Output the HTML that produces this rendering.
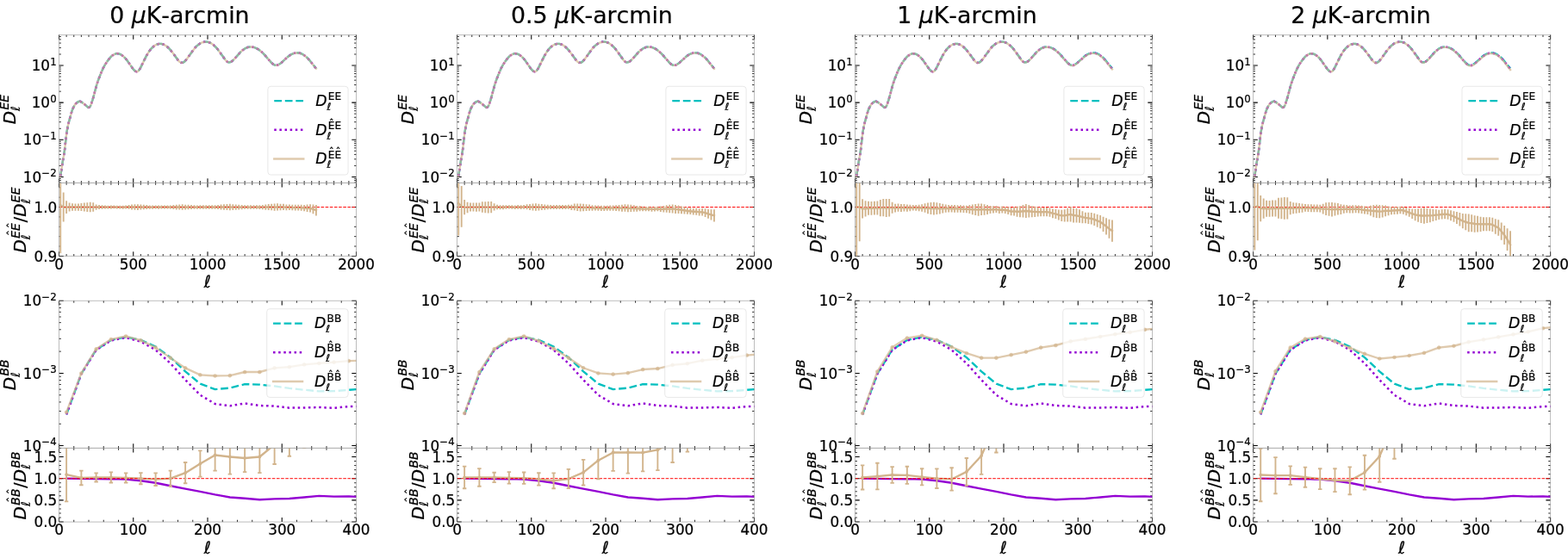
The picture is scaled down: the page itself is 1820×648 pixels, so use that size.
<!DOCTYPE html>
<html lang="en"><head><meta charset="utf-8"><title>Power spectra</title><style>html,body{margin:0;padding:0;background:#fff;overflow:hidden}svg{display:block}text{stroke:#000;stroke-width:.16px;stroke-linejoin:round;font-kerning:none;white-space:pre}</style></head><body><svg width="1820" height="648" viewBox="0 0 1310.4 466.56"><defs><style type="text/css">*{stroke-linejoin: round; stroke-linecap: butt}</style></defs><path d="M0 466.56L1310.4 466.56L1310.4 0L0 0z" style="fill: #ffffff" /><path d="M49.32 152.93L297.72 152.93L297.72 29.23L49.32 29.23z" style="fill: #ffffff" /><path d="M49.32 152.93L49.32 149.18M49.32 29.23L49.32 32.98M111.42 152.93L111.42 149.18M111.42 29.23L111.42 32.98M173.52 152.93L173.52 149.18M173.52 29.23L173.52 32.98M235.62 152.93L235.62 149.18M235.62 29.23L235.62 32.98M297.72 152.93L297.72 149.18M297.72 29.23L297.72 32.98" style="stroke: #000000; stroke-width: 0.75" /><path d="M55.53 152.93L55.53 151.23M55.53 29.23L55.53 30.93M61.74 152.93L61.74 151.23M61.74 29.23L61.74 30.93M67.95 152.93L67.95 151.23M67.95 29.23L67.95 30.93M74.16 152.93L74.16 151.23M74.16 29.23L74.16 30.93M80.37 152.93L80.37 151.23M80.37 29.23L80.37 30.93M86.58 152.93L86.58 151.23M86.58 29.23L86.58 30.93M92.79 152.93L92.79 151.23M92.79 29.23L92.79 30.93M99 152.93L99 151.23M99 29.23L99 30.93M105.21 152.93L105.21 151.23M105.21 29.23L105.21 30.93M117.63 152.93L117.63 151.23M117.63 29.23L117.63 30.93M123.84 152.93L123.84 151.23M123.84 29.23L123.84 30.93M130.05 152.93L130.05 151.23M130.05 29.23L130.05 30.93M136.26 152.93L136.26 151.23M136.26 29.23L136.26 30.93M142.47 152.93L142.47 151.23M142.47 29.23L142.47 30.93M148.68 152.93L148.68 151.23M148.68 29.23L148.68 30.93M154.89 152.93L154.89 151.23M154.89 29.23L154.89 30.93M161.1 152.93L161.1 151.23M161.1 29.23L161.1 30.93M167.31 152.93L167.31 151.23M167.31 29.23L167.31 30.93M179.73 152.93L179.73 151.23M179.73 29.23L179.73 30.93M185.94 152.93L185.94 151.23M185.94 29.23L185.94 30.93M192.15 152.93L192.15 151.23M192.15 29.23L192.15 30.93M198.36 152.93L198.36 151.23M198.36 29.23L198.36 30.93M204.57 152.93L204.57 151.23M204.57 29.23L204.57 30.93M210.78 152.93L210.78 151.23M210.78 29.23L210.78 30.93M216.99 152.93L216.99 151.23M216.99 29.23L216.99 30.93M223.2 152.93L223.2 151.23M223.2 29.23L223.2 30.93M229.41 152.93L229.41 151.23M229.41 29.23L229.41 30.93M241.83 152.93L241.83 151.23M241.83 29.23L241.83 30.93M248.04 152.93L248.04 151.23M248.04 29.23L248.04 30.93M254.25 152.93L254.25 151.23M254.25 29.23L254.25 30.93M260.46 152.93L260.46 151.23M260.46 29.23L260.46 30.93M266.67 152.93L266.67 151.23M266.67 29.23L266.67 30.93M272.88 152.93L272.88 151.23M272.88 29.23L272.88 30.93M279.09 152.93L279.09 151.23M279.09 29.23L279.09 30.93M285.3 152.93L285.3 151.23M285.3 29.23L285.3 30.93M291.51 152.93L291.51 151.23M291.51 29.23L291.51 30.93" style="stroke: #000000; stroke-width: 0.6" /><path d="M49.32 147.89L53.07 147.89M297.72 147.89L293.97 147.89" style="stroke: #000000; stroke-width: 0.75" /><g transform="translate(19.235 152.484)"><text><tspan x="0" y="-0.172" style="font-size: 12.1px; font-family:'DejaVu Sans',sans-serif">10</tspan><tspan x="15.543" y="-4.766" style="font-size: 8.47px; font-family:'DejaVu Sans',sans-serif">−2</tspan></text></g><path d="M49.32 116.83L53.07 116.83M297.72 116.83L293.97 116.83" style="stroke: #000000; stroke-width: 0.75" /><g transform="translate(19.235 121.429)"><text><tspan x="0" y="-0.281" style="font-size: 12.1px; font-family:'DejaVu Sans',sans-serif">10</tspan><tspan x="15.543" y="-4.875" style="font-size: 8.47px; font-family:'DejaVu Sans',sans-serif">−1</tspan></text></g><path d="M49.32 85.78L53.07 85.78M297.72 85.78L293.97 85.78" style="stroke: #000000; stroke-width: 0.75" /><g transform="translate(26.374 90.374)"><text><tspan x="0" y="-0.172" style="font-size: 12.1px; font-family:'DejaVu Sans',sans-serif">10</tspan><tspan x="15.543" y="-4.766" style="font-size: 8.47px; font-family:'DejaVu Sans',sans-serif">0</tspan></text></g><path d="M49.32 54.72L53.07 54.72M297.72 54.72L293.97 54.72" style="stroke: #000000; stroke-width: 0.75" /><g transform="translate(26.374 59.319)"><text><tspan x="0" y="-0.281" style="font-size: 12.1px; font-family:'DejaVu Sans',sans-serif">10</tspan><tspan x="15.543" y="-4.875" style="font-size: 8.47px; font-family:'DejaVu Sans',sans-serif">1</tspan></text></g><path d="M49.32 152.7L51.02 152.7M297.72 152.7L296.02 152.7M49.32 150.9L51.02 150.9M297.72 150.9L296.02 150.9M49.32 149.31L51.02 149.31M297.72 149.31L296.02 149.31M49.32 138.54L51.02 138.54M297.72 138.54L296.02 138.54M49.32 133.07L51.02 133.07M297.72 133.07L296.02 133.07M49.32 129.19L51.02 129.19M297.72 129.19L296.02 129.19M49.32 126.18L51.02 126.18M297.72 126.18L296.02 126.18M49.32 123.72L51.02 123.72M297.72 123.72L296.02 123.72M49.32 121.64L51.02 121.64M297.72 121.64L296.02 121.64M49.32 119.84L51.02 119.84M297.72 119.84L296.02 119.84M49.32 118.25L51.02 118.25M297.72 118.25L296.02 118.25M49.32 107.48L51.02 107.48M297.72 107.48L296.02 107.48M49.32 102.02L51.02 102.02M297.72 102.02L296.02 102.02M49.32 98.14L51.02 98.14M297.72 98.14L296.02 98.14M49.32 95.13L51.02 95.13M297.72 95.13L296.02 95.13M49.32 92.67L51.02 92.67M297.72 92.67L296.02 92.67M49.32 90.59L51.02 90.59M297.72 90.59L296.02 90.59M49.32 88.79L51.02 88.79M297.72 88.79L296.02 88.79M49.32 87.2L51.02 87.2M297.72 87.2L296.02 87.2M49.32 76.43L51.02 76.43M297.72 76.43L296.02 76.43M49.32 70.96L51.02 70.96M297.72 70.96L296.02 70.96M49.32 67.08L51.02 67.08M297.72 67.08L296.02 67.08M49.32 64.07L51.02 64.07M297.72 64.07L296.02 64.07M49.32 61.61L51.02 61.61M297.72 61.61L296.02 61.61M49.32 59.53L51.02 59.53M297.72 59.53L296.02 59.53M49.32 57.73L51.02 57.73M297.72 57.73L296.02 57.73M49.32 56.14L51.02 56.14M297.72 56.14L296.02 56.14M49.32 45.37L51.02 45.37M297.72 45.37L296.02 45.37M49.32 39.91L51.02 39.91M297.72 39.91L296.02 39.91M49.32 36.03L51.02 36.03M297.72 36.03L296.02 36.03M49.32 33.02L51.02 33.02M297.72 33.02L296.02 33.02M49.32 30.56L51.02 30.56M297.72 30.56L296.02 30.56" style="stroke: #000000; stroke-width: 0.6" /><g transform="translate(13.259 103.875) rotate(-90)"><text><tspan x="0" y="-0.498" style="font-style: oblique; font-size: 14.4px; font-family:'DejaVu Sans',sans-serif">D</tspan><tspan x="11.069" y="3.33" style="font-style: oblique; font-size: 10.08px; font-family:'DejaVu Sans',sans-serif">ℓ</tspan><tspan x="12.051" y="-5.858" style="font-style: oblique; font-size: 10.08px; font-family:'DejaVu Sans',sans-serif">EE</tspan></text></g><path d="M50.56 147.27L52.3 135.62L53.42 129.33L54.04 125.16L55.65 111.35L56.52 106.28L57.39 102.56L60 93.1L60.75 91.07L61.99 88.56L62.98 87.05L63.73 86.29L65.22 85.18L66.09 84.81L66.71 84.76L67.33 84.93L68.2 85.42L70.31 86.95L73.79 89.93L74.16 89.9L74.66 89.62L75.28 89.05L75.65 88.4L76.4 86.46L77.51 83.09L79.13 77.18L80.74 71.09L82.23 66.68L84.34 61.23L86.08 57.26L87.45 54.7L89.06 52.09L90.68 49.89L92.67 47.51L93.78 46.51L95.27 45.59L96.64 44.97L97.63 44.72L98.5 44.78L99.75 45.07L100.99 45.62L102.23 46.41L103.6 47.56L105.09 49.13L106.7 51.19L108.94 54.44L111.17 57.63L112.29 58.88L113.16 59.55L113.9 59.86L114.53 59.92L115.02 59.77L115.64 59.31L116.39 58.4L117.26 56.98L118.62 54.26L122.23 46.9L123.84 44.14L125.33 41.99L126.82 40.22L128.19 38.92L129.55 37.92L130.92 37.21L132.16 36.8L133.4 36.62L134.65 36.66L135.89 36.92L137.13 37.39L138.5 38.15L139.86 39.17L141.35 40.57L142.97 42.41L144.83 44.88L149.18 50.81L150.17 51.74L151.04 52.27L151.78 52.48L152.53 52.44L153.28 52.15L154.14 51.54L155.14 50.54L156.5 48.79L162.84 40.11L164.45 38.46L166.07 37.12L167.56 36.17L169.05 35.49L170.41 35.11L171.78 34.96L173.15 35.04L174.51 35.35L175.88 35.91L177.25 36.7L178.74 37.85L180.23 39.28L181.84 41.13L183.7 43.63L188.8 50.7L189.79 51.57L190.66 52.03L191.4 52.15L192.27 52.03L193.14 51.66L194.14 50.99L195.38 49.85L197.24 47.78L200.84 43.73L202.58 42.12L204.2 40.92L205.69 40.08L207.05 39.56L208.42 39.27L209.79 39.21L211.28 39.38L212.77 39.76L214.26 40.37L215.87 41.27L217.49 42.43L219.23 43.95L221.21 46L223.95 49.18L226.68 52.27L228.04 53.49L229.16 54.19L230.03 54.5L230.9 54.59L231.89 54.43L232.89 54.04L234.01 53.36L235.5 52.16L238.23 49.59L240.71 47.38L242.45 46.1L244.07 45.18L245.56 44.58L246.92 44.26L248.29 44.15L249.65 44.26L251.02 44.59L252.39 45.14L253.88 45.99L255.37 47.09L256.98 48.57L258.85 50.61L261.21 53.56L264.19 57.26L264.19 57.26" clip-path="url(#p1ac5917ccf)" style="fill: none; stroke-dasharray: 6.29,2.72; stroke-dashoffset: 0; stroke: #00bfbf; stroke-width: 1.7" /><path d="M50.56 147.24L52.3 135.61L53.42 129.33L54.04 125.16L55.65 111.36L56.52 106.28L57.39 102.56L60 93.1L60.75 91.07L61.99 88.56L62.98 87.05L63.73 86.3L65.22 85.18L66.09 84.81L66.71 84.76L67.33 84.93L68.2 85.42L70.31 86.95L73.79 89.93L74.16 89.9L74.66 89.62L75.28 89.05L75.65 88.4L76.4 86.46L77.51 83.09L79.13 77.18L80.74 71.09L82.23 66.68L84.34 61.23L86.08 57.26L87.45 54.7L89.06 52.09L90.68 49.9L92.67 47.51L93.78 46.51L95.27 45.59L96.64 44.97L97.63 44.72L98.5 44.78L99.75 45.07L100.99 45.62L102.23 46.41L103.6 47.56L105.09 49.13L106.7 51.19L108.94 54.44L111.17 57.63L112.29 58.88L113.16 59.55L113.9 59.86L114.53 59.92L115.02 59.77L115.64 59.31L116.39 58.4L117.26 56.98L118.62 54.26L122.23 46.9L123.84 44.14L125.33 41.99L126.82 40.22L128.19 38.92L129.55 37.92L130.92 37.21L132.16 36.8L133.4 36.62L134.65 36.66L135.89 36.92L137.13 37.39L138.5 38.15L139.86 39.17L141.35 40.57L142.97 42.41L144.83 44.88L149.18 50.81L150.17 51.74L151.04 52.27L151.78 52.48L152.53 52.44L153.28 52.15L154.14 51.54L155.14 50.54L156.5 48.79L162.84 40.11L164.45 38.46L166.07 37.12L167.56 36.17L169.05 35.49L170.41 35.11L171.78 34.96L173.15 35.04L174.51 35.35L175.88 35.9L177.25 36.7L178.74 37.85L180.23 39.28L181.84 41.13L183.7 43.63L188.8 50.7L189.79 51.57L190.66 52.02L191.4 52.15L192.27 52.03L193.14 51.66L194.14 50.99L195.38 49.85L197.24 47.78L200.84 43.73L202.58 42.12L204.2 40.91L205.69 40.08L207.05 39.56L208.42 39.27L209.79 39.21L211.28 39.38L212.77 39.76L214.26 40.37L215.87 41.27L217.49 42.43L219.23 43.95L221.21 46L223.95 49.18L226.68 52.27L228.04 53.49L229.16 54.19L230.03 54.5L230.9 54.59L231.89 54.43L232.89 54.04L234.01 53.36L235.5 52.16L238.35 49.47L240.84 47.28L242.58 46.02L244.19 45.13L245.68 44.55L247.05 44.25L248.41 44.16L249.78 44.29L251.15 44.64L252.51 45.21L254 46.08L255.49 47.21L257.11 48.71L258.97 50.77L261.33 53.75L264.19 57.3L264.19 57.3" clip-path="url(#p1ac5917ccf)" style="fill: none; stroke-dasharray: 1.8,2.61; stroke-dashoffset: 0; stroke: #9400d3; stroke-width: 1.8" /><path d="M50.56 147.21L52.3 135.6L53.42 129.33L54.04 125.16L55.65 111.36L56.52 106.28L57.39 102.56L60 93.1L60.75 91.07L61.99 88.56L62.98 87.05L63.73 86.3L65.22 85.18L66.09 84.81L66.71 84.76L67.33 84.93L68.2 85.42L70.31 86.95L73.79 89.93L74.16 89.9L74.66 89.62L75.28 89.05L75.65 88.4L76.4 86.46L77.51 83.09L79.13 77.18L80.74 71.09L82.23 66.68L84.34 61.23L86.08 57.26L87.45 54.7L89.06 52.09L90.68 49.9L92.67 47.51L93.78 46.5L95.27 45.59L96.64 44.97L97.63 44.72L98.5 44.78L99.75 45.08L100.99 45.62L102.23 46.41L103.6 47.56L105.09 49.13L106.7 51.19L108.94 54.44L111.17 57.63L112.29 58.87L113.16 59.55L113.9 59.86L114.53 59.92L115.02 59.77L115.64 59.31L116.39 58.4L117.26 56.98L118.62 54.26L122.23 46.9L123.84 44.14L125.33 41.99L126.82 40.22L128.19 38.92L129.55 37.92L130.92 37.21L132.16 36.8L133.4 36.62L134.65 36.66L135.89 36.92L137.13 37.39L138.5 38.15L139.86 39.17L141.35 40.57L142.97 42.41L144.83 44.88L149.18 50.81L150.17 51.74L151.04 52.27L151.78 52.48L152.53 52.44L153.28 52.15L154.14 51.54L155.14 50.54L156.5 48.79L162.84 40.11L164.45 38.46L166.07 37.12L167.56 36.17L169.05 35.49L170.41 35.11L171.78 34.96L173.15 35.04L174.51 35.35L175.88 35.9L177.25 36.7L178.74 37.85L180.23 39.28L181.84 41.13L183.7 43.63L188.8 50.7L189.79 51.57L190.66 52.02L191.4 52.15L192.27 52.03L193.14 51.66L194.14 50.99L195.38 49.85L197.24 47.78L200.84 43.73L202.58 42.12L204.2 40.91L205.69 40.08L207.05 39.56L208.42 39.27L209.79 39.21L211.28 39.38L212.77 39.76L214.26 40.37L215.87 41.27L217.49 42.43L219.23 43.95L221.21 46L223.95 49.18L226.68 52.27L228.04 53.49L229.16 54.19L230.03 54.5L230.9 54.59L231.89 54.43L232.89 54.04L234.01 53.36L235.5 52.16L238.35 49.47L240.84 47.28L242.58 46.03L244.19 45.13L245.68 44.56L247.05 44.25L248.41 44.16L249.78 44.29L251.15 44.65L252.51 45.22L254 46.09L255.62 47.33L257.23 48.85L259.09 50.94L261.45 53.94L264.19 57.35L264.19 57.35" clip-path="url(#p1ac5917ccf)" style="fill: none; stroke: #d2b48c; stroke-opacity: 0.7; stroke-width: 1.7; stroke-linecap: square" /><path d="M49.32 152.93L49.32 29.23M297.72 152.93L297.72 29.23M49.32 152.93L297.72 152.93M49.32 29.23L297.72 29.23" style="fill: none; stroke: #888888; stroke-width: 0.4; stroke-linejoin: miter; stroke-linecap: square" /><path d="M226.34 146.18L288.47 146.18Q290.97 146.18 290.97 143.68L290.97 74.68Q290.97 72.18 288.47 72.18L226.34 72.18Q223.84 72.18 223.84 74.68L223.84 143.68Q223.84 146.18 226.34 146.18z" style="fill: #ffffff; opacity: 0.8; stroke: #cccccc; stroke-width: 0.4; stroke-linejoin: miter" /><path d="M229.16 84.37L241.41 84.37L253.66 84.37" style="fill: none; stroke-dasharray: 6.29,2.72; stroke-dashoffset: 0; stroke: #00bfbf; stroke-width: 1.7" /><g transform="translate(263.657 88.740)"><text><tspan x="0" y="-0.384" style="font-style: oblique; font-size: 12.5px; font-family:'DejaVu Sans',sans-serif">D</tspan><tspan x="9.625" y="3.17" style="font-style: oblique; font-size: 8.75px; font-family:'DejaVu Sans',sans-serif">ℓ</tspan><tspan x="10.538" y="-5.361" style="font-size: 8.75px; font-family:'DejaVu Sans',sans-serif">EE</tspan></text></g><path d="M229.16 108.62L241.41 108.62L253.66 108.62" style="fill: none; stroke-dasharray: 1.8,2.61; stroke-dashoffset: 0; stroke: #9400d3; stroke-width: 1.8" /><g transform="translate(263.657 112.990)"><text><tspan x="0" y="-0.114" style="font-style: oblique; font-size: 12.5px; font-family:'DejaVu Sans',sans-serif">D</tspan><tspan x="9.625" y="3.441" style="font-style: oblique; font-size: 8.75px; font-family:'DejaVu Sans',sans-serif">ℓ</tspan><tspan x="10.538" y="-5.091" style="font-size: 8.75px; font-family:'DejaVu Sans',sans-serif">E</tspan><tspan x="15.527" y="-6.627" style="font-size: 8.75px; font-family:'DejaVu Sans',sans-serif">̂</tspan><tspan x="16.067" y="-5.091" style="font-size: 8.75px; font-family:'DejaVu Sans',sans-serif">E</tspan></text></g><path d="M229.16 132.87L241.41 132.87L253.66 132.87" style="fill: none; stroke: #d2b48c; stroke-opacity: 0.7; stroke-width: 1.7; stroke-linecap: square" /><g transform="translate(263.657 137.240)"><text><tspan x="0" y="-0.114" style="font-style: oblique; font-size: 12.5px; font-family:'DejaVu Sans',sans-serif">D</tspan><tspan x="9.625" y="3.441" style="font-style: oblique; font-size: 8.75px; font-family:'DejaVu Sans',sans-serif">ℓ</tspan><tspan x="10.538" y="-5.091" style="font-size: 8.75px; font-family:'DejaVu Sans',sans-serif">E</tspan><tspan x="15.527" y="-6.627" style="font-size: 8.75px; font-family:'DejaVu Sans',sans-serif">̂</tspan><tspan x="16.067" y="-5.091" style="font-size: 8.75px; font-family:'DejaVu Sans',sans-serif">E</tspan><tspan x="21.056" y="-6.627" style="font-size: 8.75px; font-family:'DejaVu Sans',sans-serif">̂</tspan></text></g><path d="M49.32 214.13L297.72 214.13L297.72 152.93L49.32 152.93z" style="fill: #ffffff" /><path d="M49.32 214.13L49.32 210.38M49.32 152.93L49.32 156.68" style="stroke: #000000; stroke-width: 0.75" /><text style="font-size: 12.1px; font-family:'DejaVu Sans',sans-serif; text-anchor: middle" x="49.32" y="225.072" transform="rotate(-0 49.32 225.072)">0</text><path d="M111.42 214.13L111.42 210.38M111.42 152.93L111.42 156.68" style="stroke: #000000; stroke-width: 0.75" /><text style="font-size: 12.1px; font-family:'DejaVu Sans',sans-serif; text-anchor: middle" x="111.42" y="225.072" transform="rotate(-0 111.42 225.072)">500</text><path d="M173.52 214.13L173.52 210.38M173.52 152.93L173.52 156.68" style="stroke: #000000; stroke-width: 0.75" /><text style="font-size: 12.1px; font-family:'DejaVu Sans',sans-serif; text-anchor: middle" x="173.52" y="225.072" transform="rotate(-0 173.52 225.072)">1000</text><path d="M235.62 214.13L235.62 210.38M235.62 152.93L235.62 156.68" style="stroke: #000000; stroke-width: 0.75" /><text style="font-size: 12.1px; font-family:'DejaVu Sans',sans-serif; text-anchor: middle" x="235.62" y="225.072" transform="rotate(-0 235.62 225.072)">1500</text><path d="M297.72 214.13L297.72 210.38M297.72 152.93L297.72 156.68" style="stroke: #000000; stroke-width: 0.75" /><text style="font-size: 12.1px; font-family:'DejaVu Sans',sans-serif; text-anchor: middle" x="297.72" y="225.072" transform="rotate(-0 297.72 225.072)">2000</text><path d="M55.53 214.13L55.53 212.43M55.53 152.93L55.53 154.63M61.74 214.13L61.74 212.43M61.74 152.93L61.74 154.63M67.95 214.13L67.95 212.43M67.95 152.93L67.95 154.63M74.16 214.13L74.16 212.43M74.16 152.93L74.16 154.63M80.37 214.13L80.37 212.43M80.37 152.93L80.37 154.63M86.58 214.13L86.58 212.43M86.58 152.93L86.58 154.63M92.79 214.13L92.79 212.43M92.79 152.93L92.79 154.63M99 214.13L99 212.43M99 152.93L99 154.63M105.21 214.13L105.21 212.43M105.21 152.93L105.21 154.63M117.63 214.13L117.63 212.43M117.63 152.93L117.63 154.63M123.84 214.13L123.84 212.43M123.84 152.93L123.84 154.63M130.05 214.13L130.05 212.43M130.05 152.93L130.05 154.63M136.26 214.13L136.26 212.43M136.26 152.93L136.26 154.63M142.47 214.13L142.47 212.43M142.47 152.93L142.47 154.63M148.68 214.13L148.68 212.43M148.68 152.93L148.68 154.63M154.89 214.13L154.89 212.43M154.89 152.93L154.89 154.63M161.1 214.13L161.1 212.43M161.1 152.93L161.1 154.63M167.31 214.13L167.31 212.43M167.31 152.93L167.31 154.63M179.73 214.13L179.73 212.43M179.73 152.93L179.73 154.63M185.94 214.13L185.94 212.43M185.94 152.93L185.94 154.63M192.15 214.13L192.15 212.43M192.15 152.93L192.15 154.63M198.36 214.13L198.36 212.43M198.36 152.93L198.36 154.63M204.57 214.13L204.57 212.43M204.57 152.93L204.57 154.63M210.78 214.13L210.78 212.43M210.78 152.93L210.78 154.63M216.99 214.13L216.99 212.43M216.99 152.93L216.99 154.63M223.2 214.13L223.2 212.43M223.2 152.93L223.2 154.63M229.41 214.13L229.41 212.43M229.41 152.93L229.41 154.63M241.83 214.13L241.83 212.43M241.83 152.93L241.83 154.63M248.04 214.13L248.04 212.43M248.04 152.93L248.04 154.63M254.25 214.13L254.25 212.43M254.25 152.93L254.25 154.63M260.46 214.13L260.46 212.43M260.46 152.93L260.46 154.63M266.67 214.13L266.67 212.43M266.67 152.93L266.67 154.63M272.88 214.13L272.88 212.43M272.88 152.93L272.88 154.63M279.09 214.13L279.09 212.43M279.09 152.93L279.09 154.63M285.3 214.13L285.3 212.43M285.3 152.93L285.3 154.63M291.51 214.13L291.51 212.43M291.51 152.93L291.51 154.63" style="stroke: #000000; stroke-width: 0.6" /><g transform="translate(170.496 240.980)"><text><tspan x="0" y="-0.609" style="font-style: oblique; font-size: 14.4px; font-family:'DejaVu Sans',sans-serif">ℓ</tspan></text></g><path d="M49.32 214.13L53.07 214.13M297.72 214.13L293.97 214.13" style="stroke: #000000; stroke-width: 0.75" /><text style="font-size: 12.1px; font-family:'DejaVu Sans',sans-serif; text-anchor: end" x="47.67" y="218.725" transform="rotate(-0 47.67 218.725)">0.9</text><path d="M49.32 173.19L53.07 173.19M297.72 173.19L293.97 173.19" style="stroke: #000000; stroke-width: 0.75" /><text style="font-size: 12.1px; font-family:'DejaVu Sans',sans-serif; text-anchor: end" x="47.67" y="177.788" transform="rotate(-0 47.67 177.788)">1.0</text><path d="M49.32 205.94L51.02 205.94M297.72 205.94L296.02 205.94M49.32 197.75L51.02 197.75M297.72 197.75L296.02 197.75M49.32 189.57L51.02 189.57M297.72 189.57L296.02 189.57M49.32 181.38L51.02 181.38M297.72 181.38L296.02 181.38M49.32 165L51.02 165M297.72 165L296.02 165M49.32 156.82L51.02 156.82M297.72 156.82L296.02 156.82" style="stroke: #000000; stroke-width: 0.6" /><g transform="translate(22.451 211.339) rotate(-90)"><text><tspan x="0" y="-0.887" style="font-style: oblique; font-size: 14.4px; font-family:'DejaVu Sans',sans-serif">D</tspan><tspan x="11.069" y="2.941" style="font-style: oblique; font-size: 10.08px; font-family:'DejaVu Sans',sans-serif">ℓ</tspan><tspan x="12.051" y="-6.246" style="font-style: oblique; font-size: 10.08px; font-family:'DejaVu Sans',sans-serif">EE</tspan><tspan x="19.05" y="-8.605" style="font-size: 10.08px; font-family:'DejaVu Sans',sans-serif">̂</tspan><tspan x="25.149" y="-0.887" style="font-size: 14.4px; font-family:'DejaVu Sans',sans-serif">/</tspan><tspan x="25.408" y="-8.605" style="font-size: 10.08px; font-family:'DejaVu Sans',sans-serif">̂</tspan><tspan x="29.993" y="-0.887" style="font-style: oblique; font-size: 14.4px; font-family:'DejaVu Sans',sans-serif">D</tspan><tspan x="41.062" y="2.941" style="font-style: oblique; font-size: 10.08px; font-family:'DejaVu Sans',sans-serif">ℓ</tspan><tspan x="42.043" y="-6.246" style="font-style: oblique; font-size: 10.08px; font-family:'DejaVu Sans',sans-serif">EE</tspan></text></g><path d="M50.56 171.55L53.05 173.19L55.53 173.27L58.01 173.19L60.5 173.16L62.98 173.23L65.47 173.18L67.95 173.19L70.43 173.19L72.92 173.2L75.4 173.17L77.89 173.13L80.37 173.24L82.85 173.14L85.34 173.18L87.82 173.17L90.31 173.25L92.79 173.18L95.27 173.12L97.76 173.24L100.24 173.29L102.73 173.28L105.21 173.18L107.69 173.07L110.18 173.14L112.66 173.11L115.15 173.19L117.63 173.12L120.11 173.2L122.6 173.16L125.08 173.2L127.57 173.22L130.05 173.19L132.53 173.21L135.02 173.13L137.5 173.18L139.99 173.17L142.47 173.21L144.95 173.13L147.44 173.23L149.92 173.16L152.41 173.21L154.89 173.24L157.37 173.22L159.86 173.23L162.34 173.2L164.83 173.21L167.31 173.18L169.79 173.16L172.28 173.2L174.76 173.19L177.25 173.18L179.73 173.22L182.21 173.16L184.7 173.15L187.18 173.18L189.67 173.07L192.15 173.15L194.63 173.2L197.12 173.21L199.6 173.2L202.09 173.22L204.57 173.14L207.05 173.23L209.54 173.2L212.02 173.22L214.51 173.14L216.99 173.26L219.47 173.21L221.96 173.2L224.44 173.18L226.93 173.17L229.41 173.2L231.89 173.14L234.38 173.18L236.86 173.11L239.35 173.39L241.83 173.37L244.31 173.53L246.8 173.6L249.28 173.56L251.77 173.7L254.25 174L256.73 174.04L259.22 174.16L261.7 174.87L264.19 175.85" clip-path="url(#p35e9d8f86e)" style="fill: none; stroke: #d2b48c; stroke-width: 1.7; stroke-linecap: square" /><path d="M49.32 173.19L297.72 173.19" clip-path="url(#p35e9d8f86e)" style="fill: none; stroke-dasharray: 2.59,1.12; stroke-dashoffset: 0; stroke: #ff0000; stroke-width: 0.7" /><path d="M50.56 211.67L50.56 131.44M53.05 185.47L53.05 160.91M55.53 178.55L55.53 167.99M58.01 176.79L58.01 169.59M60.5 176.23L60.5 170.09M62.98 176.26L62.98 170.2M65.47 176.17L65.47 170.19M67.95 176.48L67.95 169.89M70.43 176.79L70.43 169.59M72.92 177.05L72.92 169.35M75.4 177.26L75.4 169.08M77.89 176.9L77.89 169.37M80.37 175.45L80.37 171.03M82.85 174.98L82.85 171.3M85.34 174.78L85.34 171.58M87.82 174.63L87.82 171.71M90.31 174.67L90.31 171.82M92.79 174.58L92.79 171.79M95.27 174.48L95.27 171.76M97.76 174.57L97.76 171.92M100.24 174.63L100.24 171.95M102.73 174.69L102.73 171.87M105.21 174.65L105.21 171.7M107.69 174.86L107.69 171.29M110.18 175.23L110.18 171.04M112.66 175.43L112.66 170.79M115.15 175.64L115.15 170.73M117.63 175.33L117.63 170.91M120.11 175.17L120.11 171.24M122.6 174.93L122.6 171.39M125.08 174.78L125.08 171.63M127.57 174.69L127.57 171.74M130.05 174.66L130.05 171.71M132.53 174.69L132.53 171.74M135.02 174.6L135.02 171.65M137.5 174.66L137.5 171.71M139.99 174.65L139.99 171.7M142.47 174.68L142.47 171.73M144.95 174.87L144.95 171.39M147.44 175.23L147.44 171.23M149.92 175.36L149.92 170.96M152.41 175.54L152.41 170.88M154.89 175.39L154.89 171.09M157.37 175.18L157.37 171.25M159.86 175.03L159.86 171.43M162.34 174.84L162.34 171.56M164.83 174.77L164.83 171.65M167.31 174.75L167.31 171.6M169.79 174.75L169.79 171.58M172.28 174.8L172.28 171.6M174.76 174.81L174.76 171.58M177.25 174.8L177.25 171.55M179.73 174.86L179.73 171.58M182.21 175.04L182.21 171.27M184.7 175.28L184.7 171.02M187.18 175.56L187.18 170.81M189.67 175.59L189.67 170.56M192.15 175.81L192.15 170.49M194.63 175.65L194.63 170.74M197.12 175.46L197.12 170.96M199.6 175.25L199.6 171.16M202.09 175.06L202.09 171.37M204.57 174.77L204.57 171.5M207.05 174.86L207.05 171.59M209.54 174.83L209.54 171.56M212.02 174.86L212.02 171.58M214.51 174.78L214.51 171.5M216.99 174.9L216.99 171.62M219.47 175.14L219.47 171.28M221.96 175.42L221.96 170.98M224.44 175.69L224.44 170.66M226.93 175.93L226.93 170.41M229.41 176.17L229.41 170.23M231.89 176.11L231.89 170.18M234.38 175.94L234.38 170.41M236.86 175.7L236.86 170.52M239.35 175.84L239.35 170.93M241.83 175.69L241.83 171.05M244.31 175.83L244.31 171.23M246.8 175.99L246.8 171.21M249.28 176.04L249.28 171.09M251.77 176.27L251.77 171.13M254.25 176.66L254.25 171.34M256.73 177.03L256.73 171.05M259.22 177.47L259.22 170.84M261.7 178.69L261.7 171.04M264.19 180.36L264.19 171.35" clip-path="url(#p35e9d8f86e)" style="fill: none; stroke: #d2b48c; stroke-width: 1.35" /><path d="M49.32 214.13L49.32 152.93M297.72 214.13L297.72 152.93M49.32 214.13L297.72 214.13M49.32 152.93L297.72 152.93" style="fill: none; stroke: #888888; stroke-width: 0.4; stroke-linejoin: miter; stroke-linecap: square" /><path d="M49.32 374.69L297.72 374.69L297.72 251.5L49.32 251.5z" style="fill: #ffffff" /><path d="M49.32 374.69L49.32 370.94M49.32 251.5L49.32 255.25M111.42 374.69L111.42 370.94M111.42 251.5L111.42 255.25M173.52 374.69L173.52 370.94M173.52 251.5L173.52 255.25M235.62 374.69L235.62 370.94M235.62 251.5L235.62 255.25M297.72 374.69L297.72 370.94M297.72 251.5L297.72 255.25" style="stroke: #000000; stroke-width: 0.75" /><path d="M61.74 374.69L61.74 372.99M61.74 251.5L61.74 253.2M74.16 374.69L74.16 372.99M74.16 251.5L74.16 253.2M86.58 374.69L86.58 372.99M86.58 251.5L86.58 253.2M99 374.69L99 372.99M99 251.5L99 253.2M123.84 374.69L123.84 372.99M123.84 251.5L123.84 253.2M136.26 374.69L136.26 372.99M136.26 251.5L136.26 253.2M148.68 374.69L148.68 372.99M148.68 251.5L148.68 253.2M161.1 374.69L161.1 372.99M161.1 251.5L161.1 253.2M185.94 374.69L185.94 372.99M185.94 251.5L185.94 253.2M198.36 374.69L198.36 372.99M198.36 251.5L198.36 253.2M210.78 374.69L210.78 372.99M210.78 251.5L210.78 253.2M223.2 374.69L223.2 372.99M223.2 251.5L223.2 253.2M248.04 374.69L248.04 372.99M248.04 251.5L248.04 253.2M260.46 374.69L260.46 372.99M260.46 251.5L260.46 253.2M272.88 374.69L272.88 372.99M272.88 251.5L272.88 253.2M285.3 374.69L285.3 372.99M285.3 251.5L285.3 253.2" style="stroke: #000000; stroke-width: 0.6" /><path d="M49.32 372.67L53.07 372.67M297.72 372.67L293.97 372.67" style="stroke: #000000; stroke-width: 0.75" /><g transform="translate(19.235 377.267)"><text><tspan x="0" y="-0.281" style="font-size: 12.1px; font-family:'DejaVu Sans',sans-serif">10</tspan><tspan x="15.543" y="-4.875" style="font-size: 8.47px; font-family:'DejaVu Sans',sans-serif">−4</tspan></text></g><path d="M49.32 312.08L53.07 312.08M297.72 312.08L293.97 312.08" style="stroke: #000000; stroke-width: 0.75" /><g transform="translate(19.235 316.680)"><text><tspan x="0" y="-0.172" style="font-size: 12.1px; font-family:'DejaVu Sans',sans-serif">10</tspan><tspan x="15.543" y="-4.766" style="font-size: 8.47px; font-family:'DejaVu Sans',sans-serif">−3</tspan></text></g><path d="M49.32 251.5L53.07 251.5M297.72 251.5L293.97 251.5" style="stroke: #000000; stroke-width: 0.75" /><g transform="translate(19.235 256.093)"><text><tspan x="0" y="-0.172" style="font-size: 12.1px; font-family:'DejaVu Sans',sans-serif">10</tspan><tspan x="15.543" y="-4.766" style="font-size: 8.47px; font-family:'DejaVu Sans',sans-serif">−2</tspan></text></g><path d="M49.32 354.43L51.02 354.43M297.72 354.43L296.02 354.43M49.32 343.76L51.02 343.76M297.72 343.76L296.02 343.76M49.32 336.19L51.02 336.19M297.72 336.19L296.02 336.19M49.32 330.32L51.02 330.32M297.72 330.32L296.02 330.32M49.32 325.52L51.02 325.52M297.72 325.52L296.02 325.52M49.32 321.47L51.02 321.47M297.72 321.47L296.02 321.47M49.32 317.95L51.02 317.95M297.72 317.95L296.02 317.95M49.32 314.86L51.02 314.86M297.72 314.86L296.02 314.86M49.32 293.84L51.02 293.84M297.72 293.84L296.02 293.84M49.32 283.18L51.02 283.18M297.72 283.18L296.02 283.18M49.32 275.61L51.02 275.61M297.72 275.61L296.02 275.61M49.32 269.73L51.02 269.73M297.72 269.73L296.02 269.73M49.32 264.94L51.02 264.94M297.72 264.94L296.02 264.94M49.32 260.88L51.02 260.88M297.72 260.88L296.02 260.88M49.32 257.37L51.02 257.37M297.72 257.37L296.02 257.37M49.32 254.27L51.02 254.27M297.72 254.27L296.02 254.27" style="stroke: #000000; stroke-width: 0.6" /><g transform="translate(13.259 326.391) rotate(-90)"><text><tspan x="0" y="-0.498" style="font-style: oblique; font-size: 14.4px; font-family:'DejaVu Sans',sans-serif">D</tspan><tspan x="11.069" y="3.33" style="font-style: oblique; font-size: 10.08px; font-family:'DejaVu Sans',sans-serif">ℓ</tspan><tspan x="12.051" y="-5.858" style="font-style: oblique; font-size: 10.08px; font-family:'DejaVu Sans',sans-serif">BB</tspan></text></g><path d="M55.53 346.54L67.95 312.48L80.37 292.44L92.79 284.34L105.21 281.73L117.63 284.25L130.05 289.83L142.47 298.91L154.89 310.55L167.31 320.91L179.73 325.52L192.15 324.45L204.57 321.21L216.99 321.58L229.41 322.86L241.83 324.66L254.25 325.97L266.67 327.13L279.09 326.96L291.51 326.03L303.93 325.04L316.35 324.24" clip-path="url(#p9d2b2149be)" style="fill: none; stroke-dasharray: 6.29,2.72; stroke-dashoffset: 0; stroke: #00bfbf; stroke-width: 1.7" /><path d="M55.53 346.54L67.95 312.61L80.37 292.7L92.79 284.61L105.21 282.26L117.63 285.6L130.05 292.6L142.47 303.81L154.89 317.6L167.31 330.3L179.73 337.68L192.15 339.33L204.57 337.27L216.99 339.14L229.41 339.51L241.83 341.02L254.25 340.85L266.67 340.57L279.09 341.11L291.51 339.91L303.93 339.83L316.35 339.03" clip-path="url(#p9d2b2149be)" style="fill: none; stroke-dasharray: 1.8,2.61; stroke-dashoffset: 0; stroke: #9400d3; stroke-width: 1.8" /><path d="M55.53 344.66L67.95 312.08L80.37 291.82L92.79 283.71L105.21 281.15L117.63 284.53L130.05 290.63L142.47 299.23L154.89 307.73L167.31 313.43L179.73 314.28L192.15 313.99L204.57 311.05L216.99 311.05L229.41 307.73L241.83 306.85L254.25 304.78L266.67 303.8L279.09 302.86L291.51 301.77L303.93 301.41L316.35 300.55" clip-path="url(#p9d2b2149be)" style="fill: none; stroke: #d2b48c; stroke-opacity: 0.7; stroke-width: 1.7; stroke-linecap: square" /><g clip-path="url(#p9d2b2149be)"><path d="M55.53 346.31C55.97 346.31 56.39 346.13 56.7 345.82C57.01 345.51 57.18 345.09 57.18 344.66C57.18 344.22 57.01 343.8 56.7 343.49C56.39 343.18 55.97 343.01 55.53 343.01C55.09 343.01 54.67 343.18 54.36 343.49C54.05 343.8 53.88 344.22 53.88 344.66C53.88 345.09 54.05 345.51 54.36 345.82C54.67 346.13 55.09 346.31 55.53 346.31z" style="fill: #d2b48c; fill-opacity: 0.7" /><path d="M67.95 313.73C68.39 313.73 68.81 313.56 69.12 313.25C69.43 312.94 69.6 312.52 69.6 312.08C69.6 311.65 69.43 311.23 69.12 310.92C68.81 310.61 68.39 310.43 67.95 310.43C67.51 310.43 67.09 310.61 66.78 310.92C66.47 311.23 66.3 311.65 66.3 312.08C66.3 312.52 66.47 312.94 66.78 313.25C67.09 313.56 67.51 313.73 67.95 313.73z" style="fill: #d2b48c; fill-opacity: 0.7" /><path d="M80.37 293.47C80.81 293.47 81.23 293.3 81.54 292.99C81.85 292.68 82.02 292.26 82.02 291.82C82.02 291.38 81.85 290.96 81.54 290.65C81.23 290.34 80.81 290.17 80.37 290.17C79.93 290.17 79.51 290.34 79.2 290.65C78.89 290.96 78.72 291.38 78.72 291.82C78.72 292.26 78.89 292.68 79.2 292.99C79.51 293.3 79.93 293.47 80.37 293.47z" style="fill: #d2b48c; fill-opacity: 0.7" /><path d="M92.79 285.36C93.23 285.36 93.65 285.18 93.96 284.87C94.27 284.56 94.44 284.14 94.44 283.71C94.44 283.27 94.27 282.85 93.96 282.54C93.65 282.23 93.23 282.06 92.79 282.06C92.35 282.06 91.93 282.23 91.62 282.54C91.31 282.85 91.14 283.27 91.14 283.71C91.14 284.14 91.31 284.56 91.62 284.87C91.93 285.18 92.35 285.36 92.79 285.36z" style="fill: #d2b48c; fill-opacity: 0.7" /><path d="M105.21 282.8C105.65 282.8 106.07 282.63 106.38 282.32C106.69 282.01 106.86 281.59 106.86 281.15C106.86 280.71 106.69 280.29 106.38 279.98C106.07 279.67 105.65 279.5 105.21 279.5C104.77 279.5 104.35 279.67 104.04 279.98C103.73 280.29 103.56 280.71 103.56 281.15C103.56 281.59 103.73 282.01 104.04 282.32C104.35 282.63 104.77 282.8 105.21 282.8z" style="fill: #d2b48c; fill-opacity: 0.7" /><path d="M117.63 286.18C118.07 286.18 118.49 286 118.8 285.69C119.11 285.38 119.28 284.96 119.28 284.53C119.28 284.09 119.11 283.67 118.8 283.36C118.49 283.05 118.07 282.88 117.63 282.88C117.19 282.88 116.77 283.05 116.46 283.36C116.15 283.67 115.98 284.09 115.98 284.53C115.98 284.96 116.15 285.38 116.46 285.69C116.77 286 117.19 286.18 117.63 286.18z" style="fill: #d2b48c; fill-opacity: 0.7" /><path d="M130.05 292.28C130.49 292.28 130.91 292.1 131.22 291.8C131.53 291.49 131.7 291.07 131.7 290.63C131.7 290.19 131.53 289.77 131.22 289.46C130.91 289.15 130.49 288.98 130.05 288.98C129.61 288.98 129.19 289.15 128.88 289.46C128.57 289.77 128.4 290.19 128.4 290.63C128.4 291.07 128.57 291.49 128.88 291.8C129.19 292.1 129.61 292.28 130.05 292.28z" style="fill: #d2b48c; fill-opacity: 0.7" /><path d="M142.47 300.88C142.91 300.88 143.33 300.7 143.64 300.39C143.95 300.08 144.12 299.66 144.12 299.23C144.12 298.79 143.95 298.37 143.64 298.06C143.33 297.75 142.91 297.58 142.47 297.58C142.03 297.58 141.61 297.75 141.3 298.06C140.99 298.37 140.82 298.79 140.82 299.23C140.82 299.66 140.99 300.08 141.3 300.39C141.61 300.7 142.03 300.88 142.47 300.88z" style="fill: #d2b48c; fill-opacity: 0.7" /><path d="M154.89 309.38C155.33 309.38 155.75 309.2 156.06 308.89C156.37 308.59 156.54 308.17 156.54 307.73C156.54 307.29 156.37 306.87 156.06 306.56C155.75 306.25 155.33 306.08 154.89 306.08C154.45 306.08 154.03 306.25 153.72 306.56C153.41 306.87 153.24 307.29 153.24 307.73C153.24 308.17 153.41 308.59 153.72 308.89C154.03 309.2 154.45 309.38 154.89 309.38z" style="fill: #d2b48c; fill-opacity: 0.7" /><path d="M167.31 315.08C167.75 315.08 168.17 314.91 168.48 314.6C168.79 314.29 168.96 313.87 168.96 313.43C168.96 313 168.79 312.58 168.48 312.27C168.17 311.96 167.75 311.78 167.31 311.78C166.87 311.78 166.45 311.96 166.14 312.27C165.83 312.58 165.66 313 165.66 313.43C165.66 313.87 165.83 314.29 166.14 314.6C166.45 314.91 166.87 315.08 167.31 315.08z" style="fill: #d2b48c; fill-opacity: 0.7" /><path d="M179.73 315.93C180.17 315.93 180.59 315.75 180.9 315.44C181.21 315.13 181.38 314.71 181.38 314.28C181.38 313.84 181.21 313.42 180.9 313.11C180.59 312.8 180.17 312.63 179.73 312.63C179.29 312.63 178.87 312.8 178.56 313.11C178.25 313.42 178.08 313.84 178.08 314.28C178.08 314.71 178.25 315.13 178.56 315.44C178.87 315.75 179.29 315.93 179.73 315.93z" style="fill: #d2b48c; fill-opacity: 0.7" /><path d="M192.15 315.64C192.59 315.64 193.01 315.47 193.32 315.16C193.63 314.85 193.8 314.43 193.8 313.99C193.8 313.56 193.63 313.14 193.32 312.83C193.01 312.52 192.59 312.34 192.15 312.34C191.71 312.34 191.29 312.52 190.98 312.83C190.67 313.14 190.5 313.56 190.5 313.99C190.5 314.43 190.67 314.85 190.98 315.16C191.29 315.47 191.71 315.64 192.15 315.64z" style="fill: #d2b48c; fill-opacity: 0.7" /><path d="M204.57 312.7C205.01 312.7 205.43 312.53 205.74 312.22C206.05 311.91 206.22 311.49 206.22 311.05C206.22 310.61 206.05 310.19 205.74 309.88C205.43 309.58 205.01 309.4 204.57 309.4C204.13 309.4 203.71 309.58 203.4 309.88C203.09 310.19 202.92 310.61 202.92 311.05C202.92 311.49 203.09 311.91 203.4 312.22C203.71 312.53 204.13 312.7 204.57 312.7z" style="fill: #d2b48c; fill-opacity: 0.7" /><path d="M216.99 312.7C217.43 312.7 217.85 312.53 218.16 312.22C218.47 311.91 218.64 311.49 218.64 311.05C218.64 310.61 218.47 310.19 218.16 309.88C217.85 309.58 217.43 309.4 216.99 309.4C216.55 309.4 216.13 309.58 215.82 309.88C215.51 310.19 215.34 310.61 215.34 311.05C215.34 311.49 215.51 311.91 215.82 312.22C216.13 312.53 216.55 312.7 216.99 312.7z" style="fill: #d2b48c; fill-opacity: 0.7" /><path d="M229.41 309.38C229.85 309.38 230.27 309.2 230.58 308.89C230.89 308.59 231.06 308.17 231.06 307.73C231.06 307.29 230.89 306.87 230.58 306.56C230.27 306.25 229.85 306.08 229.41 306.08C228.97 306.08 228.55 306.25 228.24 306.56C227.93 306.87 227.76 307.29 227.76 307.73C227.76 308.17 227.93 308.59 228.24 308.89C228.55 309.2 228.97 309.38 229.41 309.38z" style="fill: #d2b48c; fill-opacity: 0.7" /><path d="M241.83 308.5C242.27 308.5 242.69 308.33 243 308.02C243.31 307.71 243.48 307.29 243.48 306.85C243.48 306.41 243.31 305.99 243 305.68C242.69 305.37 242.27 305.2 241.83 305.2C241.39 305.2 240.97 305.37 240.66 305.68C240.35 305.99 240.18 306.41 240.18 306.85C240.18 307.29 240.35 307.71 240.66 308.02C240.97 308.33 241.39 308.5 241.83 308.5z" style="fill: #d2b48c; fill-opacity: 0.7" /><path d="M254.25 306.43C254.69 306.43 255.11 306.25 255.42 305.94C255.73 305.64 255.9 305.22 255.9 304.78C255.9 304.34 255.73 303.92 255.42 303.61C255.11 303.3 254.69 303.13 254.25 303.13C253.81 303.13 253.39 303.3 253.08 303.61C252.77 303.92 252.6 304.34 252.6 304.78C252.6 305.22 252.77 305.64 253.08 305.94C253.39 306.25 253.81 306.43 254.25 306.43z" style="fill: #d2b48c; fill-opacity: 0.7" /><path d="M266.67 305.45C267.11 305.45 267.53 305.28 267.84 304.97C268.15 304.66 268.32 304.24 268.32 303.8C268.32 303.36 268.15 302.94 267.84 302.63C267.53 302.32 267.11 302.15 266.67 302.15C266.23 302.15 265.81 302.32 265.5 302.63C265.19 302.94 265.02 303.36 265.02 303.8C265.02 304.24 265.19 304.66 265.5 304.97C265.81 305.28 266.23 305.45 266.67 305.45z" style="fill: #d2b48c; fill-opacity: 0.7" /><path d="M279.09 304.51C279.53 304.51 279.95 304.33 280.26 304.02C280.57 303.71 280.74 303.29 280.74 302.86C280.74 302.42 280.57 302 280.26 301.69C279.95 301.38 279.53 301.21 279.09 301.21C278.65 301.21 278.23 301.38 277.92 301.69C277.61 302 277.44 302.42 277.44 302.86C277.44 303.29 277.61 303.71 277.92 304.02C278.23 304.33 278.65 304.51 279.09 304.51z" style="fill: #d2b48c; fill-opacity: 0.7" /><path d="M291.51 303.42C291.95 303.42 292.37 303.24 292.68 302.93C292.99 302.62 293.16 302.21 293.16 301.77C293.16 301.33 292.99 300.91 292.68 300.6C292.37 300.29 291.95 300.12 291.51 300.12C291.07 300.12 290.65 300.29 290.34 300.6C290.03 300.91 289.86 301.33 289.86 301.77C289.86 302.21 290.03 302.62 290.34 302.93C290.65 303.24 291.07 303.42 291.51 303.42z" style="fill: #d2b48c; fill-opacity: 0.7" /><path d="M303.93 303.06C304.37 303.06 304.79 302.89 305.1 302.58C305.41 302.27 305.58 301.85 305.58 301.41C305.58 300.98 305.41 300.56 305.1 300.25C304.79 299.94 304.37 299.76 303.93 299.76C303.49 299.76 303.07 299.94 302.76 300.25C302.45 300.56 302.28 300.98 302.28 301.41C302.28 301.85 302.45 302.27 302.76 302.58C303.07 302.89 303.49 303.06 303.93 303.06z" style="fill: #d2b48c; fill-opacity: 0.7" /><path d="M316.35 302.2C316.79 302.2 317.21 302.03 317.52 301.72C317.83 301.41 318 300.99 318 300.55C318 300.11 317.83 299.69 317.52 299.38C317.21 299.08 316.79 298.9 316.35 298.9C315.91 298.9 315.49 299.08 315.18 299.38C314.87 299.69 314.7 300.11 314.7 300.55C314.7 300.99 314.87 301.41 315.18 301.72C315.49 302.03 315.91 302.2 316.35 302.2z" style="fill: #d2b48c; fill-opacity: 0.7" /></g><path d="M49.32 374.69L49.32 251.5M297.72 374.69L297.72 251.5M49.32 374.69L297.72 374.69M49.32 251.5L297.72 251.5" style="fill: none; stroke: #888888; stroke-width: 0.4; stroke-linejoin: miter; stroke-linecap: square" /><path d="M225.47 332.25L288.47 332.25Q290.97 332.25 290.97 329.75L290.97 260.75Q290.97 258.25 288.47 258.25L225.47 258.25Q222.97 258.25 222.97 260.75L222.97 329.75Q222.97 332.25 225.47 332.25z" style="fill: #ffffff; opacity: 0.8; stroke: #cccccc; stroke-width: 0.4; stroke-linejoin: miter" /><path d="M228.28 270.43L240.53 270.43L252.78 270.43" style="fill: none; stroke-dasharray: 6.29,2.72; stroke-dashoffset: 0; stroke: #00bfbf; stroke-width: 1.7" /><g transform="translate(262.782 274.808)"><text><tspan x="0" y="-0.384" style="font-style: oblique; font-size: 12.5px; font-family:'DejaVu Sans',sans-serif">D</tspan><tspan x="9.625" y="3.17" style="font-style: oblique; font-size: 8.75px; font-family:'DejaVu Sans',sans-serif">ℓ</tspan><tspan x="10.538" y="-5.361" style="font-size: 8.75px; font-family:'DejaVu Sans',sans-serif">BB</tspan></text></g><path d="M228.28 294.68L240.53 294.68L252.78 294.68" style="fill: none; stroke-dasharray: 1.8,2.61; stroke-dashoffset: 0; stroke: #9400d3; stroke-width: 1.8" /><g transform="translate(262.782 299.058)"><text><tspan x="0" y="-0.114" style="font-style: oblique; font-size: 12.5px; font-family:'DejaVu Sans',sans-serif">D</tspan><tspan x="9.625" y="3.441" style="font-style: oblique; font-size: 8.75px; font-family:'DejaVu Sans',sans-serif">ℓ</tspan><tspan x="10.538" y="-5.091" style="font-size: 8.75px; font-family:'DejaVu Sans',sans-serif">B</tspan><tspan x="15.646" y="-6.627" style="font-size: 8.75px; font-family:'DejaVu Sans',sans-serif">̂</tspan><tspan x="16.541" y="-5.091" style="font-size: 8.75px; font-family:'DejaVu Sans',sans-serif">B</tspan></text></g><path d="M228.28 318.93L240.53 318.93L252.78 318.93" style="fill: none; stroke: #d2b48c; stroke-opacity: 0.7; stroke-width: 1.7; stroke-linecap: square" /><g transform="translate(262.782 323.308)"><text><tspan x="0" y="-0.114" style="font-style: oblique; font-size: 12.5px; font-family:'DejaVu Sans',sans-serif">D</tspan><tspan x="9.625" y="3.441" style="font-style: oblique; font-size: 8.75px; font-family:'DejaVu Sans',sans-serif">ℓ</tspan><tspan x="10.538" y="-5.091" style="font-size: 8.75px; font-family:'DejaVu Sans',sans-serif">B</tspan><tspan x="15.646" y="-6.627" style="font-size: 8.75px; font-family:'DejaVu Sans',sans-serif">̂</tspan><tspan x="16.541" y="-5.091" style="font-size: 8.75px; font-family:'DejaVu Sans',sans-serif">B</tspan><tspan x="21.649" y="-6.627" style="font-size: 8.75px; font-family:'DejaVu Sans',sans-serif">̂</tspan></text></g><path d="M49.32 436.39L297.72 436.39L297.72 374.69L49.32 374.69z" style="fill: #ffffff" /><path d="M49.32 436.39L49.32 432.64M49.32 374.69L49.32 378.44" style="stroke: #000000; stroke-width: 0.75" /><text style="font-size: 12.1px; font-family:'DejaVu Sans',sans-serif; text-anchor: middle" x="49.32" y="447.336" transform="rotate(-0 49.32 447.336)">0</text><path d="M111.42 436.39L111.42 432.64M111.42 374.69L111.42 378.44" style="stroke: #000000; stroke-width: 0.75" /><text style="font-size: 12.1px; font-family:'DejaVu Sans',sans-serif; text-anchor: middle" x="111.42" y="447.336" transform="rotate(-0 111.42 447.336)">100</text><path d="M173.52 436.39L173.52 432.64M173.52 374.69L173.52 378.44" style="stroke: #000000; stroke-width: 0.75" /><text style="font-size: 12.1px; font-family:'DejaVu Sans',sans-serif; text-anchor: middle" x="173.52" y="447.336" transform="rotate(-0 173.52 447.336)">200</text><path d="M235.62 436.39L235.62 432.64M235.62 374.69L235.62 378.44" style="stroke: #000000; stroke-width: 0.75" /><text style="font-size: 12.1px; font-family:'DejaVu Sans',sans-serif; text-anchor: middle" x="235.62" y="447.336" transform="rotate(-0 235.62 447.336)">300</text><path d="M297.72 436.39L297.72 432.64M297.72 374.69L297.72 378.44" style="stroke: #000000; stroke-width: 0.75" /><text style="font-size: 12.1px; font-family:'DejaVu Sans',sans-serif; text-anchor: middle" x="297.72" y="447.336" transform="rotate(-0 297.72 447.336)">400</text><path d="M61.74 436.39L61.74 434.69M61.74 374.69L61.74 376.39M74.16 436.39L74.16 434.69M74.16 374.69L74.16 376.39M86.58 436.39L86.58 434.69M86.58 374.69L86.58 376.39M99 436.39L99 434.69M99 374.69L99 376.39M123.84 436.39L123.84 434.69M123.84 374.69L123.84 376.39M136.26 436.39L136.26 434.69M136.26 374.69L136.26 376.39M148.68 436.39L148.68 434.69M148.68 374.69L148.68 376.39M161.1 436.39L161.1 434.69M161.1 374.69L161.1 376.39M185.94 436.39L185.94 434.69M185.94 374.69L185.94 376.39M198.36 436.39L198.36 434.69M198.36 374.69L198.36 376.39M210.78 436.39L210.78 434.69M210.78 374.69L210.78 376.39M223.2 436.39L223.2 434.69M223.2 374.69L223.2 376.39M248.04 436.39L248.04 434.69M248.04 374.69L248.04 376.39M260.46 436.39L260.46 434.69M260.46 374.69L260.46 376.39M272.88 436.39L272.88 434.69M272.88 374.69L272.88 376.39M285.3 436.39L285.3 434.69M285.3 374.69L285.3 376.39" style="stroke: #000000; stroke-width: 0.6" /><g transform="translate(170.496 463.244)"><text><tspan x="0" y="-0.609" style="font-style: oblique; font-size: 14.4px; font-family:'DejaVu Sans',sans-serif">ℓ</tspan></text></g><path d="M49.32 436.39L53.07 436.39M297.72 436.39L293.97 436.39" style="stroke: #000000; stroke-width: 0.75" /><text style="font-size: 12.1px; font-family:'DejaVu Sans',sans-serif; text-anchor: end" x="47.67" y="440.989" transform="rotate(-0 47.67 440.989)">0.0</text><path d="M49.32 418.24L53.07 418.24M297.72 418.24L293.97 418.24" style="stroke: #000000; stroke-width: 0.75" /><text style="font-size: 12.1px; font-family:'DejaVu Sans',sans-serif; text-anchor: end" x="47.67" y="422.840" transform="rotate(-0 47.67 422.840)">0.5</text><path d="M49.32 400.1L53.07 400.1M297.72 400.1L293.97 400.1" style="stroke: #000000; stroke-width: 0.75" /><text style="font-size: 12.1px; font-family:'DejaVu Sans',sans-serif; text-anchor: end" x="47.67" y="404.692" transform="rotate(-0 47.67 404.692)">1.0</text><path d="M49.32 381.95L53.07 381.95M297.72 381.95L293.97 381.95" style="stroke: #000000; stroke-width: 0.75" /><text style="font-size: 12.1px; font-family:'DejaVu Sans',sans-serif; text-anchor: end" x="47.67" y="386.544" transform="rotate(-0 47.67 386.544)">1.5</text><path d="M49.32 432.76L51.02 432.76M297.72 432.76L296.02 432.76M49.32 429.13L51.02 429.13M297.72 429.13L296.02 429.13M49.32 425.5L51.02 425.5M297.72 425.5L296.02 425.5M49.32 421.87L51.02 421.87M297.72 421.87L296.02 421.87M49.32 414.61L51.02 414.61M297.72 414.61L296.02 414.61M49.32 410.98L51.02 410.98M297.72 410.98L296.02 410.98M49.32 407.35L51.02 407.35M297.72 407.35L296.02 407.35M49.32 403.73L51.02 403.73M297.72 403.73L296.02 403.73M49.32 396.47L51.02 396.47M297.72 396.47L296.02 396.47M49.32 392.84L51.02 392.84M297.72 392.84L296.02 392.84M49.32 389.21L51.02 389.21M297.72 389.21L296.02 389.21M49.32 385.58L51.02 385.58M297.72 385.58L296.02 385.58M49.32 378.32L51.02 378.32M297.72 378.32L296.02 378.32M49.32 374.69L51.02 374.69M297.72 374.69L296.02 374.69" style="stroke: #000000; stroke-width: 0.6" /><g transform="translate(22.451 434.432) rotate(-90)"><text><tspan x="0" y="-0.887" style="font-style: oblique; font-size: 14.4px; font-family:'DejaVu Sans',sans-serif">D</tspan><tspan x="11.069" y="2.941" style="font-style: oblique; font-size: 10.08px; font-family:'DejaVu Sans',sans-serif">ℓ</tspan><tspan x="12.051" y="-6.246" style="font-style: oblique; font-size: 10.08px; font-family:'DejaVu Sans',sans-serif">BB</tspan><tspan x="19.186" y="-8.605" style="font-size: 10.08px; font-family:'DejaVu Sans',sans-serif">̂</tspan><tspan x="26.089" y="-8.605" style="font-size: 10.08px; font-family:'DejaVu Sans',sans-serif">̂</tspan><tspan x="26.24" y="-0.887" style="font-size: 14.4px; font-family:'DejaVu Sans',sans-serif">/</tspan><tspan x="31.083" y="-0.887" style="font-style: oblique; font-size: 14.4px; font-family:'DejaVu Sans',sans-serif">D</tspan><tspan x="42.152" y="2.941" style="font-style: oblique; font-size: 10.08px; font-family:'DejaVu Sans',sans-serif">ℓ</tspan><tspan x="43.134" y="-6.246" style="font-style: oblique; font-size: 10.08px; font-family:'DejaVu Sans',sans-serif">BB</tspan></text></g><path d="M55.53 400.1L67.95 400.28L80.37 400.46L92.79 400.46L105.21 400.82L117.63 401.91L130.05 403.73L142.47 406.27L154.89 408.63L167.31 410.98L179.73 413.53L192.15 415.78L204.57 416.68L216.99 417.77L229.41 417.12L241.83 416.9L254.25 415.78L266.67 414.61L279.09 415.19L291.51 414.98L303.93 415.7L316.35 415.7" clip-path="url(#p37dc53b4db)" style="fill: none; stroke: #9400d3; stroke-width: 1.7; stroke-linecap: square" /><path d="M55.53 396.83L67.95 399.55L80.37 399.19L92.79 399.19L105.21 399.55L117.63 400.1L130.05 400.82L142.47 400.1L154.89 395.38L167.31 387.75L179.73 380.5L192.15 381.95L204.57 383.04L216.99 381.95L229.41 371.78L241.83 364.89L254.25 355.09L266.67 348.55" clip-path="url(#p37dc53b4db)" style="fill: none; stroke: #d2b48c; stroke-width: 1.7; stroke-linecap: square" /><path d="M49.32 400.1L297.72 400.1" clip-path="url(#p37dc53b4db)" style="fill: none; stroke-dasharray: 2.59,1.12; stroke-dashoffset: 0; stroke: #ff0000; stroke-width: 0.7" /><path d="M55.53 419.33L55.53 374.33M67.95 405.58L67.95 393.53M80.37 402.82L80.37 395.56M92.79 403.54L92.79 394.83M105.21 403.54L105.21 395.56M117.63 404.81L117.63 395.38M130.05 406.12L130.05 395.52M142.47 406.63L142.47 393.56M154.89 404.09L154.89 386.67M167.31 398.64L167.31 376.87M179.73 393.56L179.73 367.43M192.15 396.47L192.15 367.43M204.57 394.65L204.57 371.42M216.99 395.38L216.99 368.52M229.41 388.12L229.41 355.45M241.83 381.4L241.83 348.37M254.25 374.51L254.25 335.67M266.67 370.33L266.67 326.78" clip-path="url(#p37dc53b4db)" style="fill: none; stroke: #d2b48c; stroke-width: 1.35" /><g clip-path="url(#p37dc53b4db)"><path d="M57.13 419.33L53.93 419.33" style="fill: #1f77b4; stroke: #d2b48c; stroke-width: 1.35" /><path d="M69.55 405.58L66.35 405.58" style="fill: #1f77b4; stroke: #d2b48c; stroke-width: 1.35" /><path d="M81.97 402.82L78.77 402.82" style="fill: #1f77b4; stroke: #d2b48c; stroke-width: 1.35" /><path d="M94.39 403.54L91.19 403.54" style="fill: #1f77b4; stroke: #d2b48c; stroke-width: 1.35" /><path d="M106.81 403.54L103.61 403.54" style="fill: #1f77b4; stroke: #d2b48c; stroke-width: 1.35" /><path d="M119.23 404.81L116.03 404.81" style="fill: #1f77b4; stroke: #d2b48c; stroke-width: 1.35" /><path d="M131.65 406.12L128.45 406.12" style="fill: #1f77b4; stroke: #d2b48c; stroke-width: 1.35" /><path d="M144.07 406.63L140.87 406.63" style="fill: #1f77b4; stroke: #d2b48c; stroke-width: 1.35" /><path d="M156.49 404.09L153.29 404.09" style="fill: #1f77b4; stroke: #d2b48c; stroke-width: 1.35" /><path d="M168.91 398.64L165.71 398.64" style="fill: #1f77b4; stroke: #d2b48c; stroke-width: 1.35" /><path d="M181.33 393.56L178.13 393.56" style="fill: #1f77b4; stroke: #d2b48c; stroke-width: 1.35" /><path d="M193.75 396.47L190.55 396.47" style="fill: #1f77b4; stroke: #d2b48c; stroke-width: 1.35" /><path d="M206.17 394.65L202.97 394.65" style="fill: #1f77b4; stroke: #d2b48c; stroke-width: 1.35" /><path d="M218.59 395.38L215.39 395.38" style="fill: #1f77b4; stroke: #d2b48c; stroke-width: 1.35" /><path d="M231.01 388.12L227.81 388.12" style="fill: #1f77b4; stroke: #d2b48c; stroke-width: 1.35" /><path d="M243.43 381.4L240.23 381.4" style="fill: #1f77b4; stroke: #d2b48c; stroke-width: 1.35" /><path d="M255.85 374.51L252.65 374.51" style="fill: #1f77b4; stroke: #d2b48c; stroke-width: 1.35" /><path d="M268.27 370.33L265.07 370.33" style="fill: #1f77b4; stroke: #d2b48c; stroke-width: 1.35" /></g><g clip-path="url(#p37dc53b4db)"><path d="M57.13 374.33L53.93 374.33" style="fill: #1f77b4; stroke: #d2b48c; stroke-width: 1.35" /><path d="M69.55 393.53L66.35 393.53" style="fill: #1f77b4; stroke: #d2b48c; stroke-width: 1.35" /><path d="M81.97 395.56L78.77 395.56" style="fill: #1f77b4; stroke: #d2b48c; stroke-width: 1.35" /><path d="M94.39 394.83L91.19 394.83" style="fill: #1f77b4; stroke: #d2b48c; stroke-width: 1.35" /><path d="M106.81 395.56L103.61 395.56" style="fill: #1f77b4; stroke: #d2b48c; stroke-width: 1.35" /><path d="M119.23 395.38L116.03 395.38" style="fill: #1f77b4; stroke: #d2b48c; stroke-width: 1.35" /><path d="M131.65 395.52L128.45 395.52" style="fill: #1f77b4; stroke: #d2b48c; stroke-width: 1.35" /><path d="M144.07 393.56L140.87 393.56" style="fill: #1f77b4; stroke: #d2b48c; stroke-width: 1.35" /><path d="M156.49 386.67L153.29 386.67" style="fill: #1f77b4; stroke: #d2b48c; stroke-width: 1.35" /><path d="M168.91 376.87L165.71 376.87" style="fill: #1f77b4; stroke: #d2b48c; stroke-width: 1.35" /><path d="M181.33 367.43L178.13 367.43" style="fill: #1f77b4; stroke: #d2b48c; stroke-width: 1.35" /><path d="M193.75 367.43L190.55 367.43" style="fill: #1f77b4; stroke: #d2b48c; stroke-width: 1.35" /><path d="M206.17 371.42L202.97 371.42" style="fill: #1f77b4; stroke: #d2b48c; stroke-width: 1.35" /><path d="M218.59 368.52L215.39 368.52" style="fill: #1f77b4; stroke: #d2b48c; stroke-width: 1.35" /><path d="M231.01 355.45L227.81 355.45" style="fill: #1f77b4; stroke: #d2b48c; stroke-width: 1.35" /><path d="M243.43 348.37L240.23 348.37" style="fill: #1f77b4; stroke: #d2b48c; stroke-width: 1.35" /><path d="M255.85 335.67L252.65 335.67" style="fill: #1f77b4; stroke: #d2b48c; stroke-width: 1.35" /><path d="M268.27 326.78L265.07 326.78" style="fill: #1f77b4; stroke: #d2b48c; stroke-width: 1.35" /></g><g clip-path="url(#p37dc53b4db)"><path d="M55.53 398.18C55.89 398.18 56.23 398.04 56.48 397.78C56.74 397.53 56.88 397.19 56.88 396.83C56.88 396.47 56.74 396.13 56.48 395.87C56.23 395.62 55.89 395.48 55.53 395.48C55.17 395.48 54.83 395.62 54.58 395.87C54.32 396.13 54.18 396.47 54.18 396.83C54.18 397.19 54.32 397.53 54.58 397.78C54.83 398.04 55.17 398.18 55.53 398.18z" style="fill: #d2b48c" /><path d="M67.95 400.9C68.31 400.9 68.65 400.76 68.9 400.51C69.16 400.25 69.3 399.91 69.3 399.55C69.3 399.19 69.16 398.85 68.9 398.6C68.65 398.34 68.31 398.2 67.95 398.2C67.59 398.2 67.25 398.34 67 398.6C66.74 398.85 66.6 399.19 66.6 399.55C66.6 399.91 66.74 400.25 67 400.51C67.25 400.76 67.59 400.9 67.95 400.9z" style="fill: #d2b48c" /><path d="M80.37 400.54C80.73 400.54 81.07 400.4 81.32 400.14C81.58 399.89 81.72 399.55 81.72 399.19C81.72 398.83 81.58 398.49 81.32 398.23C81.07 397.98 80.73 397.84 80.37 397.84C80.01 397.84 79.67 397.98 79.42 398.23C79.16 398.49 79.02 398.83 79.02 399.19C79.02 399.55 79.16 399.89 79.42 400.14C79.67 400.4 80.01 400.54 80.37 400.54z" style="fill: #d2b48c" /><path d="M92.79 400.54C93.15 400.54 93.49 400.4 93.74 400.14C94 399.89 94.14 399.55 94.14 399.19C94.14 398.83 94 398.49 93.74 398.23C93.49 397.98 93.15 397.84 92.79 397.84C92.43 397.84 92.09 397.98 91.84 398.23C91.58 398.49 91.44 398.83 91.44 399.19C91.44 399.55 91.58 399.89 91.84 400.14C92.09 400.4 92.43 400.54 92.79 400.54z" style="fill: #d2b48c" /><path d="M105.21 400.9C105.57 400.9 105.91 400.76 106.16 400.51C106.42 400.25 106.56 399.91 106.56 399.55C106.56 399.19 106.42 398.85 106.16 398.6C105.91 398.34 105.57 398.2 105.21 398.2C104.85 398.2 104.51 398.34 104.26 398.6C104 398.85 103.86 399.19 103.86 399.55C103.86 399.91 104 400.25 104.26 400.51C104.51 400.76 104.85 400.9 105.21 400.9z" style="fill: #d2b48c" /><path d="M117.63 401.45C117.99 401.45 118.33 401.3 118.58 401.05C118.84 400.8 118.98 400.45 118.98 400.1C118.98 399.74 118.84 399.39 118.58 399.14C118.33 398.89 117.99 398.75 117.63 398.75C117.27 398.75 116.93 398.89 116.68 399.14C116.42 399.39 116.28 399.74 116.28 400.1C116.28 400.45 116.42 400.8 116.68 401.05C116.93 401.3 117.27 401.45 117.63 401.45z" style="fill: #d2b48c" /><path d="M130.05 402.17C130.41 402.17 130.75 402.03 131 401.78C131.26 401.52 131.4 401.18 131.4 400.82C131.4 400.46 131.26 400.12 131 399.87C130.75 399.61 130.41 399.47 130.05 399.47C129.69 399.47 129.35 399.61 129.1 399.87C128.84 400.12 128.7 400.46 128.7 400.82C128.7 401.18 128.84 401.52 129.1 401.78C129.35 402.03 129.69 402.17 130.05 402.17z" style="fill: #d2b48c" /><path d="M142.47 401.45C142.83 401.45 143.17 401.3 143.42 401.05C143.68 400.8 143.82 400.45 143.82 400.1C143.82 399.74 143.68 399.39 143.42 399.14C143.17 398.89 142.83 398.75 142.47 398.75C142.11 398.75 141.77 398.89 141.52 399.14C141.26 399.39 141.12 399.74 141.12 400.1C141.12 400.45 141.26 400.8 141.52 401.05C141.77 401.3 142.11 401.45 142.47 401.45z" style="fill: #d2b48c" /><path d="M154.89 396.73C155.25 396.73 155.59 396.58 155.84 396.33C156.1 396.08 156.24 395.74 156.24 395.38C156.24 395.02 156.1 394.68 155.84 394.42C155.59 394.17 155.25 394.03 154.89 394.03C154.53 394.03 154.19 394.17 153.94 394.42C153.68 394.68 153.54 395.02 153.54 395.38C153.54 395.74 153.68 396.08 153.94 396.33C154.19 396.58 154.53 396.73 154.89 396.73z" style="fill: #d2b48c" /><path d="M167.31 389.1C167.67 389.1 168.01 388.96 168.26 388.71C168.52 388.46 168.66 388.11 168.66 387.75C168.66 387.4 168.52 387.05 168.26 386.8C168.01 386.55 167.67 386.4 167.31 386.4C166.95 386.4 166.61 386.55 166.36 386.8C166.1 387.05 165.96 387.4 165.96 387.75C165.96 388.11 166.1 388.46 166.36 388.71C166.61 388.96 166.95 389.1 167.31 389.1z" style="fill: #d2b48c" /><path d="M179.73 381.85C180.09 381.85 180.43 381.7 180.68 381.45C180.94 381.2 181.08 380.85 181.08 380.5C181.08 380.14 180.94 379.79 180.68 379.54C180.43 379.29 180.09 379.15 179.73 379.15C179.37 379.15 179.03 379.29 178.78 379.54C178.52 379.79 178.38 380.14 178.38 380.5C178.38 380.85 178.52 381.2 178.78 381.45C179.03 381.7 179.37 381.85 179.73 381.85z" style="fill: #d2b48c" /><path d="M192.15 383.3C192.51 383.3 192.85 383.16 193.1 382.9C193.36 382.65 193.5 382.31 193.5 381.95C193.5 381.59 193.36 381.25 193.1 380.99C192.85 380.74 192.51 380.6 192.15 380.6C191.79 380.6 191.45 380.74 191.2 380.99C190.94 381.25 190.8 381.59 190.8 381.95C190.8 382.31 190.94 382.65 191.2 382.9C191.45 383.16 191.79 383.3 192.15 383.3z" style="fill: #d2b48c" /><path d="M204.57 384.39C204.93 384.39 205.27 384.24 205.52 383.99C205.78 383.74 205.92 383.39 205.92 383.04C205.92 382.68 205.78 382.33 205.52 382.08C205.27 381.83 204.93 381.69 204.57 381.69C204.21 381.69 203.87 381.83 203.62 382.08C203.36 382.33 203.22 382.68 203.22 383.04C203.22 383.39 203.36 383.74 203.62 383.99C203.87 384.24 204.21 384.39 204.57 384.39z" style="fill: #d2b48c" /><path d="M216.99 383.3C217.35 383.3 217.69 383.16 217.94 382.9C218.2 382.65 218.34 382.31 218.34 381.95C218.34 381.59 218.2 381.25 217.94 380.99C217.69 380.74 217.35 380.6 216.99 380.6C216.63 380.6 216.29 380.74 216.04 380.99C215.78 381.25 215.64 381.59 215.64 381.95C215.64 382.31 215.78 382.65 216.04 382.9C216.29 383.16 216.63 383.3 216.99 383.3z" style="fill: #d2b48c" /><path d="M229.41 373.13C229.77 373.13 230.11 372.99 230.36 372.74C230.62 372.49 230.76 372.14 230.76 371.78C230.76 371.43 230.62 371.08 230.36 370.83C230.11 370.58 229.77 370.43 229.41 370.43C229.05 370.43 228.71 370.58 228.46 370.83C228.2 371.08 228.06 371.43 228.06 371.78C228.06 372.14 228.2 372.49 228.46 372.74C228.71 372.99 229.05 373.13 229.41 373.13z" style="fill: #d2b48c" /><path d="M241.83 366.24C242.19 366.24 242.53 366.1 242.78 365.84C243.04 365.59 243.18 365.25 243.18 364.89C243.18 364.53 243.04 364.19 242.78 363.93C242.53 363.68 242.19 363.54 241.83 363.54C241.47 363.54 241.13 363.68 240.88 363.93C240.62 364.19 240.48 364.53 240.48 364.89C240.48 365.25 240.62 365.59 240.88 365.84C241.13 366.1 241.47 366.24 241.83 366.24z" style="fill: #d2b48c" /><path d="M254.25 356.44C254.61 356.44 254.95 356.3 255.2 356.04C255.46 355.79 255.6 355.45 255.6 355.09C255.6 354.73 255.46 354.39 255.2 354.13C254.95 353.88 254.61 353.74 254.25 353.74C253.89 353.74 253.55 353.88 253.3 354.13C253.04 354.39 252.9 354.73 252.9 355.09C252.9 355.45 253.04 355.79 253.3 356.04C253.55 356.3 253.89 356.44 254.25 356.44z" style="fill: #d2b48c" /><path d="M266.67 349.9C267.03 349.9 267.37 349.76 267.62 349.51C267.88 349.26 268.02 348.91 268.02 348.55C268.02 348.2 267.88 347.85 267.62 347.6C267.37 347.35 267.03 347.2 266.67 347.2C266.31 347.2 265.97 347.35 265.72 347.6C265.46 347.85 265.32 348.2 265.32 348.55C265.32 348.91 265.46 349.26 265.72 349.51C265.97 349.76 266.31 349.9 266.67 349.9z" style="fill: #d2b48c" /></g><path d="M49.32 436.39L49.32 374.69M297.72 436.39L297.72 374.69M49.32 436.39L297.72 436.39M49.32 374.69L297.72 374.69" style="fill: none; stroke: #888888; stroke-width: 0.4; stroke-linejoin: miter; stroke-linecap: square" /><path d="M381.96 152.93L630.36 152.93L630.36 29.23L381.96 29.23z" style="fill: #ffffff" /><path d="M381.96 152.93L381.96 149.18M381.96 29.23L381.96 32.98M444.06 152.93L444.06 149.18M444.06 29.23L444.06 32.98M506.16 152.93L506.16 149.18M506.16 29.23L506.16 32.98M568.26 152.93L568.26 149.18M568.26 29.23L568.26 32.98M630.36 152.93L630.36 149.18M630.36 29.23L630.36 32.98" style="stroke: #000000; stroke-width: 0.75" /><path d="M388.17 152.93L388.17 151.23M388.17 29.23L388.17 30.93M394.38 152.93L394.38 151.23M394.38 29.23L394.38 30.93M400.59 152.93L400.59 151.23M400.59 29.23L400.59 30.93M406.8 152.93L406.8 151.23M406.8 29.23L406.8 30.93M413.01 152.93L413.01 151.23M413.01 29.23L413.01 30.93M419.22 152.93L419.22 151.23M419.22 29.23L419.22 30.93M425.43 152.93L425.43 151.23M425.43 29.23L425.43 30.93M431.64 152.93L431.64 151.23M431.64 29.23L431.64 30.93M437.85 152.93L437.85 151.23M437.85 29.23L437.85 30.93M450.27 152.93L450.27 151.23M450.27 29.23L450.27 30.93M456.48 152.93L456.48 151.23M456.48 29.23L456.48 30.93M462.69 152.93L462.69 151.23M462.69 29.23L462.69 30.93M468.9 152.93L468.9 151.23M468.9 29.23L468.9 30.93M475.11 152.93L475.11 151.23M475.11 29.23L475.11 30.93M481.32 152.93L481.32 151.23M481.32 29.23L481.32 30.93M487.53 152.93L487.53 151.23M487.53 29.23L487.53 30.93M493.74 152.93L493.74 151.23M493.74 29.23L493.74 30.93M499.95 152.93L499.95 151.23M499.95 29.23L499.95 30.93M512.37 152.93L512.37 151.23M512.37 29.23L512.37 30.93M518.58 152.93L518.58 151.23M518.58 29.23L518.58 30.93M524.79 152.93L524.79 151.23M524.79 29.23L524.79 30.93M531 152.93L531 151.23M531 29.23L531 30.93M537.21 152.93L537.21 151.23M537.21 29.23L537.21 30.93M543.42 152.93L543.42 151.23M543.42 29.23L543.42 30.93M549.63 152.93L549.63 151.23M549.63 29.23L549.63 30.93M555.84 152.93L555.84 151.23M555.84 29.23L555.84 30.93M562.05 152.93L562.05 151.23M562.05 29.23L562.05 30.93M574.47 152.93L574.47 151.23M574.47 29.23L574.47 30.93M580.68 152.93L580.68 151.23M580.68 29.23L580.68 30.93M586.89 152.93L586.89 151.23M586.89 29.23L586.89 30.93M593.1 152.93L593.1 151.23M593.1 29.23L593.1 30.93M599.31 152.93L599.31 151.23M599.31 29.23L599.31 30.93M605.52 152.93L605.52 151.23M605.52 29.23L605.52 30.93M611.73 152.93L611.73 151.23M611.73 29.23L611.73 30.93M617.94 152.93L617.94 151.23M617.94 29.23L617.94 30.93M624.15 152.93L624.15 151.23M624.15 29.23L624.15 30.93" style="stroke: #000000; stroke-width: 0.6" /><path d="M381.96 147.89L385.71 147.89M630.36 147.89L626.61 147.89" style="stroke: #000000; stroke-width: 0.75" /><g transform="translate(351.875 152.484)"><text><tspan x="0" y="-0.172" style="font-size: 12.1px; font-family:'DejaVu Sans',sans-serif">10</tspan><tspan x="15.543" y="-4.766" style="font-size: 8.47px; font-family:'DejaVu Sans',sans-serif">−2</tspan></text></g><path d="M381.96 116.83L385.71 116.83M630.36 116.83L626.61 116.83" style="stroke: #000000; stroke-width: 0.75" /><g transform="translate(351.875 121.429)"><text><tspan x="0" y="-0.281" style="font-size: 12.1px; font-family:'DejaVu Sans',sans-serif">10</tspan><tspan x="15.543" y="-4.875" style="font-size: 8.47px; font-family:'DejaVu Sans',sans-serif">−1</tspan></text></g><path d="M381.96 85.78L385.71 85.78M630.36 85.78L626.61 85.78" style="stroke: #000000; stroke-width: 0.75" /><g transform="translate(359.014 90.374)"><text><tspan x="0" y="-0.172" style="font-size: 12.1px; font-family:'DejaVu Sans',sans-serif">10</tspan><tspan x="15.543" y="-4.766" style="font-size: 8.47px; font-family:'DejaVu Sans',sans-serif">0</tspan></text></g><path d="M381.96 54.72L385.71 54.72M630.36 54.72L626.61 54.72" style="stroke: #000000; stroke-width: 0.75" /><g transform="translate(359.014 59.319)"><text><tspan x="0" y="-0.281" style="font-size: 12.1px; font-family:'DejaVu Sans',sans-serif">10</tspan><tspan x="15.543" y="-4.875" style="font-size: 8.47px; font-family:'DejaVu Sans',sans-serif">1</tspan></text></g><path d="M381.96 152.7L383.66 152.7M630.36 152.7L628.66 152.7M381.96 150.9L383.66 150.9M630.36 150.9L628.66 150.9M381.96 149.31L383.66 149.31M630.36 149.31L628.66 149.31M381.96 138.54L383.66 138.54M630.36 138.54L628.66 138.54M381.96 133.07L383.66 133.07M630.36 133.07L628.66 133.07M381.96 129.19L383.66 129.19M630.36 129.19L628.66 129.19M381.96 126.18L383.66 126.18M630.36 126.18L628.66 126.18M381.96 123.72L383.66 123.72M630.36 123.72L628.66 123.72M381.96 121.64L383.66 121.64M630.36 121.64L628.66 121.64M381.96 119.84L383.66 119.84M630.36 119.84L628.66 119.84M381.96 118.25L383.66 118.25M630.36 118.25L628.66 118.25M381.96 107.48L383.66 107.48M630.36 107.48L628.66 107.48M381.96 102.02L383.66 102.02M630.36 102.02L628.66 102.02M381.96 98.14L383.66 98.14M630.36 98.14L628.66 98.14M381.96 95.13L383.66 95.13M630.36 95.13L628.66 95.13M381.96 92.67L383.66 92.67M630.36 92.67L628.66 92.67M381.96 90.59L383.66 90.59M630.36 90.59L628.66 90.59M381.96 88.79L383.66 88.79M630.36 88.79L628.66 88.79M381.96 87.2L383.66 87.2M630.36 87.2L628.66 87.2M381.96 76.43L383.66 76.43M630.36 76.43L628.66 76.43M381.96 70.96L383.66 70.96M630.36 70.96L628.66 70.96M381.96 67.08L383.66 67.08M630.36 67.08L628.66 67.08M381.96 64.07L383.66 64.07M630.36 64.07L628.66 64.07M381.96 61.61L383.66 61.61M630.36 61.61L628.66 61.61M381.96 59.53L383.66 59.53M630.36 59.53L628.66 59.53M381.96 57.73L383.66 57.73M630.36 57.73L628.66 57.73M381.96 56.14L383.66 56.14M630.36 56.14L628.66 56.14M381.96 45.37L383.66 45.37M630.36 45.37L628.66 45.37M381.96 39.91L383.66 39.91M630.36 39.91L628.66 39.91M381.96 36.03L383.66 36.03M630.36 36.03L628.66 36.03M381.96 33.02L383.66 33.02M630.36 33.02L628.66 33.02M381.96 30.56L383.66 30.56M630.36 30.56L628.66 30.56" style="stroke: #000000; stroke-width: 0.6" /><g transform="translate(345.899 103.875) rotate(-90)"><text><tspan x="0" y="-0.498" style="font-style: oblique; font-size: 14.4px; font-family:'DejaVu Sans',sans-serif">D</tspan><tspan x="11.069" y="3.33" style="font-style: oblique; font-size: 10.08px; font-family:'DejaVu Sans',sans-serif">ℓ</tspan><tspan x="12.051" y="-5.858" style="font-style: oblique; font-size: 10.08px; font-family:'DejaVu Sans',sans-serif">EE</tspan></text></g><path d="M383.2 147.27L384.94 135.62L386.06 129.33L386.68 125.16L388.29 111.35L389.16 106.28L390.03 102.56L392.64 93.1L393.39 91.07L394.63 88.56L395.62 87.05L396.37 86.29L397.86 85.18L398.73 84.81L399.35 84.76L399.97 84.93L400.84 85.42L402.95 86.95L406.43 89.93L406.8 89.9L407.3 89.62L407.92 89.05L408.29 88.4L409.04 86.46L410.15 83.09L411.77 77.18L413.38 71.09L414.87 66.68L416.98 61.23L418.72 57.26L420.09 54.7L421.7 52.09L423.32 49.89L425.31 47.51L426.42 46.51L427.91 45.59L429.28 44.97L430.27 44.72L431.14 44.78L432.39 45.07L433.63 45.62L434.87 46.41L436.24 47.56L437.73 49.13L439.34 51.19L441.58 54.44L443.81 57.63L444.93 58.88L445.8 59.55L446.54 59.86L447.17 59.92L447.66 59.77L448.28 59.31L449.03 58.4L449.9 56.98L451.26 54.26L454.87 46.9L456.48 44.14L457.97 41.99L459.46 40.22L460.83 38.92L462.19 37.92L463.56 37.21L464.8 36.8L466.04 36.62L467.29 36.66L468.53 36.92L469.77 37.39L471.14 38.15L472.5 39.17L473.99 40.57L475.61 42.41L477.47 44.88L481.82 50.81L482.81 51.74L483.68 52.27L484.43 52.48L485.17 52.44L485.92 52.15L486.78 51.54L487.78 50.54L489.14 48.79L495.48 40.11L497.09 38.46L498.71 37.12L500.2 36.17L501.69 35.49L503.06 35.11L504.42 34.96L505.79 35.04L507.15 35.35L508.52 35.91L509.89 36.7L511.38 37.85L512.87 39.28L514.48 41.13L516.34 43.63L521.44 50.7L522.43 51.57L523.3 52.03L524.04 52.15L524.91 52.03L525.78 51.66L526.78 50.99L528.02 49.85L529.88 47.78L533.48 43.73L535.22 42.12L536.84 40.92L538.33 40.08L539.69 39.56L541.06 39.27L542.43 39.21L543.92 39.38L545.41 39.76L546.9 40.37L548.51 41.27L550.13 42.43L551.87 43.95L553.85 46L556.59 49.18L559.32 52.27L560.68 53.49L561.8 54.19L562.67 54.5L563.54 54.59L564.53 54.43L565.53 54.04L566.65 53.36L568.14 52.16L570.87 49.59L573.35 47.38L575.09 46.1L576.71 45.18L578.2 44.58L579.56 44.26L580.93 44.15L582.29 44.26L583.66 44.59L585.03 45.14L586.52 45.99L588.01 47.09L589.62 48.57L591.49 50.61L593.85 53.56L596.83 57.26L596.83 57.26" clip-path="url(#pab0f6bf279)" style="fill: none; stroke-dasharray: 6.29,2.72; stroke-dashoffset: 0; stroke: #00bfbf; stroke-width: 1.7" /><path d="M383.2 147.21L384.94 135.6L386.06 129.32L386.68 125.16L388.29 111.36L389.16 106.28L390.03 102.57L392.64 93.1L393.39 91.07L394.63 88.56L395.62 87.05L396.37 86.3L397.86 85.18L398.73 84.81L399.35 84.76L399.97 84.93L400.84 85.42L402.95 86.95L406.43 89.93L406.8 89.9L407.3 89.62L407.92 89.06L408.29 88.4L409.04 86.46L410.15 83.09L411.77 77.18L413.38 71.09L414.87 66.68L416.98 61.24L418.72 57.26L420.09 54.7L421.7 52.09L423.32 49.89L425.31 47.5L426.42 46.5L427.91 45.59L429.28 44.97L430.27 44.72L431.14 44.78L432.39 45.07L433.63 45.61L434.87 46.41L436.24 47.56L437.73 49.13L439.34 51.19L441.58 54.44L443.81 57.63L444.93 58.88L445.8 59.55L446.54 59.86L447.17 59.92L447.66 59.77L448.28 59.31L449.03 58.4L449.9 56.98L451.26 54.26L454.87 46.9L456.48 44.14L457.97 41.99L459.46 40.22L460.83 38.92L462.19 37.92L463.56 37.21L464.8 36.8L466.04 36.62L467.29 36.66L468.53 36.92L469.77 37.39L471.14 38.15L472.5 39.17L473.99 40.57L475.61 42.41L477.47 44.89L481.69 50.67L482.81 51.74L483.68 52.27L484.43 52.48L485.17 52.44L485.92 52.16L486.78 51.55L487.78 50.54L489.14 48.79L495.48 40.12L497.09 38.47L498.71 37.13L500.2 36.18L501.69 35.51L503.06 35.13L504.42 34.98L505.79 35.05L507.15 35.36L508.52 35.92L509.89 36.71L511.38 37.86L512.87 39.29L514.48 41.15L516.34 43.64L521.31 50.58L522.31 51.49L523.18 51.99L523.92 52.16L524.67 52.1L525.54 51.81L526.53 51.2L527.65 50.24L529.26 48.51L533.98 43.26L535.72 41.74L537.21 40.71L538.7 39.94L540.07 39.48L541.43 39.25L542.8 39.26L544.29 39.48L545.78 39.92L547.27 40.58L548.88 41.54L550.5 42.76L552.36 44.46L554.47 46.72L560.31 53.22L561.43 54.02L562.42 54.46L563.29 54.61L564.16 54.55L565.15 54.24L566.27 53.64L567.64 52.62L569.63 50.82L573.23 47.53L575.09 46.15L576.71 45.24L578.2 44.64L579.56 44.32L580.93 44.21L582.29 44.32L583.66 44.66L585.03 45.21L586.52 46.05L588.01 47.17L589.62 48.65L591.49 50.7L593.97 53.83L596.83 57.37L596.83 57.37" clip-path="url(#pab0f6bf279)" style="fill: none; stroke-dasharray: 1.8,2.61; stroke-dashoffset: 0; stroke: #9400d3; stroke-width: 1.8" /><path d="M383.2 147.16L384.94 135.57L386.06 129.32L386.68 125.15L388.29 111.36L389.16 106.28L390.03 102.57L392.64 93.1L393.39 91.07L394.63 88.56L395.62 87.05L396.37 86.3L397.86 85.18L398.73 84.81L399.35 84.76L399.97 84.93L400.84 85.42L402.95 86.95L406.43 89.93L406.8 89.9L407.3 89.63L407.92 89.06L408.29 88.4L409.04 86.47L410.15 83.09L411.77 77.18L413.38 71.08L414.87 66.68L416.98 61.24L418.72 57.26L420.09 54.7L421.7 52.09L423.32 49.89L425.31 47.5L426.42 46.5L427.91 45.59L429.28 44.97L430.27 44.72L431.14 44.78L432.39 45.07L433.63 45.61L434.87 46.41L436.24 47.56L437.73 49.13L439.34 51.19L441.58 54.44L443.81 57.63L444.93 58.88L445.8 59.55L446.54 59.86L447.17 59.92L447.66 59.76L448.28 59.31L449.03 58.4L449.9 56.98L451.26 54.26L454.87 46.9L456.6 43.95L458.09 41.83L459.58 40.09L460.95 38.82L462.32 37.85L463.68 37.16L464.93 36.77L466.17 36.62L467.41 36.68L468.65 36.96L469.89 37.45L471.26 38.23L472.63 39.28L474.12 40.7L475.73 42.57L477.72 45.24L481.57 50.53L482.69 51.64L483.56 52.22L484.3 52.47L485.05 52.47L485.79 52.23L486.54 51.76L487.53 50.83L488.77 49.31L490.88 46.28L493.74 42.25L495.6 40L497.22 38.36L498.71 37.14L500.2 36.2L501.69 35.52L503.06 35.15L504.42 34.99L505.79 35.07L507.15 35.38L508.52 35.93L509.89 36.73L511.38 37.87L512.87 39.3L514.48 41.16L516.34 43.66L521.31 50.59L522.31 51.5L523.18 52.01L523.92 52.18L524.67 52.12L525.54 51.82L526.53 51.21L527.65 50.25L529.26 48.53L533.98 43.28L535.72 41.76L537.21 40.73L538.7 39.96L540.07 39.5L541.43 39.27L542.8 39.28L544.29 39.51L545.9 40L547.52 40.74L549.13 41.74L550.75 42.99L552.61 44.74L554.72 47.03L560.06 53.02L561.3 53.96L562.3 54.44L563.17 54.63L564.04 54.59L565.03 54.32L566.15 53.75L567.39 52.86L569.25 51.21L573.35 47.48L575.22 46.13L576.83 45.23L578.32 44.66L579.81 44.35L581.18 44.28L582.54 44.43L583.91 44.81L585.4 45.46L586.89 46.38L588.38 47.56L590 49.12L591.86 51.24L594.59 54.74L596.83 57.49L596.83 57.49" clip-path="url(#pab0f6bf279)" style="fill: none; stroke: #d2b48c; stroke-opacity: 0.7; stroke-width: 1.7; stroke-linecap: square" /><path d="M381.96 152.93L381.96 29.23M630.36 152.93L630.36 29.23M381.96 152.93L630.36 152.93M381.96 29.23L630.36 29.23" style="fill: none; stroke: #888888; stroke-width: 0.4; stroke-linejoin: miter; stroke-linecap: square" /><path d="M558.99 146.18L621.11 146.18Q623.61 146.18 623.61 143.68L623.61 74.68Q623.61 72.18 621.11 72.18L558.99 72.18Q556.49 72.18 556.49 74.68L556.49 143.68Q556.49 146.18 558.99 146.18z" style="fill: #ffffff; opacity: 0.8; stroke: #cccccc; stroke-width: 0.4; stroke-linejoin: miter" /><path d="M561.8 84.37L574.05 84.37L586.3 84.37" style="fill: none; stroke-dasharray: 6.29,2.72; stroke-dashoffset: 0; stroke: #00bfbf; stroke-width: 1.7" /><g transform="translate(596.297 88.740)"><text><tspan x="0" y="-0.384" style="font-style: oblique; font-size: 12.5px; font-family:'DejaVu Sans',sans-serif">D</tspan><tspan x="9.625" y="3.17" style="font-style: oblique; font-size: 8.75px; font-family:'DejaVu Sans',sans-serif">ℓ</tspan><tspan x="10.538" y="-5.361" style="font-size: 8.75px; font-family:'DejaVu Sans',sans-serif">EE</tspan></text></g><path d="M561.8 108.62L574.05 108.62L586.3 108.62" style="fill: none; stroke-dasharray: 1.8,2.61; stroke-dashoffset: 0; stroke: #9400d3; stroke-width: 1.8" /><g transform="translate(596.297 112.990)"><text><tspan x="0" y="-0.114" style="font-style: oblique; font-size: 12.5px; font-family:'DejaVu Sans',sans-serif">D</tspan><tspan x="9.625" y="3.441" style="font-style: oblique; font-size: 8.75px; font-family:'DejaVu Sans',sans-serif">ℓ</tspan><tspan x="10.538" y="-5.091" style="font-size: 8.75px; font-family:'DejaVu Sans',sans-serif">E</tspan><tspan x="15.527" y="-6.627" style="font-size: 8.75px; font-family:'DejaVu Sans',sans-serif">̂</tspan><tspan x="16.067" y="-5.091" style="font-size: 8.75px; font-family:'DejaVu Sans',sans-serif">E</tspan></text></g><path d="M561.8 132.87L574.05 132.87L586.3 132.87" style="fill: none; stroke: #d2b48c; stroke-opacity: 0.7; stroke-width: 1.7; stroke-linecap: square" /><g transform="translate(596.297 137.240)"><text><tspan x="0" y="-0.114" style="font-style: oblique; font-size: 12.5px; font-family:'DejaVu Sans',sans-serif">D</tspan><tspan x="9.625" y="3.441" style="font-style: oblique; font-size: 8.75px; font-family:'DejaVu Sans',sans-serif">ℓ</tspan><tspan x="10.538" y="-5.091" style="font-size: 8.75px; font-family:'DejaVu Sans',sans-serif">E</tspan><tspan x="15.527" y="-6.627" style="font-size: 8.75px; font-family:'DejaVu Sans',sans-serif">̂</tspan><tspan x="16.067" y="-5.091" style="font-size: 8.75px; font-family:'DejaVu Sans',sans-serif">E</tspan><tspan x="21.056" y="-6.627" style="font-size: 8.75px; font-family:'DejaVu Sans',sans-serif">̂</tspan></text></g><path d="M381.96 214.13L630.36 214.13L630.36 152.93L381.96 152.93z" style="fill: #ffffff" /><path d="M381.96 214.13L381.96 210.38M381.96 152.93L381.96 156.68" style="stroke: #000000; stroke-width: 0.75" /><text style="font-size: 12.1px; font-family:'DejaVu Sans',sans-serif; text-anchor: middle" x="381.96" y="225.072" transform="rotate(-0 381.96 225.072)">0</text><path d="M444.06 214.13L444.06 210.38M444.06 152.93L444.06 156.68" style="stroke: #000000; stroke-width: 0.75" /><text style="font-size: 12.1px; font-family:'DejaVu Sans',sans-serif; text-anchor: middle" x="444.06" y="225.072" transform="rotate(-0 444.06 225.072)">500</text><path d="M506.16 214.13L506.16 210.38M506.16 152.93L506.16 156.68" style="stroke: #000000; stroke-width: 0.75" /><text style="font-size: 12.1px; font-family:'DejaVu Sans',sans-serif; text-anchor: middle" x="506.16" y="225.072" transform="rotate(-0 506.16 225.072)">1000</text><path d="M568.26 214.13L568.26 210.38M568.26 152.93L568.26 156.68" style="stroke: #000000; stroke-width: 0.75" /><text style="font-size: 12.1px; font-family:'DejaVu Sans',sans-serif; text-anchor: middle" x="568.26" y="225.072" transform="rotate(-0 568.26 225.072)">1500</text><path d="M630.36 214.13L630.36 210.38M630.36 152.93L630.36 156.68" style="stroke: #000000; stroke-width: 0.75" /><text style="font-size: 12.1px; font-family:'DejaVu Sans',sans-serif; text-anchor: middle" x="630.36" y="225.072" transform="rotate(-0 630.36 225.072)">2000</text><path d="M388.17 214.13L388.17 212.43M388.17 152.93L388.17 154.63M394.38 214.13L394.38 212.43M394.38 152.93L394.38 154.63M400.59 214.13L400.59 212.43M400.59 152.93L400.59 154.63M406.8 214.13L406.8 212.43M406.8 152.93L406.8 154.63M413.01 214.13L413.01 212.43M413.01 152.93L413.01 154.63M419.22 214.13L419.22 212.43M419.22 152.93L419.22 154.63M425.43 214.13L425.43 212.43M425.43 152.93L425.43 154.63M431.64 214.13L431.64 212.43M431.64 152.93L431.64 154.63M437.85 214.13L437.85 212.43M437.85 152.93L437.85 154.63M450.27 214.13L450.27 212.43M450.27 152.93L450.27 154.63M456.48 214.13L456.48 212.43M456.48 152.93L456.48 154.63M462.69 214.13L462.69 212.43M462.69 152.93L462.69 154.63M468.9 214.13L468.9 212.43M468.9 152.93L468.9 154.63M475.11 214.13L475.11 212.43M475.11 152.93L475.11 154.63M481.32 214.13L481.32 212.43M481.32 152.93L481.32 154.63M487.53 214.13L487.53 212.43M487.53 152.93L487.53 154.63M493.74 214.13L493.74 212.43M493.74 152.93L493.74 154.63M499.95 214.13L499.95 212.43M499.95 152.93L499.95 154.63M512.37 214.13L512.37 212.43M512.37 152.93L512.37 154.63M518.58 214.13L518.58 212.43M518.58 152.93L518.58 154.63M524.79 214.13L524.79 212.43M524.79 152.93L524.79 154.63M531 214.13L531 212.43M531 152.93L531 154.63M537.21 214.13L537.21 212.43M537.21 152.93L537.21 154.63M543.42 214.13L543.42 212.43M543.42 152.93L543.42 154.63M549.63 214.13L549.63 212.43M549.63 152.93L549.63 154.63M555.84 214.13L555.84 212.43M555.84 152.93L555.84 154.63M562.05 214.13L562.05 212.43M562.05 152.93L562.05 154.63M574.47 214.13L574.47 212.43M574.47 152.93L574.47 154.63M580.68 214.13L580.68 212.43M580.68 152.93L580.68 154.63M586.89 214.13L586.89 212.43M586.89 152.93L586.89 154.63M593.1 214.13L593.1 212.43M593.1 152.93L593.1 154.63M599.31 214.13L599.31 212.43M599.31 152.93L599.31 154.63M605.52 214.13L605.52 212.43M605.52 152.93L605.52 154.63M611.73 214.13L611.73 212.43M611.73 152.93L611.73 154.63M617.94 214.13L617.94 212.43M617.94 152.93L617.94 154.63M624.15 214.13L624.15 212.43M624.15 152.93L624.15 154.63" style="stroke: #000000; stroke-width: 0.6" /><g transform="translate(503.136 240.980)"><text><tspan x="0" y="-0.609" style="font-style: oblique; font-size: 14.4px; font-family:'DejaVu Sans',sans-serif">ℓ</tspan></text></g><path d="M381.96 214.13L385.71 214.13M630.36 214.13L626.61 214.13" style="stroke: #000000; stroke-width: 0.75" /><text style="font-size: 12.1px; font-family:'DejaVu Sans',sans-serif; text-anchor: end" x="380.31" y="218.725" transform="rotate(-0 380.31 218.725)">0.9</text><path d="M381.96 173.19L385.71 173.19M630.36 173.19L626.61 173.19" style="stroke: #000000; stroke-width: 0.75" /><text style="font-size: 12.1px; font-family:'DejaVu Sans',sans-serif; text-anchor: end" x="380.31" y="177.788" transform="rotate(-0 380.31 177.788)">1.0</text><path d="M381.96 205.94L383.66 205.94M630.36 205.94L628.66 205.94M381.96 197.75L383.66 197.75M630.36 197.75L628.66 197.75M381.96 189.57L383.66 189.57M630.36 189.57L628.66 189.57M381.96 181.38L383.66 181.38M630.36 181.38L628.66 181.38M381.96 165L383.66 165M630.36 165L628.66 165M381.96 156.82L383.66 156.82M630.36 156.82L628.66 156.82" style="stroke: #000000; stroke-width: 0.6" /><g transform="translate(355.091 211.339) rotate(-90)"><text><tspan x="0" y="-0.887" style="font-style: oblique; font-size: 14.4px; font-family:'DejaVu Sans',sans-serif">D</tspan><tspan x="11.069" y="2.941" style="font-style: oblique; font-size: 10.08px; font-family:'DejaVu Sans',sans-serif">ℓ</tspan><tspan x="12.051" y="-6.246" style="font-style: oblique; font-size: 10.08px; font-family:'DejaVu Sans',sans-serif">EE</tspan><tspan x="19.05" y="-8.605" style="font-size: 10.08px; font-family:'DejaVu Sans',sans-serif">̂</tspan><tspan x="25.149" y="-0.887" style="font-size: 14.4px; font-family:'DejaVu Sans',sans-serif">/</tspan><tspan x="25.408" y="-8.605" style="font-size: 10.08px; font-family:'DejaVu Sans',sans-serif">̂</tspan><tspan x="29.993" y="-0.887" style="font-style: oblique; font-size: 14.4px; font-family:'DejaVu Sans',sans-serif">D</tspan><tspan x="41.062" y="2.941" style="font-style: oblique; font-size: 10.08px; font-family:'DejaVu Sans',sans-serif">ℓ</tspan><tspan x="42.043" y="-6.246" style="font-style: oblique; font-size: 10.08px; font-family:'DejaVu Sans',sans-serif">EE</tspan></text></g><path d="M383.2 169.92L385.69 172.62L388.17 173.24L390.65 173.46L393.14 173.19L395.62 173.22L398.11 173.25L400.59 173.16L403.07 173.15L405.56 173.3L408.04 173.28L410.53 173.24L413.01 173.12L415.49 173.13L417.98 173.33L420.46 173.31L422.95 173.12L425.43 173.03L427.91 173.19L430.4 173.26L432.88 173.08L435.37 173.22L437.85 173.12L440.33 173.03L442.82 173.13L445.3 173.18L447.79 173.12L450.27 173.26L452.75 173.21L455.24 173.25L457.72 173.21L460.21 173.24L462.69 173.21L465.17 173.23L467.66 173.18L470.14 173.19L472.63 173.16L475.11 173.05L477.59 173.35L480.08 173.06L482.56 173.27L485.05 173.49L487.53 173.5L490.01 173.58L492.5 173.6L494.98 173.91L497.47 173.84L499.95 173.92L502.43 174.17L504.92 174.18L507.4 174.03L509.89 174L512.37 173.95L514.85 174L517.34 174L519.82 174.02L522.31 173.9L524.79 174.1L527.27 174.13L529.76 174.19L532.24 174.5L534.73 174.31L537.21 174.64L539.69 174.67L542.18 174.55L544.66 174.9L547.15 174.84L549.63 174.6L552.11 174.84L554.6 174.75L557.08 174.63L559.57 174.61L562.05 174.56L564.53 174.92L567.02 175.16L569.5 175.53L571.99 175.91L574.47 176.37L576.95 176.6L579.44 176.94L581.92 176.9L584.41 177.37L586.89 177.32L589.37 177.89L591.86 178.86L594.34 179.51L596.83 180.2" clip-path="url(#p6c5f8d5e27)" style="fill: none; stroke: #d2b48c; stroke-width: 1.7; stroke-linecap: square" /><path d="M381.96 173.19L630.36 173.19" clip-path="url(#p6c5f8d5e27)" style="fill: none; stroke-dasharray: 2.59,1.12; stroke-dashoffset: 0; stroke: #ff0000; stroke-width: 0.7" /><path d="M383.2 196.93L383.2 142.9M385.69 189.81L385.69 155.43M388.17 179.38L388.17 167.1M390.65 177.97L390.65 168.96M393.14 176.79L393.14 169.59M395.62 176.83L395.62 169.62M398.11 176.85L398.11 169.64M400.59 176.76L400.59 169.56M403.07 177.65L403.07 168.65M405.56 177.97L405.56 168.63M408.04 178.11L408.04 168.45M410.53 177.95L410.53 168.53M413.01 176.07L413.01 170.17M415.49 175.1L415.49 171.17M417.98 175.19L417.98 171.46M420.46 175.07L420.46 171.55M422.95 174.77L422.95 171.46M425.43 174.59L425.43 171.47M427.91 174.78L427.91 171.61M430.4 174.88L430.4 171.64M432.88 174.73L432.88 171.43M435.37 174.91L435.37 171.54M437.85 174.84L437.85 171.4M440.33 175.18L440.33 170.89M442.82 175.7L442.82 170.56M445.3 176.05L445.3 170.32M447.79 176.15L447.79 170.09M450.27 176.04L450.27 170.47M452.75 175.75L452.75 170.67M455.24 175.49L455.24 171.01M457.72 175.16L457.72 171.26M460.21 175.04L460.21 171.44M462.69 175.01L462.69 171.41M465.17 175.03L465.17 171.43M467.66 174.98L467.66 171.38M470.14 174.99L470.14 171.38M472.63 174.96L472.63 171.36M475.11 174.85L475.11 171.25M477.59 175.61L477.59 171.09M480.08 175.78L480.08 170.34M482.56 176.33L482.56 170.22M485.05 176.76L485.05 170.21M487.53 176.53L487.53 170.47M490.01 176.37L490.01 170.8M492.5 176.15L492.5 171.04M494.98 176.23L494.98 171.58M497.47 176.05L497.47 171.63M499.95 176.13L499.95 171.71M502.43 176.38L502.43 171.96M504.92 176.39L504.92 171.97M507.4 176.24L507.4 171.81M509.89 176.22L509.89 171.79M512.37 176.16L512.37 171.74M514.85 176.43L514.85 171.57M517.34 176.65L517.34 171.36M519.82 176.89L519.82 171.15M522.31 176.91L522.31 170.89M524.79 177.25L524.79 170.94M527.27 177.04L527.27 171.23M529.76 176.85L529.76 171.53M532.24 176.93L532.24 172.07M534.73 176.51L534.73 172.12M537.21 176.6L537.21 172.67M539.69 176.64L539.69 172.71M542.18 176.52L542.18 172.59M544.66 176.87L544.66 172.94M547.15 176.81L547.15 172.88M549.63 176.57L549.63 172.64M552.11 177.18L552.11 172.5M554.6 177.46L554.6 172.04M557.08 177.71L557.08 171.54M559.57 177.98L559.57 171.23M562.05 178.15L562.05 170.98M564.53 178.5L564.53 171.34M567.02 178.54L567.02 171.78M569.5 178.69L569.5 172.36M571.99 178.85L571.99 172.96M574.47 179.1L574.47 173.64M576.95 179.27L576.95 173.93M579.44 179.71L579.44 174.17M581.92 179.77L581.92 174.03M584.41 180.34L584.41 174.4M586.89 180.39L586.89 174.25M589.37 181.37L589.37 174.41M591.86 182.75L591.86 174.97M594.34 183.95L594.34 175.08M596.83 185.32L596.83 175.08" clip-path="url(#p6c5f8d5e27)" style="fill: none; stroke: #d2b48c; stroke-width: 1.35" /><path d="M381.96 214.13L381.96 152.93M630.36 214.13L630.36 152.93M381.96 214.13L630.36 214.13M381.96 152.93L630.36 152.93" style="fill: none; stroke: #888888; stroke-width: 0.4; stroke-linejoin: miter; stroke-linecap: square" /><path d="M381.96 374.69L630.36 374.69L630.36 251.5L381.96 251.5z" style="fill: #ffffff" /><path d="M381.96 374.69L381.96 370.94M381.96 251.5L381.96 255.25M444.06 374.69L444.06 370.94M444.06 251.5L444.06 255.25M506.16 374.69L506.16 370.94M506.16 251.5L506.16 255.25M568.26 374.69L568.26 370.94M568.26 251.5L568.26 255.25M630.36 374.69L630.36 370.94M630.36 251.5L630.36 255.25" style="stroke: #000000; stroke-width: 0.75" /><path d="M394.38 374.69L394.38 372.99M394.38 251.5L394.38 253.2M406.8 374.69L406.8 372.99M406.8 251.5L406.8 253.2M419.22 374.69L419.22 372.99M419.22 251.5L419.22 253.2M431.64 374.69L431.64 372.99M431.64 251.5L431.64 253.2M456.48 374.69L456.48 372.99M456.48 251.5L456.48 253.2M468.9 374.69L468.9 372.99M468.9 251.5L468.9 253.2M481.32 374.69L481.32 372.99M481.32 251.5L481.32 253.2M493.74 374.69L493.74 372.99M493.74 251.5L493.74 253.2M518.58 374.69L518.58 372.99M518.58 251.5L518.58 253.2M531 374.69L531 372.99M531 251.5L531 253.2M543.42 374.69L543.42 372.99M543.42 251.5L543.42 253.2M555.84 374.69L555.84 372.99M555.84 251.5L555.84 253.2M580.68 374.69L580.68 372.99M580.68 251.5L580.68 253.2M593.1 374.69L593.1 372.99M593.1 251.5L593.1 253.2M605.52 374.69L605.52 372.99M605.52 251.5L605.52 253.2M617.94 374.69L617.94 372.99M617.94 251.5L617.94 253.2" style="stroke: #000000; stroke-width: 0.6" /><path d="M381.96 372.67L385.71 372.67M630.36 372.67L626.61 372.67" style="stroke: #000000; stroke-width: 0.75" /><g transform="translate(351.875 377.267)"><text><tspan x="0" y="-0.281" style="font-size: 12.1px; font-family:'DejaVu Sans',sans-serif">10</tspan><tspan x="15.543" y="-4.875" style="font-size: 8.47px; font-family:'DejaVu Sans',sans-serif">−4</tspan></text></g><path d="M381.96 312.08L385.71 312.08M630.36 312.08L626.61 312.08" style="stroke: #000000; stroke-width: 0.75" /><g transform="translate(351.875 316.680)"><text><tspan x="0" y="-0.172" style="font-size: 12.1px; font-family:'DejaVu Sans',sans-serif">10</tspan><tspan x="15.543" y="-4.766" style="font-size: 8.47px; font-family:'DejaVu Sans',sans-serif">−3</tspan></text></g><path d="M381.96 251.5L385.71 251.5M630.36 251.5L626.61 251.5" style="stroke: #000000; stroke-width: 0.75" /><g transform="translate(351.875 256.093)"><text><tspan x="0" y="-0.172" style="font-size: 12.1px; font-family:'DejaVu Sans',sans-serif">10</tspan><tspan x="15.543" y="-4.766" style="font-size: 8.47px; font-family:'DejaVu Sans',sans-serif">−2</tspan></text></g><path d="M381.96 354.43L383.66 354.43M630.36 354.43L628.66 354.43M381.96 343.76L383.66 343.76M630.36 343.76L628.66 343.76M381.96 336.19L383.66 336.19M630.36 336.19L628.66 336.19M381.96 330.32L383.66 330.32M630.36 330.32L628.66 330.32M381.96 325.52L383.66 325.52M630.36 325.52L628.66 325.52M381.96 321.47L383.66 321.47M630.36 321.47L628.66 321.47M381.96 317.95L383.66 317.95M630.36 317.95L628.66 317.95M381.96 314.86L383.66 314.86M630.36 314.86L628.66 314.86M381.96 293.84L383.66 293.84M630.36 293.84L628.66 293.84M381.96 283.18L383.66 283.18M630.36 283.18L628.66 283.18M381.96 275.61L383.66 275.61M630.36 275.61L628.66 275.61M381.96 269.73L383.66 269.73M630.36 269.73L628.66 269.73M381.96 264.94L383.66 264.94M630.36 264.94L628.66 264.94M381.96 260.88L383.66 260.88M630.36 260.88L628.66 260.88M381.96 257.37L383.66 257.37M630.36 257.37L628.66 257.37M381.96 254.27L383.66 254.27M630.36 254.27L628.66 254.27" style="stroke: #000000; stroke-width: 0.6" /><g transform="translate(345.899 326.391) rotate(-90)"><text><tspan x="0" y="-0.498" style="font-style: oblique; font-size: 14.4px; font-family:'DejaVu Sans',sans-serif">D</tspan><tspan x="11.069" y="3.33" style="font-style: oblique; font-size: 10.08px; font-family:'DejaVu Sans',sans-serif">ℓ</tspan><tspan x="12.051" y="-5.858" style="font-style: oblique; font-size: 10.08px; font-family:'DejaVu Sans',sans-serif">BB</tspan></text></g><path d="M388.17 346.54L400.59 312.48L413.01 292.44L425.43 284.34L437.85 281.73L450.27 284.25L462.69 289.83L475.11 298.91L487.53 310.55L499.95 320.91L512.37 325.52L524.79 324.45L537.21 321.21L549.63 321.58L562.05 322.86L574.47 324.66L586.89 325.97L599.31 327.13L611.73 326.96L624.15 326.03L636.57 325.04L648.99 324.24" clip-path="url(#p1e0292fb23)" style="fill: none; stroke-dasharray: 6.29,2.72; stroke-dashoffset: 0; stroke: #00bfbf; stroke-width: 1.7" /><path d="M388.17 346.54L400.59 312.61L413.01 292.7L425.43 284.61L437.85 282.26L450.27 285.6L462.69 292.6L475.11 303.81L487.53 317.6L499.95 330.3L512.37 337.68L524.79 339.33L537.21 337.27L549.63 339.14L562.05 339.51L574.47 341.02L586.89 340.85L599.31 340.57L611.73 341.11L624.15 339.91L636.57 339.83L648.99 339.03" clip-path="url(#p1e0292fb23)" style="fill: none; stroke-dasharray: 1.8,2.61; stroke-dashoffset: 0; stroke: #9400d3; stroke-width: 1.8" /><path d="M388.17 345.58L400.59 311.05L413.01 291.82L425.43 283.71L437.85 281.15L450.27 284.99L462.69 291.46L475.11 299.23L487.53 307.62L499.95 312.08L512.37 312.94L524.79 311.82L537.21 308.91L549.63 308.18L562.05 305.18L574.47 303.99L586.89 301.41L599.31 300.05L611.73 298.91L624.15 297.06L636.57 295.9L648.99 294.51" clip-path="url(#p1e0292fb23)" style="fill: none; stroke: #d2b48c; stroke-opacity: 0.7; stroke-width: 1.7; stroke-linecap: square" /><g clip-path="url(#p1e0292fb23)"><path d="M388.17 347.23C388.61 347.23 389.03 347.05 389.34 346.75C389.65 346.44 389.82 346.02 389.82 345.58C389.82 345.14 389.65 344.72 389.34 344.41C389.03 344.1 388.61 343.93 388.17 343.93C387.73 343.93 387.31 344.1 387 344.41C386.69 344.72 386.52 345.14 386.52 345.58C386.52 346.02 386.69 346.44 387 346.75C387.31 347.05 387.73 347.23 388.17 347.23z" style="fill: #d2b48c; fill-opacity: 0.7" /><path d="M400.59 312.7C401.03 312.7 401.45 312.53 401.76 312.22C402.07 311.91 402.24 311.49 402.24 311.05C402.24 310.61 402.07 310.19 401.76 309.88C401.45 309.58 401.03 309.4 400.59 309.4C400.15 309.4 399.73 309.58 399.42 309.88C399.11 310.19 398.94 310.61 398.94 311.05C398.94 311.49 399.11 311.91 399.42 312.22C399.73 312.53 400.15 312.7 400.59 312.7z" style="fill: #d2b48c; fill-opacity: 0.7" /><path d="M413.01 293.47C413.45 293.47 413.87 293.3 414.18 292.99C414.49 292.68 414.66 292.26 414.66 291.82C414.66 291.38 414.49 290.96 414.18 290.65C413.87 290.34 413.45 290.17 413.01 290.17C412.57 290.17 412.15 290.34 411.84 290.65C411.53 290.96 411.36 291.38 411.36 291.82C411.36 292.26 411.53 292.68 411.84 292.99C412.15 293.3 412.57 293.47 413.01 293.47z" style="fill: #d2b48c; fill-opacity: 0.7" /><path d="M425.43 285.36C425.87 285.36 426.29 285.18 426.6 284.87C426.91 284.56 427.08 284.14 427.08 283.71C427.08 283.27 426.91 282.85 426.6 282.54C426.29 282.23 425.87 282.06 425.43 282.06C424.99 282.06 424.57 282.23 424.26 282.54C423.95 282.85 423.78 283.27 423.78 283.71C423.78 284.14 423.95 284.56 424.26 284.87C424.57 285.18 424.99 285.36 425.43 285.36z" style="fill: #d2b48c; fill-opacity: 0.7" /><path d="M437.85 282.8C438.29 282.8 438.71 282.63 439.02 282.32C439.33 282.01 439.5 281.59 439.5 281.15C439.5 280.71 439.33 280.29 439.02 279.98C438.71 279.67 438.29 279.5 437.85 279.5C437.41 279.5 436.99 279.67 436.68 279.98C436.37 280.29 436.2 280.71 436.2 281.15C436.2 281.59 436.37 282.01 436.68 282.32C436.99 282.63 437.41 282.8 437.85 282.8z" style="fill: #d2b48c; fill-opacity: 0.7" /><path d="M450.27 286.64C450.71 286.64 451.13 286.47 451.44 286.16C451.75 285.85 451.92 285.43 451.92 284.99C451.92 284.55 451.75 284.13 451.44 283.82C451.13 283.52 450.71 283.34 450.27 283.34C449.83 283.34 449.41 283.52 449.1 283.82C448.79 284.13 448.62 284.55 448.62 284.99C448.62 285.43 448.79 285.85 449.1 286.16C449.41 286.47 449.83 286.64 450.27 286.64z" style="fill: #d2b48c; fill-opacity: 0.7" /><path d="M462.69 293.11C463.13 293.11 463.55 292.93 463.86 292.62C464.17 292.31 464.34 291.89 464.34 291.46C464.34 291.02 464.17 290.6 463.86 290.29C463.55 289.98 463.13 289.81 462.69 289.81C462.25 289.81 461.83 289.98 461.52 290.29C461.21 290.6 461.04 291.02 461.04 291.46C461.04 291.89 461.21 292.31 461.52 292.62C461.83 292.93 462.25 293.11 462.69 293.11z" style="fill: #d2b48c; fill-opacity: 0.7" /><path d="M475.11 300.88C475.55 300.88 475.97 300.7 476.28 300.39C476.59 300.08 476.76 299.66 476.76 299.23C476.76 298.79 476.59 298.37 476.28 298.06C475.97 297.75 475.55 297.58 475.11 297.58C474.67 297.58 474.25 297.75 473.94 298.06C473.63 298.37 473.46 298.79 473.46 299.23C473.46 299.66 473.63 300.08 473.94 300.39C474.25 300.7 474.67 300.88 475.11 300.88z" style="fill: #d2b48c; fill-opacity: 0.7" /><path d="M487.53 309.27C487.97 309.27 488.39 309.09 488.7 308.78C489.01 308.47 489.18 308.05 489.18 307.62C489.18 307.18 489.01 306.76 488.7 306.45C488.39 306.14 487.97 305.97 487.53 305.97C487.09 305.97 486.67 306.14 486.36 306.45C486.05 306.76 485.88 307.18 485.88 307.62C485.88 308.05 486.05 308.47 486.36 308.78C486.67 309.09 487.09 309.27 487.53 309.27z" style="fill: #d2b48c; fill-opacity: 0.7" /><path d="M499.95 313.73C500.39 313.73 500.81 313.56 501.12 313.25C501.43 312.94 501.6 312.52 501.6 312.08C501.6 311.65 501.43 311.23 501.12 310.92C500.81 310.61 500.39 310.43 499.95 310.43C499.51 310.43 499.09 310.61 498.78 310.92C498.47 311.23 498.3 311.65 498.3 312.08C498.3 312.52 498.47 312.94 498.78 313.25C499.09 313.56 499.51 313.73 499.95 313.73z" style="fill: #d2b48c; fill-opacity: 0.7" /><path d="M512.37 314.59C512.81 314.59 513.23 314.42 513.54 314.11C513.85 313.8 514.02 313.38 514.02 312.94C514.02 312.5 513.85 312.08 513.54 311.77C513.23 311.46 512.81 311.29 512.37 311.29C511.93 311.29 511.51 311.46 511.2 311.77C510.89 312.08 510.72 312.5 510.72 312.94C510.72 313.38 510.89 313.8 511.2 314.11C511.51 314.42 511.93 314.59 512.37 314.59z" style="fill: #d2b48c; fill-opacity: 0.7" /><path d="M524.79 313.47C525.23 313.47 525.65 313.3 525.96 312.99C526.27 312.68 526.44 312.26 526.44 311.82C526.44 311.38 526.27 310.96 525.96 310.65C525.65 310.35 525.23 310.17 524.79 310.17C524.35 310.17 523.93 310.35 523.62 310.65C523.31 310.96 523.14 311.38 523.14 311.82C523.14 312.26 523.31 312.68 523.62 312.99C523.93 313.3 524.35 313.47 524.79 313.47z" style="fill: #d2b48c; fill-opacity: 0.7" /><path d="M537.21 310.56C537.65 310.56 538.07 310.39 538.38 310.08C538.69 309.77 538.86 309.35 538.86 308.91C538.86 308.48 538.69 308.06 538.38 307.75C538.07 307.44 537.65 307.26 537.21 307.26C536.77 307.26 536.35 307.44 536.04 307.75C535.73 308.06 535.56 308.48 535.56 308.91C535.56 309.35 535.73 309.77 536.04 310.08C536.35 310.39 536.77 310.56 537.21 310.56z" style="fill: #d2b48c; fill-opacity: 0.7" /><path d="M549.63 309.83C550.07 309.83 550.49 309.65 550.8 309.34C551.11 309.04 551.28 308.62 551.28 308.18C551.28 307.74 551.11 307.32 550.8 307.01C550.49 306.7 550.07 306.53 549.63 306.53C549.19 306.53 548.77 306.7 548.46 307.01C548.15 307.32 547.98 307.74 547.98 308.18C547.98 308.62 548.15 309.04 548.46 309.34C548.77 309.65 549.19 309.83 549.63 309.83z" style="fill: #d2b48c; fill-opacity: 0.7" /><path d="M562.05 306.83C562.49 306.83 562.91 306.66 563.22 306.35C563.53 306.04 563.7 305.62 563.7 305.18C563.7 304.74 563.53 304.32 563.22 304.01C562.91 303.7 562.49 303.53 562.05 303.53C561.61 303.53 561.19 303.7 560.88 304.01C560.57 304.32 560.4 304.74 560.4 305.18C560.4 305.62 560.57 306.04 560.88 306.35C561.19 306.66 561.61 306.83 562.05 306.83z" style="fill: #d2b48c; fill-opacity: 0.7" /><path d="M574.47 305.64C574.91 305.64 575.33 305.47 575.64 305.16C575.95 304.85 576.12 304.43 576.12 303.99C576.12 303.55 575.95 303.14 575.64 302.83C575.33 302.52 574.91 302.34 574.47 302.34C574.03 302.34 573.61 302.52 573.3 302.83C572.99 303.14 572.82 303.55 572.82 303.99C572.82 304.43 572.99 304.85 573.3 305.16C573.61 305.47 574.03 305.64 574.47 305.64z" style="fill: #d2b48c; fill-opacity: 0.7" /><path d="M586.89 303.06C587.33 303.06 587.75 302.89 588.06 302.58C588.37 302.27 588.54 301.85 588.54 301.41C588.54 300.98 588.37 300.56 588.06 300.25C587.75 299.94 587.33 299.76 586.89 299.76C586.45 299.76 586.03 299.94 585.72 300.25C585.41 300.56 585.24 300.98 585.24 301.41C585.24 301.85 585.41 302.27 585.72 302.58C586.03 302.89 586.45 303.06 586.89 303.06z" style="fill: #d2b48c; fill-opacity: 0.7" /><path d="M599.31 301.7C599.75 301.7 600.17 301.52 600.48 301.21C600.79 300.9 600.96 300.48 600.96 300.05C600.96 299.61 600.79 299.19 600.48 298.88C600.17 298.57 599.75 298.4 599.31 298.4C598.87 298.4 598.45 298.57 598.14 298.88C597.83 299.19 597.66 299.61 597.66 300.05C597.66 300.48 597.83 300.9 598.14 301.21C598.45 301.52 598.87 301.7 599.31 301.7z" style="fill: #d2b48c; fill-opacity: 0.7" /><path d="M611.73 300.56C612.17 300.56 612.59 300.38 612.9 300.07C613.21 299.76 613.38 299.34 613.38 298.91C613.38 298.47 613.21 298.05 612.9 297.74C612.59 297.43 612.17 297.26 611.73 297.26C611.29 297.26 610.87 297.43 610.56 297.74C610.25 298.05 610.08 298.47 610.08 298.91C610.08 299.34 610.25 299.76 610.56 300.07C610.87 300.38 611.29 300.56 611.73 300.56z" style="fill: #d2b48c; fill-opacity: 0.7" /><path d="M624.15 298.71C624.59 298.71 625.01 298.54 625.32 298.23C625.63 297.92 625.8 297.5 625.8 297.06C625.8 296.62 625.63 296.2 625.32 295.89C625.01 295.58 624.59 295.41 624.15 295.41C623.71 295.41 623.29 295.58 622.98 295.89C622.67 296.2 622.5 296.62 622.5 297.06C622.5 297.5 622.67 297.92 622.98 298.23C623.29 298.54 623.71 298.71 624.15 298.71z" style="fill: #d2b48c; fill-opacity: 0.7" /><path d="M636.57 297.55C637.01 297.55 637.43 297.37 637.74 297.06C638.05 296.75 638.22 296.33 638.22 295.9C638.22 295.46 638.05 295.04 637.74 294.73C637.43 294.42 637.01 294.25 636.57 294.25C636.13 294.25 635.71 294.42 635.4 294.73C635.09 295.04 634.92 295.46 634.92 295.9C634.92 296.33 635.09 296.75 635.4 297.06C635.71 297.37 636.13 297.55 636.57 297.55z" style="fill: #d2b48c; fill-opacity: 0.7" /><path d="M648.99 296.16C649.43 296.16 649.85 295.99 650.16 295.68C650.47 295.37 650.64 294.95 650.64 294.51C650.64 294.07 650.47 293.65 650.16 293.34C649.85 293.03 649.43 292.86 648.99 292.86C648.55 292.86 648.13 293.03 647.82 293.34C647.51 293.65 647.34 294.07 647.34 294.51C647.34 294.95 647.51 295.37 647.82 295.68C648.13 295.99 648.55 296.16 648.99 296.16z" style="fill: #d2b48c; fill-opacity: 0.7" /></g><path d="M381.96 374.69L381.96 251.5M630.36 374.69L630.36 251.5M381.96 374.69L630.36 374.69M381.96 251.5L630.36 251.5" style="fill: none; stroke: #888888; stroke-width: 0.4; stroke-linejoin: miter; stroke-linecap: square" /><path d="M558.11 332.25L621.11 332.25Q623.61 332.25 623.61 329.75L623.61 260.75Q623.61 258.25 621.11 258.25L558.11 258.25Q555.61 258.25 555.61 260.75L555.61 329.75Q555.61 332.25 558.11 332.25z" style="fill: #ffffff; opacity: 0.8; stroke: #cccccc; stroke-width: 0.4; stroke-linejoin: miter" /><path d="M560.92 270.43L573.17 270.43L585.42 270.43" style="fill: none; stroke-dasharray: 6.29,2.72; stroke-dashoffset: 0; stroke: #00bfbf; stroke-width: 1.7" /><g transform="translate(595.422 274.808)"><text><tspan x="0" y="-0.384" style="font-style: oblique; font-size: 12.5px; font-family:'DejaVu Sans',sans-serif">D</tspan><tspan x="9.625" y="3.17" style="font-style: oblique; font-size: 8.75px; font-family:'DejaVu Sans',sans-serif">ℓ</tspan><tspan x="10.538" y="-5.361" style="font-size: 8.75px; font-family:'DejaVu Sans',sans-serif">BB</tspan></text></g><path d="M560.92 294.68L573.17 294.68L585.42 294.68" style="fill: none; stroke-dasharray: 1.8,2.61; stroke-dashoffset: 0; stroke: #9400d3; stroke-width: 1.8" /><g transform="translate(595.422 299.058)"><text><tspan x="0" y="-0.114" style="font-style: oblique; font-size: 12.5px; font-family:'DejaVu Sans',sans-serif">D</tspan><tspan x="9.625" y="3.441" style="font-style: oblique; font-size: 8.75px; font-family:'DejaVu Sans',sans-serif">ℓ</tspan><tspan x="10.538" y="-5.091" style="font-size: 8.75px; font-family:'DejaVu Sans',sans-serif">B</tspan><tspan x="15.646" y="-6.627" style="font-size: 8.75px; font-family:'DejaVu Sans',sans-serif">̂</tspan><tspan x="16.541" y="-5.091" style="font-size: 8.75px; font-family:'DejaVu Sans',sans-serif">B</tspan></text></g><path d="M560.92 318.93L573.17 318.93L585.42 318.93" style="fill: none; stroke: #d2b48c; stroke-opacity: 0.7; stroke-width: 1.7; stroke-linecap: square" /><g transform="translate(595.422 323.308)"><text><tspan x="0" y="-0.114" style="font-style: oblique; font-size: 12.5px; font-family:'DejaVu Sans',sans-serif">D</tspan><tspan x="9.625" y="3.441" style="font-style: oblique; font-size: 8.75px; font-family:'DejaVu Sans',sans-serif">ℓ</tspan><tspan x="10.538" y="-5.091" style="font-size: 8.75px; font-family:'DejaVu Sans',sans-serif">B</tspan><tspan x="15.646" y="-6.627" style="font-size: 8.75px; font-family:'DejaVu Sans',sans-serif">̂</tspan><tspan x="16.541" y="-5.091" style="font-size: 8.75px; font-family:'DejaVu Sans',sans-serif">B</tspan><tspan x="21.649" y="-6.627" style="font-size: 8.75px; font-family:'DejaVu Sans',sans-serif">̂</tspan></text></g><path d="M381.96 436.39L630.36 436.39L630.36 374.69L381.96 374.69z" style="fill: #ffffff" /><path d="M381.96 436.39L381.96 432.64M381.96 374.69L381.96 378.44" style="stroke: #000000; stroke-width: 0.75" /><text style="font-size: 12.1px; font-family:'DejaVu Sans',sans-serif; text-anchor: middle" x="381.96" y="447.336" transform="rotate(-0 381.96 447.336)">0</text><path d="M444.06 436.39L444.06 432.64M444.06 374.69L444.06 378.44" style="stroke: #000000; stroke-width: 0.75" /><text style="font-size: 12.1px; font-family:'DejaVu Sans',sans-serif; text-anchor: middle" x="444.06" y="447.336" transform="rotate(-0 444.06 447.336)">100</text><path d="M506.16 436.39L506.16 432.64M506.16 374.69L506.16 378.44" style="stroke: #000000; stroke-width: 0.75" /><text style="font-size: 12.1px; font-family:'DejaVu Sans',sans-serif; text-anchor: middle" x="506.16" y="447.336" transform="rotate(-0 506.16 447.336)">200</text><path d="M568.26 436.39L568.26 432.64M568.26 374.69L568.26 378.44" style="stroke: #000000; stroke-width: 0.75" /><text style="font-size: 12.1px; font-family:'DejaVu Sans',sans-serif; text-anchor: middle" x="568.26" y="447.336" transform="rotate(-0 568.26 447.336)">300</text><path d="M630.36 436.39L630.36 432.64M630.36 374.69L630.36 378.44" style="stroke: #000000; stroke-width: 0.75" /><text style="font-size: 12.1px; font-family:'DejaVu Sans',sans-serif; text-anchor: middle" x="630.36" y="447.336" transform="rotate(-0 630.36 447.336)">400</text><path d="M394.38 436.39L394.38 434.69M394.38 374.69L394.38 376.39M406.8 436.39L406.8 434.69M406.8 374.69L406.8 376.39M419.22 436.39L419.22 434.69M419.22 374.69L419.22 376.39M431.64 436.39L431.64 434.69M431.64 374.69L431.64 376.39M456.48 436.39L456.48 434.69M456.48 374.69L456.48 376.39M468.9 436.39L468.9 434.69M468.9 374.69L468.9 376.39M481.32 436.39L481.32 434.69M481.32 374.69L481.32 376.39M493.74 436.39L493.74 434.69M493.74 374.69L493.74 376.39M518.58 436.39L518.58 434.69M518.58 374.69L518.58 376.39M531 436.39L531 434.69M531 374.69L531 376.39M543.42 436.39L543.42 434.69M543.42 374.69L543.42 376.39M555.84 436.39L555.84 434.69M555.84 374.69L555.84 376.39M580.68 436.39L580.68 434.69M580.68 374.69L580.68 376.39M593.1 436.39L593.1 434.69M593.1 374.69L593.1 376.39M605.52 436.39L605.52 434.69M605.52 374.69L605.52 376.39M617.94 436.39L617.94 434.69M617.94 374.69L617.94 376.39" style="stroke: #000000; stroke-width: 0.6" /><g transform="translate(503.136 463.244)"><text><tspan x="0" y="-0.609" style="font-style: oblique; font-size: 14.4px; font-family:'DejaVu Sans',sans-serif">ℓ</tspan></text></g><path d="M381.96 436.39L385.71 436.39M630.36 436.39L626.61 436.39" style="stroke: #000000; stroke-width: 0.75" /><text style="font-size: 12.1px; font-family:'DejaVu Sans',sans-serif; text-anchor: end" x="380.31" y="440.989" transform="rotate(-0 380.31 440.989)">0.0</text><path d="M381.96 418.24L385.71 418.24M630.36 418.24L626.61 418.24" style="stroke: #000000; stroke-width: 0.75" /><text style="font-size: 12.1px; font-family:'DejaVu Sans',sans-serif; text-anchor: end" x="380.31" y="422.840" transform="rotate(-0 380.31 422.840)">0.5</text><path d="M381.96 400.1L385.71 400.1M630.36 400.1L626.61 400.1" style="stroke: #000000; stroke-width: 0.75" /><text style="font-size: 12.1px; font-family:'DejaVu Sans',sans-serif; text-anchor: end" x="380.31" y="404.692" transform="rotate(-0 380.31 404.692)">1.0</text><path d="M381.96 381.95L385.71 381.95M630.36 381.95L626.61 381.95" style="stroke: #000000; stroke-width: 0.75" /><text style="font-size: 12.1px; font-family:'DejaVu Sans',sans-serif; text-anchor: end" x="380.31" y="386.544" transform="rotate(-0 380.31 386.544)">1.5</text><path d="M381.96 432.76L383.66 432.76M630.36 432.76L628.66 432.76M381.96 429.13L383.66 429.13M630.36 429.13L628.66 429.13M381.96 425.5L383.66 425.5M630.36 425.5L628.66 425.5M381.96 421.87L383.66 421.87M630.36 421.87L628.66 421.87M381.96 414.61L383.66 414.61M630.36 414.61L628.66 414.61M381.96 410.98L383.66 410.98M630.36 410.98L628.66 410.98M381.96 407.35L383.66 407.35M630.36 407.35L628.66 407.35M381.96 403.73L383.66 403.73M630.36 403.73L628.66 403.73M381.96 396.47L383.66 396.47M630.36 396.47L628.66 396.47M381.96 392.84L383.66 392.84M630.36 392.84L628.66 392.84M381.96 389.21L383.66 389.21M630.36 389.21L628.66 389.21M381.96 385.58L383.66 385.58M630.36 385.58L628.66 385.58M381.96 378.32L383.66 378.32M630.36 378.32L628.66 378.32M381.96 374.69L383.66 374.69M630.36 374.69L628.66 374.69" style="stroke: #000000; stroke-width: 0.6" /><g transform="translate(355.091 434.432) rotate(-90)"><text><tspan x="0" y="-0.887" style="font-style: oblique; font-size: 14.4px; font-family:'DejaVu Sans',sans-serif">D</tspan><tspan x="11.069" y="2.941" style="font-style: oblique; font-size: 10.08px; font-family:'DejaVu Sans',sans-serif">ℓ</tspan><tspan x="12.051" y="-6.246" style="font-style: oblique; font-size: 10.08px; font-family:'DejaVu Sans',sans-serif">BB</tspan><tspan x="19.186" y="-8.605" style="font-size: 10.08px; font-family:'DejaVu Sans',sans-serif">̂</tspan><tspan x="26.089" y="-8.605" style="font-size: 10.08px; font-family:'DejaVu Sans',sans-serif">̂</tspan><tspan x="26.24" y="-0.887" style="font-size: 14.4px; font-family:'DejaVu Sans',sans-serif">/</tspan><tspan x="31.083" y="-0.887" style="font-style: oblique; font-size: 14.4px; font-family:'DejaVu Sans',sans-serif">D</tspan><tspan x="42.152" y="2.941" style="font-style: oblique; font-size: 10.08px; font-family:'DejaVu Sans',sans-serif">ℓ</tspan><tspan x="43.134" y="-6.246" style="font-style: oblique; font-size: 10.08px; font-family:'DejaVu Sans',sans-serif">BB</tspan></text></g><path d="M388.17 400.1L400.59 400.28L413.01 400.46L425.43 400.46L437.85 400.82L450.27 401.91L462.69 403.73L475.11 406.27L487.53 408.63L499.95 410.98L512.37 413.53L524.79 415.78L537.21 416.68L549.63 417.77L562.05 417.12L574.47 416.9L586.89 415.78L599.31 414.61L611.73 415.19L624.15 414.98L636.57 415.7L648.99 415.7" clip-path="url(#p38100a9426)" style="fill: none; stroke: #9400d3; stroke-width: 1.7; stroke-linecap: square" /><path d="M388.17 399.19L400.59 399.19L413.01 399.19L425.43 399.55L437.85 399.73L450.27 400.64L462.69 401.98L475.11 400.31L487.53 395.05L499.95 384.96L512.37 378.32L524.79 378.32L537.21 378.46L549.63 376.14L562.05 369.61L574.47 360.17L586.89 344.2L599.31 334.76" clip-path="url(#p38100a9426)" style="fill: none; stroke: #d2b48c; stroke-width: 1.7; stroke-linecap: square" /><path d="M381.96 400.1L630.36 400.1" clip-path="url(#p38100a9426)" style="fill: none; stroke-dasharray: 2.59,1.12; stroke-dashoffset: 0; stroke: #ff0000; stroke-width: 0.7" /><path d="M388.17 408.44L388.17 389.93M400.59 406.63L400.59 391.75M413.01 403.29L413.01 395.09M425.43 404.41L425.43 394.69M437.85 404.56L437.85 394.91M450.27 405.83L450.27 395.45M462.69 408.41L462.69 395.56M475.11 408.3L475.11 392.33M487.53 405.69L487.53 384.42M499.95 400.57L499.95 369.35M512.37 393.74L512.37 362.89M524.79 395.74L524.79 360.9M537.21 394.07L537.21 362.86M549.63 393.2L549.63 359.08M562.05 386.67L562.05 352.55M574.47 377.7L574.47 342.64M586.89 373.24L586.89 315.16M599.31 363.8L599.31 305.72" clip-path="url(#p38100a9426)" style="fill: none; stroke: #d2b48c; stroke-width: 1.35" /><g clip-path="url(#p38100a9426)"><path d="M389.77 408.44L386.57 408.44" style="fill: #1f77b4; stroke: #d2b48c; stroke-width: 1.35" /><path d="M402.19 406.63L398.99 406.63" style="fill: #1f77b4; stroke: #d2b48c; stroke-width: 1.35" /><path d="M414.61 403.29L411.41 403.29" style="fill: #1f77b4; stroke: #d2b48c; stroke-width: 1.35" /><path d="M427.03 404.41L423.83 404.41" style="fill: #1f77b4; stroke: #d2b48c; stroke-width: 1.35" /><path d="M439.45 404.56L436.25 404.56" style="fill: #1f77b4; stroke: #d2b48c; stroke-width: 1.35" /><path d="M451.87 405.83L448.67 405.83" style="fill: #1f77b4; stroke: #d2b48c; stroke-width: 1.35" /><path d="M464.29 408.41L461.09 408.41" style="fill: #1f77b4; stroke: #d2b48c; stroke-width: 1.35" /><path d="M476.71 408.3L473.51 408.3" style="fill: #1f77b4; stroke: #d2b48c; stroke-width: 1.35" /><path d="M489.13 405.69L485.93 405.69" style="fill: #1f77b4; stroke: #d2b48c; stroke-width: 1.35" /><path d="M501.55 400.57L498.35 400.57" style="fill: #1f77b4; stroke: #d2b48c; stroke-width: 1.35" /><path d="M513.97 393.74L510.77 393.74" style="fill: #1f77b4; stroke: #d2b48c; stroke-width: 1.35" /><path d="M526.39 395.74L523.19 395.74" style="fill: #1f77b4; stroke: #d2b48c; stroke-width: 1.35" /><path d="M538.81 394.07L535.61 394.07" style="fill: #1f77b4; stroke: #d2b48c; stroke-width: 1.35" /><path d="M551.23 393.2L548.03 393.2" style="fill: #1f77b4; stroke: #d2b48c; stroke-width: 1.35" /><path d="M563.65 386.67L560.45 386.67" style="fill: #1f77b4; stroke: #d2b48c; stroke-width: 1.35" /><path d="M576.07 377.7L572.87 377.7" style="fill: #1f77b4; stroke: #d2b48c; stroke-width: 1.35" /><path d="M588.49 373.24L585.29 373.24" style="fill: #1f77b4; stroke: #d2b48c; stroke-width: 1.35" /><path d="M600.91 363.8L597.71 363.8" style="fill: #1f77b4; stroke: #d2b48c; stroke-width: 1.35" /></g><g clip-path="url(#p38100a9426)"><path d="M389.77 389.93L386.57 389.93" style="fill: #1f77b4; stroke: #d2b48c; stroke-width: 1.35" /><path d="M402.19 391.75L398.99 391.75" style="fill: #1f77b4; stroke: #d2b48c; stroke-width: 1.35" /><path d="M414.61 395.09L411.41 395.09" style="fill: #1f77b4; stroke: #d2b48c; stroke-width: 1.35" /><path d="M427.03 394.69L423.83 394.69" style="fill: #1f77b4; stroke: #d2b48c; stroke-width: 1.35" /><path d="M439.45 394.91L436.25 394.91" style="fill: #1f77b4; stroke: #d2b48c; stroke-width: 1.35" /><path d="M451.87 395.45L448.67 395.45" style="fill: #1f77b4; stroke: #d2b48c; stroke-width: 1.35" /><path d="M464.29 395.56L461.09 395.56" style="fill: #1f77b4; stroke: #d2b48c; stroke-width: 1.35" /><path d="M476.71 392.33L473.51 392.33" style="fill: #1f77b4; stroke: #d2b48c; stroke-width: 1.35" /><path d="M489.13 384.42L485.93 384.42" style="fill: #1f77b4; stroke: #d2b48c; stroke-width: 1.35" /><path d="M501.55 369.35L498.35 369.35" style="fill: #1f77b4; stroke: #d2b48c; stroke-width: 1.35" /><path d="M513.97 362.89L510.77 362.89" style="fill: #1f77b4; stroke: #d2b48c; stroke-width: 1.35" /><path d="M526.39 360.9L523.19 360.9" style="fill: #1f77b4; stroke: #d2b48c; stroke-width: 1.35" /><path d="M538.81 362.86L535.61 362.86" style="fill: #1f77b4; stroke: #d2b48c; stroke-width: 1.35" /><path d="M551.23 359.08L548.03 359.08" style="fill: #1f77b4; stroke: #d2b48c; stroke-width: 1.35" /><path d="M563.65 352.55L560.45 352.55" style="fill: #1f77b4; stroke: #d2b48c; stroke-width: 1.35" /><path d="M576.07 342.64L572.87 342.64" style="fill: #1f77b4; stroke: #d2b48c; stroke-width: 1.35" /><path d="M588.49 315.16L585.29 315.16" style="fill: #1f77b4; stroke: #d2b48c; stroke-width: 1.35" /><path d="M600.91 305.72L597.71 305.72" style="fill: #1f77b4; stroke: #d2b48c; stroke-width: 1.35" /></g><g clip-path="url(#p38100a9426)"><path d="M388.17 400.54C388.53 400.54 388.87 400.4 389.12 400.14C389.38 399.89 389.52 399.55 389.52 399.19C389.52 398.83 389.38 398.49 389.12 398.23C388.87 397.98 388.53 397.84 388.17 397.84C387.81 397.84 387.47 397.98 387.22 398.23C386.96 398.49 386.82 398.83 386.82 399.19C386.82 399.55 386.96 399.89 387.22 400.14C387.47 400.4 387.81 400.54 388.17 400.54z" style="fill: #d2b48c" /><path d="M400.59 400.54C400.95 400.54 401.29 400.4 401.54 400.14C401.8 399.89 401.94 399.55 401.94 399.19C401.94 398.83 401.8 398.49 401.54 398.23C401.29 397.98 400.95 397.84 400.59 397.84C400.23 397.84 399.89 397.98 399.64 398.23C399.38 398.49 399.24 398.83 399.24 399.19C399.24 399.55 399.38 399.89 399.64 400.14C399.89 400.4 400.23 400.54 400.59 400.54z" style="fill: #d2b48c" /><path d="M413.01 400.54C413.37 400.54 413.71 400.4 413.96 400.14C414.22 399.89 414.36 399.55 414.36 399.19C414.36 398.83 414.22 398.49 413.96 398.23C413.71 397.98 413.37 397.84 413.01 397.84C412.65 397.84 412.31 397.98 412.06 398.23C411.8 398.49 411.66 398.83 411.66 399.19C411.66 399.55 411.8 399.89 412.06 400.14C412.31 400.4 412.65 400.54 413.01 400.54z" style="fill: #d2b48c" /><path d="M425.43 400.9C425.79 400.9 426.13 400.76 426.38 400.51C426.64 400.25 426.78 399.91 426.78 399.55C426.78 399.19 426.64 398.85 426.38 398.6C426.13 398.34 425.79 398.2 425.43 398.2C425.07 398.2 424.73 398.34 424.48 398.6C424.22 398.85 424.08 399.19 424.08 399.55C424.08 399.91 424.22 400.25 424.48 400.51C424.73 400.76 425.07 400.9 425.43 400.9z" style="fill: #d2b48c" /><path d="M437.85 401.08C438.21 401.08 438.55 400.94 438.8 400.69C439.06 400.43 439.2 400.09 439.2 399.73C439.2 399.37 439.06 399.03 438.8 398.78C438.55 398.52 438.21 398.38 437.85 398.38C437.49 398.38 437.15 398.52 436.9 398.78C436.64 399.03 436.5 399.37 436.5 399.73C436.5 400.09 436.64 400.43 436.9 400.69C437.15 400.94 437.49 401.08 437.85 401.08z" style="fill: #d2b48c" /><path d="M450.27 401.99C450.63 401.99 450.97 401.85 451.22 401.59C451.48 401.34 451.62 401 451.62 400.64C451.62 400.28 451.48 399.94 451.22 399.69C450.97 399.43 450.63 399.29 450.27 399.29C449.91 399.29 449.57 399.43 449.32 399.69C449.06 399.94 448.92 400.28 448.92 400.64C448.92 401 449.06 401.34 449.32 401.59C449.57 401.85 449.91 401.99 450.27 401.99z" style="fill: #d2b48c" /><path d="M462.69 403.33C463.05 403.33 463.39 403.19 463.64 402.94C463.9 402.68 464.04 402.34 464.04 401.98C464.04 401.62 463.9 401.28 463.64 401.03C463.39 400.78 463.05 400.63 462.69 400.63C462.33 400.63 461.99 400.78 461.74 401.03C461.48 401.28 461.34 401.62 461.34 401.98C461.34 402.34 461.48 402.68 461.74 402.94C461.99 403.19 462.33 403.33 462.69 403.33z" style="fill: #d2b48c" /><path d="M475.11 401.66C475.47 401.66 475.81 401.52 476.06 401.27C476.32 401.01 476.46 400.67 476.46 400.31C476.46 399.96 476.32 399.61 476.06 399.36C475.81 399.11 475.47 398.96 475.11 398.96C474.75 398.96 474.41 399.11 474.16 399.36C473.9 399.61 473.76 399.96 473.76 400.31C473.76 400.67 473.9 401.01 474.16 401.27C474.41 401.52 474.75 401.66 475.11 401.66z" style="fill: #d2b48c" /><path d="M487.53 396.4C487.89 396.4 488.23 396.26 488.48 396C488.74 395.75 488.88 395.41 488.88 395.05C488.88 394.69 488.74 394.35 488.48 394.1C488.23 393.84 487.89 393.7 487.53 393.7C487.17 393.7 486.83 393.84 486.58 394.1C486.32 394.35 486.18 394.69 486.18 395.05C486.18 395.41 486.32 395.75 486.58 396C486.83 396.26 487.17 396.4 487.53 396.4z" style="fill: #d2b48c" /><path d="M499.95 386.31C500.31 386.31 500.65 386.17 500.9 385.91C501.16 385.66 501.3 385.32 501.3 384.96C501.3 384.6 501.16 384.26 500.9 384.01C500.65 383.75 500.31 383.61 499.95 383.61C499.59 383.61 499.25 383.75 499 384.01C498.74 384.26 498.6 384.6 498.6 384.96C498.6 385.32 498.74 385.66 499 385.91C499.25 386.17 499.59 386.31 499.95 386.31z" style="fill: #d2b48c" /><path d="M512.37 379.67C512.73 379.67 513.07 379.53 513.32 379.27C513.58 379.02 513.72 378.68 513.72 378.32C513.72 377.96 513.58 377.62 513.32 377.36C513.07 377.11 512.73 376.97 512.37 376.97C512.01 376.97 511.67 377.11 511.42 377.36C511.16 377.62 511.02 377.96 511.02 378.32C511.02 378.68 511.16 379.02 511.42 379.27C511.67 379.53 512.01 379.67 512.37 379.67z" style="fill: #d2b48c" /><path d="M524.79 379.67C525.15 379.67 525.49 379.53 525.74 379.27C526 379.02 526.14 378.68 526.14 378.32C526.14 377.96 526 377.62 525.74 377.36C525.49 377.11 525.15 376.97 524.79 376.97C524.43 376.97 524.09 377.11 523.84 377.36C523.58 377.62 523.44 377.96 523.44 378.32C523.44 378.68 523.58 379.02 523.84 379.27C524.09 379.53 524.43 379.67 524.79 379.67z" style="fill: #d2b48c" /><path d="M537.21 379.81C537.57 379.81 537.91 379.67 538.16 379.42C538.42 379.16 538.56 378.82 538.56 378.46C538.56 378.1 538.42 377.76 538.16 377.51C537.91 377.26 537.57 377.11 537.21 377.11C536.85 377.11 536.51 377.26 536.26 377.51C536 377.76 535.86 378.1 535.86 378.46C535.86 378.82 536 379.16 536.26 379.42C536.51 379.67 536.85 379.81 537.21 379.81z" style="fill: #d2b48c" /><path d="M549.63 377.49C549.99 377.49 550.33 377.35 550.58 377.09C550.84 376.84 550.98 376.5 550.98 376.14C550.98 375.78 550.84 375.44 550.58 375.19C550.33 374.93 549.99 374.79 549.63 374.79C549.27 374.79 548.93 374.93 548.68 375.19C548.42 375.44 548.28 375.78 548.28 376.14C548.28 376.5 548.42 376.84 548.68 377.09C548.93 377.35 549.27 377.49 549.63 377.49z" style="fill: #d2b48c" /><path d="M562.05 370.96C562.41 370.96 562.75 370.81 563 370.56C563.26 370.31 563.4 369.96 563.4 369.61C563.4 369.25 563.26 368.91 563 368.65C562.75 368.4 562.41 368.26 562.05 368.26C561.69 368.26 561.35 368.4 561.1 368.65C560.84 368.91 560.7 369.25 560.7 369.61C560.7 369.96 560.84 370.31 561.1 370.56C561.35 370.81 561.69 370.96 562.05 370.96z" style="fill: #d2b48c" /><path d="M574.47 361.52C574.83 361.52 575.17 361.38 575.42 361.12C575.68 360.87 575.82 360.53 575.82 360.17C575.82 359.81 575.68 359.47 575.42 359.21C575.17 358.96 574.83 358.82 574.47 358.82C574.11 358.82 573.77 358.96 573.52 359.21C573.26 359.47 573.12 359.81 573.12 360.17C573.12 360.53 573.26 360.87 573.52 361.12C573.77 361.38 574.11 361.52 574.47 361.52z" style="fill: #d2b48c" /><path d="M586.89 345.55C587.25 345.55 587.59 345.41 587.84 345.15C588.1 344.9 588.24 344.56 588.24 344.2C588.24 343.84 588.1 343.5 587.84 343.24C587.59 342.99 587.25 342.85 586.89 342.85C586.53 342.85 586.19 342.99 585.94 343.24C585.68 343.5 585.54 343.84 585.54 344.2C585.54 344.56 585.68 344.9 585.94 345.15C586.19 345.41 586.53 345.55 586.89 345.55z" style="fill: #d2b48c" /><path d="M599.31 336.11C599.67 336.11 600.01 335.97 600.26 335.72C600.52 335.46 600.66 335.12 600.66 334.76C600.66 334.4 600.52 334.06 600.26 333.81C600.01 333.55 599.67 333.41 599.31 333.41C598.95 333.41 598.61 333.55 598.36 333.81C598.1 334.06 597.96 334.4 597.96 334.76C597.96 335.12 598.1 335.46 598.36 335.72C598.61 335.97 598.95 336.11 599.31 336.11z" style="fill: #d2b48c" /></g><path d="M381.96 436.39L381.96 374.69M630.36 436.39L630.36 374.69M381.96 436.39L630.36 436.39M381.96 374.69L630.36 374.69" style="fill: none; stroke: #888888; stroke-width: 0.4; stroke-linejoin: miter; stroke-linecap: square" /><path d="M714.6 152.93L963 152.93L963 29.23L714.6 29.23z" style="fill: #ffffff" /><path d="M714.6 152.93L714.6 149.18M714.6 29.23L714.6 32.98M776.7 152.93L776.7 149.18M776.7 29.23L776.7 32.98M838.8 152.93L838.8 149.18M838.8 29.23L838.8 32.98M900.9 152.93L900.9 149.18M900.9 29.23L900.9 32.98M963 152.93L963 149.18M963 29.23L963 32.98" style="stroke: #000000; stroke-width: 0.75" /><path d="M720.81 152.93L720.81 151.23M720.81 29.23L720.81 30.93M727.02 152.93L727.02 151.23M727.02 29.23L727.02 30.93M733.23 152.93L733.23 151.23M733.23 29.23L733.23 30.93M739.44 152.93L739.44 151.23M739.44 29.23L739.44 30.93M745.65 152.93L745.65 151.23M745.65 29.23L745.65 30.93M751.86 152.93L751.86 151.23M751.86 29.23L751.86 30.93M758.07 152.93L758.07 151.23M758.07 29.23L758.07 30.93M764.28 152.93L764.28 151.23M764.28 29.23L764.28 30.93M770.49 152.93L770.49 151.23M770.49 29.23L770.49 30.93M782.91 152.93L782.91 151.23M782.91 29.23L782.91 30.93M789.12 152.93L789.12 151.23M789.12 29.23L789.12 30.93M795.33 152.93L795.33 151.23M795.33 29.23L795.33 30.93M801.54 152.93L801.54 151.23M801.54 29.23L801.54 30.93M807.75 152.93L807.75 151.23M807.75 29.23L807.75 30.93M813.96 152.93L813.96 151.23M813.96 29.23L813.96 30.93M820.17 152.93L820.17 151.23M820.17 29.23L820.17 30.93M826.38 152.93L826.38 151.23M826.38 29.23L826.38 30.93M832.59 152.93L832.59 151.23M832.59 29.23L832.59 30.93M845.01 152.93L845.01 151.23M845.01 29.23L845.01 30.93M851.22 152.93L851.22 151.23M851.22 29.23L851.22 30.93M857.43 152.93L857.43 151.23M857.43 29.23L857.43 30.93M863.64 152.93L863.64 151.23M863.64 29.23L863.64 30.93M869.85 152.93L869.85 151.23M869.85 29.23L869.85 30.93M876.06 152.93L876.06 151.23M876.06 29.23L876.06 30.93M882.27 152.93L882.27 151.23M882.27 29.23L882.27 30.93M888.48 152.93L888.48 151.23M888.48 29.23L888.48 30.93M894.69 152.93L894.69 151.23M894.69 29.23L894.69 30.93M907.11 152.93L907.11 151.23M907.11 29.23L907.11 30.93M913.32 152.93L913.32 151.23M913.32 29.23L913.32 30.93M919.53 152.93L919.53 151.23M919.53 29.23L919.53 30.93M925.74 152.93L925.74 151.23M925.74 29.23L925.74 30.93M931.95 152.93L931.95 151.23M931.95 29.23L931.95 30.93M938.16 152.93L938.16 151.23M938.16 29.23L938.16 30.93M944.37 152.93L944.37 151.23M944.37 29.23L944.37 30.93M950.58 152.93L950.58 151.23M950.58 29.23L950.58 30.93M956.79 152.93L956.79 151.23M956.79 29.23L956.79 30.93" style="stroke: #000000; stroke-width: 0.6" /><path d="M714.6 147.89L718.35 147.89M963 147.89L959.25 147.89" style="stroke: #000000; stroke-width: 0.75" /><g transform="translate(684.515 152.484)"><text><tspan x="0" y="-0.172" style="font-size: 12.1px; font-family:'DejaVu Sans',sans-serif">10</tspan><tspan x="15.543" y="-4.766" style="font-size: 8.47px; font-family:'DejaVu Sans',sans-serif">−2</tspan></text></g><path d="M714.6 116.83L718.35 116.83M963 116.83L959.25 116.83" style="stroke: #000000; stroke-width: 0.75" /><g transform="translate(684.515 121.429)"><text><tspan x="0" y="-0.281" style="font-size: 12.1px; font-family:'DejaVu Sans',sans-serif">10</tspan><tspan x="15.543" y="-4.875" style="font-size: 8.47px; font-family:'DejaVu Sans',sans-serif">−1</tspan></text></g><path d="M714.6 85.78L718.35 85.78M963 85.78L959.25 85.78" style="stroke: #000000; stroke-width: 0.75" /><g transform="translate(691.654 90.374)"><text><tspan x="0" y="-0.172" style="font-size: 12.1px; font-family:'DejaVu Sans',sans-serif">10</tspan><tspan x="15.543" y="-4.766" style="font-size: 8.47px; font-family:'DejaVu Sans',sans-serif">0</tspan></text></g><path d="M714.6 54.72L718.35 54.72M963 54.72L959.25 54.72" style="stroke: #000000; stroke-width: 0.75" /><g transform="translate(691.654 59.319)"><text><tspan x="0" y="-0.281" style="font-size: 12.1px; font-family:'DejaVu Sans',sans-serif">10</tspan><tspan x="15.543" y="-4.875" style="font-size: 8.47px; font-family:'DejaVu Sans',sans-serif">1</tspan></text></g><path d="M714.6 152.7L716.3 152.7M963 152.7L961.3 152.7M714.6 150.9L716.3 150.9M963 150.9L961.3 150.9M714.6 149.31L716.3 149.31M963 149.31L961.3 149.31M714.6 138.54L716.3 138.54M963 138.54L961.3 138.54M714.6 133.07L716.3 133.07M963 133.07L961.3 133.07M714.6 129.19L716.3 129.19M963 129.19L961.3 129.19M714.6 126.18L716.3 126.18M963 126.18L961.3 126.18M714.6 123.72L716.3 123.72M963 123.72L961.3 123.72M714.6 121.64L716.3 121.64M963 121.64L961.3 121.64M714.6 119.84L716.3 119.84M963 119.84L961.3 119.84M714.6 118.25L716.3 118.25M963 118.25L961.3 118.25M714.6 107.48L716.3 107.48M963 107.48L961.3 107.48M714.6 102.02L716.3 102.02M963 102.02L961.3 102.02M714.6 98.14L716.3 98.14M963 98.14L961.3 98.14M714.6 95.13L716.3 95.13M963 95.13L961.3 95.13M714.6 92.67L716.3 92.67M963 92.67L961.3 92.67M714.6 90.59L716.3 90.59M963 90.59L961.3 90.59M714.6 88.79L716.3 88.79M963 88.79L961.3 88.79M714.6 87.2L716.3 87.2M963 87.2L961.3 87.2M714.6 76.43L716.3 76.43M963 76.43L961.3 76.43M714.6 70.96L716.3 70.96M963 70.96L961.3 70.96M714.6 67.08L716.3 67.08M963 67.08L961.3 67.08M714.6 64.07L716.3 64.07M963 64.07L961.3 64.07M714.6 61.61L716.3 61.61M963 61.61L961.3 61.61M714.6 59.53L716.3 59.53M963 59.53L961.3 59.53M714.6 57.73L716.3 57.73M963 57.73L961.3 57.73M714.6 56.14L716.3 56.14M963 56.14L961.3 56.14M714.6 45.37L716.3 45.37M963 45.37L961.3 45.37M714.6 39.91L716.3 39.91M963 39.91L961.3 39.91M714.6 36.03L716.3 36.03M963 36.03L961.3 36.03M714.6 33.02L716.3 33.02M963 33.02L961.3 33.02M714.6 30.56L716.3 30.56M963 30.56L961.3 30.56" style="stroke: #000000; stroke-width: 0.6" /><g transform="translate(678.539 103.875) rotate(-90)"><text><tspan x="0" y="-0.498" style="font-style: oblique; font-size: 14.4px; font-family:'DejaVu Sans',sans-serif">D</tspan><tspan x="11.069" y="3.33" style="font-style: oblique; font-size: 10.08px; font-family:'DejaVu Sans',sans-serif">ℓ</tspan><tspan x="12.051" y="-5.858" style="font-style: oblique; font-size: 10.08px; font-family:'DejaVu Sans',sans-serif">EE</tspan></text></g><path d="M715.84 147.27L717.58 135.62L718.7 129.33L719.32 125.16L720.93 111.35L721.8 106.28L722.67 102.56L725.28 93.1L726.03 91.07L727.27 88.56L728.26 87.05L729.01 86.29L730.5 85.18L731.37 84.81L731.99 84.76L732.61 84.93L733.48 85.42L735.59 86.95L739.07 89.93L739.44 89.9L739.94 89.62L740.56 89.05L740.93 88.4L741.68 86.46L742.79 83.09L744.41 77.18L746.02 71.09L747.51 66.68L749.62 61.23L751.36 57.26L752.73 54.7L754.34 52.09L755.96 49.89L757.95 47.51L759.06 46.51L760.55 45.59L761.92 44.97L762.91 44.72L763.78 44.78L765.03 45.07L766.27 45.62L767.51 46.41L768.88 47.56L770.37 49.13L771.98 51.19L774.22 54.44L776.45 57.63L777.57 58.88L778.44 59.55L779.18 59.86L779.8 59.92L780.3 59.77L780.92 59.31L781.67 58.4L782.54 56.98L783.9 54.26L787.51 46.9L789.12 44.14L790.61 41.99L792.1 40.22L793.47 38.92L794.83 37.92L796.2 37.21L797.44 36.8L798.68 36.62L799.93 36.66L801.17 36.92L802.41 37.39L803.78 38.15L805.14 39.17L806.63 40.57L808.25 42.41L810.11 44.88L814.46 50.81L815.45 51.74L816.32 52.27L817.07 52.48L817.81 52.44L818.56 52.15L819.42 51.54L820.42 50.54L821.78 48.79L828.12 40.11L829.73 38.46L831.35 37.12L832.84 36.17L834.33 35.49L835.7 35.11L837.06 34.96L838.43 35.04L839.79 35.35L841.16 35.91L842.53 36.7L844.02 37.85L845.51 39.28L847.12 41.13L848.98 43.63L854.08 50.7L855.07 51.57L855.94 52.03L856.68 52.15L857.55 52.03L858.42 51.66L859.42 50.99L860.66 49.85L862.52 47.78L866.12 43.73L867.86 42.12L869.48 40.92L870.97 40.08L872.33 39.56L873.7 39.27L875.07 39.21L876.56 39.38L878.05 39.76L879.54 40.37L881.15 41.27L882.77 42.43L884.51 43.95L886.49 46L889.23 49.18L891.96 52.27L893.32 53.49L894.44 54.19L895.31 54.5L896.18 54.59L897.17 54.43L898.17 54.04L899.29 53.36L900.78 52.16L903.51 49.59L905.99 47.38L907.73 46.1L909.35 45.18L910.84 44.58L912.2 44.26L913.57 44.15L914.93 44.26L916.3 44.59L917.67 45.14L919.16 45.99L920.65 47.09L922.26 48.57L924.13 50.61L926.49 53.56L929.47 57.26L929.47 57.26" clip-path="url(#pe963dcbb41)" style="fill: none; stroke-dasharray: 6.29,2.72; stroke-dashoffset: 0; stroke: #00bfbf; stroke-width: 1.7" /><path d="M715.84 147.27L717.58 135.62L718.7 129.33L719.32 125.17L720.93 111.38L721.8 106.3L722.67 102.58L725.28 93.11L726.03 91.08L727.27 88.57L728.26 87.06L729.01 86.31L730.5 85.19L731.37 84.82L731.99 84.77L732.61 84.94L733.48 85.43L735.59 86.96L739.07 89.93L739.44 89.91L739.94 89.63L740.56 89.07L740.93 88.41L741.68 86.47L742.79 83.1L744.41 77.19L746.02 71.1L747.51 66.69L749.62 61.24L751.36 57.26L752.73 54.71L754.34 52.1L755.96 49.9L757.95 47.52L759.06 46.52L760.55 45.61L761.92 44.98L762.91 44.73L763.78 44.78L765.03 45.08L766.27 45.63L767.51 46.42L768.88 47.57L770.37 49.15L771.98 51.2L774.22 54.46L776.45 57.65L777.57 58.89L778.44 59.57L779.18 59.88L779.8 59.93L780.3 59.78L780.92 59.32L781.67 58.42L782.54 57L783.9 54.28L787.51 46.92L789.12 44.16L790.61 42.01L792.1 40.24L793.47 38.94L794.83 37.94L796.2 37.23L797.44 36.82L798.68 36.64L799.93 36.69L801.17 36.94L802.41 37.41L803.78 38.18L805.14 39.2L806.63 40.6L808.25 42.44L810.11 44.91L814.46 50.84L815.45 51.77L816.32 52.31L817.07 52.51L817.81 52.47L818.56 52.19L819.42 51.58L820.42 50.57L821.78 48.82L828.12 40.15L829.73 38.49L831.35 37.15L832.84 36.2L834.33 35.53L835.7 35.15L837.06 35L838.43 35.07L839.79 35.39L841.16 35.95L842.53 36.75L844.02 37.9L845.51 39.34L847.12 41.19L848.98 43.69L853.95 50.63L854.95 51.54L855.82 52.03L856.56 52.2L857.31 52.14L858.18 51.84L859.17 51.24L860.29 50.28L861.9 48.56L866.75 43.19L868.48 41.69L869.97 40.68L871.46 39.93L872.83 39.49L874.2 39.29L875.56 39.31L877.05 39.55L878.54 40.02L880.16 40.77L881.77 41.78L883.39 43.04L885.25 44.8L887.36 47.1L892.58 52.97L893.82 53.94L894.81 54.45L895.68 54.67L896.55 54.67L897.55 54.42L898.54 53.96L899.78 53.11L901.4 51.72L906.61 47.04L908.35 45.87L909.84 45.11L911.33 44.6L912.7 44.36L914.07 44.33L915.43 44.53L916.8 44.95L918.29 45.66L919.78 46.63L921.39 47.97L923.13 49.74L925.12 52.1L929.47 57.59L929.47 57.59" clip-path="url(#pe963dcbb41)" style="fill: none; stroke-dasharray: 1.8,2.61; stroke-dashoffset: 0; stroke: #9400d3; stroke-width: 1.8" /><path d="M715.84 147.27L717.58 135.62L718.7 129.34L719.32 125.18L720.93 111.4L721.8 106.32L722.67 102.61L725.28 93.13L726.03 91.1L727.27 88.59L728.26 87.08L729.01 86.32L730.5 85.21L731.37 84.83L731.99 84.79L732.61 84.96L733.48 85.44L735.59 86.98L739.07 89.94L739.44 89.92L739.94 89.64L740.56 89.08L740.93 88.42L741.68 86.48L742.79 83.11L744.41 77.2L746.02 71.1L747.51 66.71L749.62 61.25L751.36 57.27L752.73 54.72L754.34 52.11L755.96 49.91L757.95 47.53L759.06 46.53L760.55 45.62L761.92 44.99L762.91 44.74L763.78 44.79L765.03 45.09L766.27 45.64L767.51 46.43L768.88 47.58L770.37 49.16L771.98 51.21L774.22 54.47L776.45 57.66L777.57 58.91L778.44 59.58L779.18 59.9L779.8 59.95L780.3 59.8L780.92 59.34L781.67 58.44L782.54 57.02L783.9 54.3L787.51 46.93L789.12 44.18L790.61 42.03L792.1 40.26L793.47 38.96L794.83 37.96L796.2 37.25L797.44 36.84L798.68 36.66L799.93 36.71L801.17 36.96L802.41 37.43L803.78 38.2L805.14 39.23L806.63 40.63L808.25 42.47L810.11 44.94L814.46 50.87L815.45 51.81L816.32 52.34L817.07 52.55L817.81 52.51L818.56 52.22L819.42 51.61L820.42 50.6L821.78 48.85L828.12 40.18L829.73 38.53L831.35 37.18L832.84 36.23L834.33 35.57L835.82 35.17L837.19 35.03L838.43 35.11L839.79 35.43L841.16 35.99L842.53 36.8L844.02 37.96L845.63 39.53L847.25 41.41L849.11 43.93L853.83 50.55L854.82 51.5L855.69 52.04L856.44 52.25L857.18 52.22L858.05 51.95L859.04 51.38L860.16 50.45L861.65 48.9L867.12 42.9L868.73 41.57L870.22 40.6L871.71 39.9L873.08 39.5L874.45 39.34L875.81 39.4L877.3 39.69L878.79 40.2L880.41 41L882.02 42.05L883.64 43.36L885.5 45.16L887.73 47.65L892.33 52.85L893.57 53.88L894.57 54.45L895.56 54.76L896.43 54.79L897.42 54.58L898.42 54.14L899.66 53.32L901.27 51.96L906.74 47.09L908.48 45.95L909.97 45.21L911.46 44.73L912.82 44.51L914.19 44.51L915.56 44.74L916.92 45.19L918.41 45.93L919.9 46.93L921.52 48.32L923.26 50.13L925.24 52.53L929.47 57.93L929.47 57.93" clip-path="url(#pe963dcbb41)" style="fill: none; stroke: #d2b48c; stroke-opacity: 0.7; stroke-width: 1.7; stroke-linecap: square" /><path d="M714.6 152.93L714.6 29.23M963 152.93L963 29.23M714.6 152.93L963 152.93M714.6 29.23L963 29.23" style="fill: none; stroke: #888888; stroke-width: 0.4; stroke-linejoin: miter; stroke-linecap: square" /><path d="M891.62 146.18L953.75 146.18Q956.25 146.18 956.25 143.68L956.25 74.68Q956.25 72.18 953.75 72.18L891.62 72.18Q889.12 72.18 889.12 74.68L889.12 143.68Q889.12 146.18 891.62 146.18z" style="fill: #ffffff; opacity: 0.8; stroke: #cccccc; stroke-width: 0.4; stroke-linejoin: miter" /><path d="M894.44 84.37L906.69 84.37L918.94 84.37" style="fill: none; stroke-dasharray: 6.29,2.72; stroke-dashoffset: 0; stroke: #00bfbf; stroke-width: 1.7" /><g transform="translate(928.937 88.740)"><text><tspan x="0" y="-0.384" style="font-style: oblique; font-size: 12.5px; font-family:'DejaVu Sans',sans-serif">D</tspan><tspan x="9.625" y="3.17" style="font-style: oblique; font-size: 8.75px; font-family:'DejaVu Sans',sans-serif">ℓ</tspan><tspan x="10.538" y="-5.361" style="font-size: 8.75px; font-family:'DejaVu Sans',sans-serif">EE</tspan></text></g><path d="M894.44 108.62L906.69 108.62L918.94 108.62" style="fill: none; stroke-dasharray: 1.8,2.61; stroke-dashoffset: 0; stroke: #9400d3; stroke-width: 1.8" /><g transform="translate(928.937 112.990)"><text><tspan x="0" y="-0.114" style="font-style: oblique; font-size: 12.5px; font-family:'DejaVu Sans',sans-serif">D</tspan><tspan x="9.625" y="3.441" style="font-style: oblique; font-size: 8.75px; font-family:'DejaVu Sans',sans-serif">ℓ</tspan><tspan x="10.538" y="-5.091" style="font-size: 8.75px; font-family:'DejaVu Sans',sans-serif">E</tspan><tspan x="15.527" y="-6.627" style="font-size: 8.75px; font-family:'DejaVu Sans',sans-serif">̂</tspan><tspan x="16.067" y="-5.091" style="font-size: 8.75px; font-family:'DejaVu Sans',sans-serif">E</tspan></text></g><path d="M894.44 132.87L906.69 132.87L918.94 132.87" style="fill: none; stroke: #d2b48c; stroke-opacity: 0.7; stroke-width: 1.7; stroke-linecap: square" /><g transform="translate(928.937 137.240)"><text><tspan x="0" y="-0.114" style="font-style: oblique; font-size: 12.5px; font-family:'DejaVu Sans',sans-serif">D</tspan><tspan x="9.625" y="3.441" style="font-style: oblique; font-size: 8.75px; font-family:'DejaVu Sans',sans-serif">ℓ</tspan><tspan x="10.538" y="-5.091" style="font-size: 8.75px; font-family:'DejaVu Sans',sans-serif">E</tspan><tspan x="15.527" y="-6.627" style="font-size: 8.75px; font-family:'DejaVu Sans',sans-serif">̂</tspan><tspan x="16.067" y="-5.091" style="font-size: 8.75px; font-family:'DejaVu Sans',sans-serif">E</tspan><tspan x="21.056" y="-6.627" style="font-size: 8.75px; font-family:'DejaVu Sans',sans-serif">̂</tspan></text></g><path d="M714.6 214.13L963 214.13L963 152.93L714.6 152.93z" style="fill: #ffffff" /><path d="M714.6 214.13L714.6 210.38M714.6 152.93L714.6 156.68" style="stroke: #000000; stroke-width: 0.75" /><text style="font-size: 12.1px; font-family:'DejaVu Sans',sans-serif; text-anchor: middle" x="714.6" y="225.072" transform="rotate(-0 714.6 225.072)">0</text><path d="M776.7 214.13L776.7 210.38M776.7 152.93L776.7 156.68" style="stroke: #000000; stroke-width: 0.75" /><text style="font-size: 12.1px; font-family:'DejaVu Sans',sans-serif; text-anchor: middle" x="776.7" y="225.072" transform="rotate(-0 776.7 225.072)">500</text><path d="M838.8 214.13L838.8 210.38M838.8 152.93L838.8 156.68" style="stroke: #000000; stroke-width: 0.75" /><text style="font-size: 12.1px; font-family:'DejaVu Sans',sans-serif; text-anchor: middle" x="838.8" y="225.072" transform="rotate(-0 838.8 225.072)">1000</text><path d="M900.9 214.13L900.9 210.38M900.9 152.93L900.9 156.68" style="stroke: #000000; stroke-width: 0.75" /><text style="font-size: 12.1px; font-family:'DejaVu Sans',sans-serif; text-anchor: middle" x="900.9" y="225.072" transform="rotate(-0 900.9 225.072)">1500</text><path d="M963 214.13L963 210.38M963 152.93L963 156.68" style="stroke: #000000; stroke-width: 0.75" /><text style="font-size: 12.1px; font-family:'DejaVu Sans',sans-serif; text-anchor: middle" x="963" y="225.072" transform="rotate(-0 963 225.072)">2000</text><path d="M720.81 214.13L720.81 212.43M720.81 152.93L720.81 154.63M727.02 214.13L727.02 212.43M727.02 152.93L727.02 154.63M733.23 214.13L733.23 212.43M733.23 152.93L733.23 154.63M739.44 214.13L739.44 212.43M739.44 152.93L739.44 154.63M745.65 214.13L745.65 212.43M745.65 152.93L745.65 154.63M751.86 214.13L751.86 212.43M751.86 152.93L751.86 154.63M758.07 214.13L758.07 212.43M758.07 152.93L758.07 154.63M764.28 214.13L764.28 212.43M764.28 152.93L764.28 154.63M770.49 214.13L770.49 212.43M770.49 152.93L770.49 154.63M782.91 214.13L782.91 212.43M782.91 152.93L782.91 154.63M789.12 214.13L789.12 212.43M789.12 152.93L789.12 154.63M795.33 214.13L795.33 212.43M795.33 152.93L795.33 154.63M801.54 214.13L801.54 212.43M801.54 152.93L801.54 154.63M807.75 214.13L807.75 212.43M807.75 152.93L807.75 154.63M813.96 214.13L813.96 212.43M813.96 152.93L813.96 154.63M820.17 214.13L820.17 212.43M820.17 152.93L820.17 154.63M826.38 214.13L826.38 212.43M826.38 152.93L826.38 154.63M832.59 214.13L832.59 212.43M832.59 152.93L832.59 154.63M845.01 214.13L845.01 212.43M845.01 152.93L845.01 154.63M851.22 214.13L851.22 212.43M851.22 152.93L851.22 154.63M857.43 214.13L857.43 212.43M857.43 152.93L857.43 154.63M863.64 214.13L863.64 212.43M863.64 152.93L863.64 154.63M869.85 214.13L869.85 212.43M869.85 152.93L869.85 154.63M876.06 214.13L876.06 212.43M876.06 152.93L876.06 154.63M882.27 214.13L882.27 212.43M882.27 152.93L882.27 154.63M888.48 214.13L888.48 212.43M888.48 152.93L888.48 154.63M894.69 214.13L894.69 212.43M894.69 152.93L894.69 154.63M907.11 214.13L907.11 212.43M907.11 152.93L907.11 154.63M913.32 214.13L913.32 212.43M913.32 152.93L913.32 154.63M919.53 214.13L919.53 212.43M919.53 152.93L919.53 154.63M925.74 214.13L925.74 212.43M925.74 152.93L925.74 154.63M931.95 214.13L931.95 212.43M931.95 152.93L931.95 154.63M938.16 214.13L938.16 212.43M938.16 152.93L938.16 154.63M944.37 214.13L944.37 212.43M944.37 152.93L944.37 154.63M950.58 214.13L950.58 212.43M950.58 152.93L950.58 154.63M956.79 214.13L956.79 212.43M956.79 152.93L956.79 154.63" style="stroke: #000000; stroke-width: 0.6" /><g transform="translate(835.776 240.980)"><text><tspan x="0" y="-0.609" style="font-style: oblique; font-size: 14.4px; font-family:'DejaVu Sans',sans-serif">ℓ</tspan></text></g><path d="M714.6 214.13L718.35 214.13M963 214.13L959.25 214.13" style="stroke: #000000; stroke-width: 0.75" /><text style="font-size: 12.1px; font-family:'DejaVu Sans',sans-serif; text-anchor: end" x="712.95" y="218.725" transform="rotate(-0 712.95 218.725)">0.9</text><path d="M714.6 173.19L718.35 173.19M963 173.19L959.25 173.19" style="stroke: #000000; stroke-width: 0.75" /><text style="font-size: 12.1px; font-family:'DejaVu Sans',sans-serif; text-anchor: end" x="712.95" y="177.788" transform="rotate(-0 712.95 177.788)">1.0</text><path d="M714.6 205.94L716.3 205.94M963 205.94L961.3 205.94M714.6 197.75L716.3 197.75M963 197.75L961.3 197.75M714.6 189.57L716.3 189.57M963 189.57L961.3 189.57M714.6 181.38L716.3 181.38M963 181.38L961.3 181.38M714.6 165L716.3 165M963 165L961.3 165M714.6 156.82L716.3 156.82M963 156.82L961.3 156.82" style="stroke: #000000; stroke-width: 0.6" /><g transform="translate(687.731 211.339) rotate(-90)"><text><tspan x="0" y="-0.887" style="font-style: oblique; font-size: 14.4px; font-family:'DejaVu Sans',sans-serif">D</tspan><tspan x="11.069" y="2.941" style="font-style: oblique; font-size: 10.08px; font-family:'DejaVu Sans',sans-serif">ℓ</tspan><tspan x="12.051" y="-6.246" style="font-style: oblique; font-size: 10.08px; font-family:'DejaVu Sans',sans-serif">EE</tspan><tspan x="19.05" y="-8.605" style="font-size: 10.08px; font-family:'DejaVu Sans',sans-serif">̂</tspan><tspan x="25.149" y="-0.887" style="font-size: 14.4px; font-family:'DejaVu Sans',sans-serif">/</tspan><tspan x="25.408" y="-8.605" style="font-size: 10.08px; font-family:'DejaVu Sans',sans-serif">̂</tspan><tspan x="29.993" y="-0.887" style="font-style: oblique; font-size: 14.4px; font-family:'DejaVu Sans',sans-serif">D</tspan><tspan x="41.062" y="2.941" style="font-style: oblique; font-size: 10.08px; font-family:'DejaVu Sans',sans-serif">ℓ</tspan><tspan x="42.043" y="-6.246" style="font-style: oblique; font-size: 10.08px; font-family:'DejaVu Sans',sans-serif">EE</tspan></text></g><path d="M715.84 173.19L718.33 173.19L720.81 174.52L723.29 174.5L725.78 174.04L728.26 174.15L730.75 173.95L733.23 173.92L735.71 173.95L738.2 173.53L740.68 173.87L743.17 173.76L745.65 173.69L748.13 173.93L750.62 173.67L753.1 173.82L755.59 173.7L758.07 173.9L760.55 173.91L763.04 173.68L765.52 173.77L768.01 173.85L770.49 173.84L772.97 173.89L775.46 174.11L777.94 174.26L780.43 174.26L782.91 174.33L785.39 174.42L787.88 174.32L790.36 174.36L792.85 174.36L795.33 174.39L797.81 174.5L800.3 174.54L802.78 174.59L805.27 174.82L807.75 174.91L810.23 174.96L812.72 175.15L815.2 175.26L817.69 175.33L820.17 175.17L822.65 175.26L825.14 175.31L827.62 175.33L830.11 175.26L832.59 175.01L835.07 175.63L837.56 175.31L840.04 175.65L842.53 176.12L845.01 176.87L847.49 176.67L849.98 176.91L852.46 176.93L854.95 176.6L857.43 176.38L859.91 176.61L862.4 176.94L864.88 177.02L867.37 177.17L869.85 177.29L872.33 177.18L874.82 177.16L877.3 177.53L879.79 178.42L882.27 178.86L884.75 179.67L887.24 180.25L889.72 180.23L892.21 179.72L894.69 179.19L897.17 180.03L899.66 180.23L902.14 180.76L904.63 181.55L907.11 182.1L909.59 182.44L912.08 182.76L914.56 183.51L917.05 184.6L919.53 185.49L922.01 187.41L924.5 189.22L926.98 191.31L929.47 193.06" clip-path="url(#p3696af2811)" style="fill: none; stroke: #d2b48c; stroke-width: 1.7; stroke-linecap: square" /><path d="M714.6 173.19L963 173.19" clip-path="url(#p3696af2811)" style="fill: none; stroke-dasharray: 2.59,1.12; stroke-dashoffset: 0; stroke: #ff0000; stroke-width: 0.7" /><path d="M715.84 222.32L715.84 124.07M718.33 201.85L718.33 144.54M720.81 182.58L720.81 166.45M723.29 181.05L723.29 167.95M725.78 179.77L725.78 168.31M728.26 179.88L728.26 168.42M730.75 179.68L730.75 168.22M733.23 179.65L733.23 168.19M735.71 180.91L735.71 166.99M738.2 180.82L738.2 166.25M740.68 181.48L740.68 166.25M743.17 181.13L743.17 166.39M745.65 178.4L745.65 168.99M748.13 177.41L748.13 170.45M750.62 177.01L750.62 170.32M753.1 177.03L753.1 170.6M755.59 176.78L755.59 170.62M758.07 176.85L758.07 170.95M760.55 176.58L760.55 171.24M763.04 176.07L763.04 171.29M765.52 176.19L765.52 171.36M768.01 176.6L768.01 171.11M770.49 176.91L770.49 170.77M772.97 177.7L772.97 170.09M775.46 178.65L775.46 169.56M777.94 179.31L777.94 169.21M780.43 179.58L780.43 168.94M782.91 179.24L782.91 169.41M785.39 178.93L785.39 169.92M787.88 178.25L787.88 170.39M790.36 177.71L790.36 171M792.85 177.43L792.85 171.29M795.33 177.46L795.33 171.32M797.81 177.57L797.81 171.43M800.3 177.61L800.3 171.47M802.78 177.67L802.78 171.52M805.27 177.89L805.27 171.75M807.75 177.98L807.75 171.84M810.23 178.6L810.23 171.31M812.72 179.37L812.72 170.93M815.2 179.97L815.2 170.55M817.69 180.45L817.69 170.21M820.17 179.98L820.17 170.36M822.65 179.76L822.65 170.76M825.14 179.19L825.14 171.43M827.62 178.58L827.62 172.07M830.11 178.19L830.11 172.34M832.59 177.89L832.59 172.12M835.07 178.47L835.07 172.78M837.56 178.12L837.56 172.51M840.04 178.53L840.04 172.77M842.53 179.2L842.53 173.05M845.01 180.15L845.01 173.6M847.49 180.43L847.49 172.9M849.98 181.17L849.98 172.66M852.46 181.68L852.46 172.18M854.95 181.84L854.95 171.36M857.43 182.11L857.43 170.64M859.91 181.85L859.91 171.37M862.4 181.69L862.4 172.19M864.88 181.35L864.88 172.7M867.37 181.13L867.37 173.2M869.85 180.9L869.85 173.69M872.33 180.82L872.33 173.55M874.82 180.83L874.82 173.49M877.3 181.27L877.3 173.8M879.79 182.25L879.79 174.58M882.27 182.79L882.27 174.93M884.75 184L884.75 175.35M887.24 184.96L887.24 175.53M889.72 185.39L889.72 175.07M892.21 185.37L892.21 174.07M894.69 185.33L894.69 173.05M897.17 186.05L897.17 174M899.66 186.14L899.66 174.32M902.14 186.34L902.14 175.18M904.63 186.59L904.63 176.51M907.11 186.6L907.11 177.59M909.59 187.14L909.59 177.74M912.08 187.65L912.08 177.86M914.56 188.62L914.56 178.4M917.05 189.94L917.05 179.26M919.53 191.06L919.53 179.93M922.01 193.65L922.01 181.17M924.5 196.13L924.5 182.31M926.98 199.19L926.98 183.42M929.47 202.22L929.47 183.89" clip-path="url(#p3696af2811)" style="fill: none; stroke: #d2b48c; stroke-width: 1.35" /><path d="M714.6 214.13L714.6 152.93M963 214.13L963 152.93M714.6 214.13L963 214.13M714.6 152.93L963 152.93" style="fill: none; stroke: #888888; stroke-width: 0.4; stroke-linejoin: miter; stroke-linecap: square" /><path d="M714.6 374.69L963 374.69L963 251.5L714.6 251.5z" style="fill: #ffffff" /><path d="M714.6 374.69L714.6 370.94M714.6 251.5L714.6 255.25M776.7 374.69L776.7 370.94M776.7 251.5L776.7 255.25M838.8 374.69L838.8 370.94M838.8 251.5L838.8 255.25M900.9 374.69L900.9 370.94M900.9 251.5L900.9 255.25M963 374.69L963 370.94M963 251.5L963 255.25" style="stroke: #000000; stroke-width: 0.75" /><path d="M727.02 374.69L727.02 372.99M727.02 251.5L727.02 253.2M739.44 374.69L739.44 372.99M739.44 251.5L739.44 253.2M751.86 374.69L751.86 372.99M751.86 251.5L751.86 253.2M764.28 374.69L764.28 372.99M764.28 251.5L764.28 253.2M789.12 374.69L789.12 372.99M789.12 251.5L789.12 253.2M801.54 374.69L801.54 372.99M801.54 251.5L801.54 253.2M813.96 374.69L813.96 372.99M813.96 251.5L813.96 253.2M826.38 374.69L826.38 372.99M826.38 251.5L826.38 253.2M851.22 374.69L851.22 372.99M851.22 251.5L851.22 253.2M863.64 374.69L863.64 372.99M863.64 251.5L863.64 253.2M876.06 374.69L876.06 372.99M876.06 251.5L876.06 253.2M888.48 374.69L888.48 372.99M888.48 251.5L888.48 253.2M913.32 374.69L913.32 372.99M913.32 251.5L913.32 253.2M925.74 374.69L925.74 372.99M925.74 251.5L925.74 253.2M938.16 374.69L938.16 372.99M938.16 251.5L938.16 253.2M950.58 374.69L950.58 372.99M950.58 251.5L950.58 253.2" style="stroke: #000000; stroke-width: 0.6" /><path d="M714.6 372.67L718.35 372.67M963 372.67L959.25 372.67" style="stroke: #000000; stroke-width: 0.75" /><g transform="translate(684.515 377.267)"><text><tspan x="0" y="-0.281" style="font-size: 12.1px; font-family:'DejaVu Sans',sans-serif">10</tspan><tspan x="15.543" y="-4.875" style="font-size: 8.47px; font-family:'DejaVu Sans',sans-serif">−4</tspan></text></g><path d="M714.6 312.08L718.35 312.08M963 312.08L959.25 312.08" style="stroke: #000000; stroke-width: 0.75" /><g transform="translate(684.515 316.680)"><text><tspan x="0" y="-0.172" style="font-size: 12.1px; font-family:'DejaVu Sans',sans-serif">10</tspan><tspan x="15.543" y="-4.766" style="font-size: 8.47px; font-family:'DejaVu Sans',sans-serif">−3</tspan></text></g><path d="M714.6 251.5L718.35 251.5M963 251.5L959.25 251.5" style="stroke: #000000; stroke-width: 0.75" /><g transform="translate(684.515 256.093)"><text><tspan x="0" y="-0.172" style="font-size: 12.1px; font-family:'DejaVu Sans',sans-serif">10</tspan><tspan x="15.543" y="-4.766" style="font-size: 8.47px; font-family:'DejaVu Sans',sans-serif">−2</tspan></text></g><path d="M714.6 354.43L716.3 354.43M963 354.43L961.3 354.43M714.6 343.76L716.3 343.76M963 343.76L961.3 343.76M714.6 336.19L716.3 336.19M963 336.19L961.3 336.19M714.6 330.32L716.3 330.32M963 330.32L961.3 330.32M714.6 325.52L716.3 325.52M963 325.52L961.3 325.52M714.6 321.47L716.3 321.47M963 321.47L961.3 321.47M714.6 317.95L716.3 317.95M963 317.95L961.3 317.95M714.6 314.86L716.3 314.86M963 314.86L961.3 314.86M714.6 293.84L716.3 293.84M963 293.84L961.3 293.84M714.6 283.18L716.3 283.18M963 283.18L961.3 283.18M714.6 275.61L716.3 275.61M963 275.61L961.3 275.61M714.6 269.73L716.3 269.73M963 269.73L961.3 269.73M714.6 264.94L716.3 264.94M963 264.94L961.3 264.94M714.6 260.88L716.3 260.88M963 260.88L961.3 260.88M714.6 257.37L716.3 257.37M963 257.37L961.3 257.37M714.6 254.27L716.3 254.27M963 254.27L961.3 254.27" style="stroke: #000000; stroke-width: 0.6" /><g transform="translate(678.539 326.391) rotate(-90)"><text><tspan x="0" y="-0.498" style="font-style: oblique; font-size: 14.4px; font-family:'DejaVu Sans',sans-serif">D</tspan><tspan x="11.069" y="3.33" style="font-style: oblique; font-size: 10.08px; font-family:'DejaVu Sans',sans-serif">ℓ</tspan><tspan x="12.051" y="-5.858" style="font-style: oblique; font-size: 10.08px; font-family:'DejaVu Sans',sans-serif">BB</tspan></text></g><path d="M720.81 346.54L733.23 312.48L745.65 292.44L758.07 284.34L770.49 281.73L782.91 284.25L795.33 289.83L807.75 298.91L820.17 310.55L832.59 320.91L845.01 325.52L857.43 324.45L869.85 321.21L882.27 321.58L894.69 322.86L907.11 324.66L919.53 325.97L931.95 327.13L944.37 326.96L956.79 326.03L969.21 325.04L981.63 324.24" clip-path="url(#p1cc8ac85f8)" style="fill: none; stroke-dasharray: 6.29,2.72; stroke-dashoffset: 0; stroke: #00bfbf; stroke-width: 1.7" /><path d="M720.81 346.54L733.23 312.61L745.65 292.7L758.07 284.61L770.49 282.26L782.91 285.6L795.33 292.6L807.75 303.81L820.17 317.6L832.59 330.3L845.01 337.68L857.43 339.33L869.85 337.27L882.27 339.14L894.69 339.51L907.11 341.02L919.53 340.85L931.95 340.57L944.37 341.11L956.79 339.91L969.21 339.83L981.63 339.03" clip-path="url(#p1cc8ac85f8)" style="fill: none; stroke-dasharray: 1.8,2.61; stroke-dashoffset: 0; stroke: #9400d3; stroke-width: 1.8" /><path d="M720.81 345.58L733.23 310.65L745.65 290.4L758.07 282.65L770.49 280.59L782.91 284.25L795.33 290.17L807.75 295.33L820.17 299.23L832.59 299.23L845.01 296.76L857.43 294.24L869.85 290.63L882.27 288.72L894.69 285.37L907.11 283.53L919.53 281.48L931.95 279.42L944.37 277.8L956.79 275.61L969.21 274.32L981.63 272.8" clip-path="url(#p1cc8ac85f8)" style="fill: none; stroke: #d2b48c; stroke-opacity: 0.7; stroke-width: 1.7; stroke-linecap: square" /><g clip-path="url(#p1cc8ac85f8)"><path d="M720.81 347.23C721.25 347.23 721.67 347.05 721.98 346.75C722.29 346.44 722.46 346.02 722.46 345.58C722.46 345.14 722.29 344.72 721.98 344.41C721.67 344.1 721.25 343.93 720.81 343.93C720.37 343.93 719.95 344.1 719.64 344.41C719.33 344.72 719.16 345.14 719.16 345.58C719.16 346.02 719.33 346.44 719.64 346.75C719.95 347.05 720.37 347.23 720.81 347.23z" style="fill: #d2b48c; fill-opacity: 0.7" /><path d="M733.23 312.3C733.67 312.3 734.09 312.13 734.4 311.82C734.71 311.51 734.88 311.09 734.88 310.65C734.88 310.21 734.71 309.79 734.4 309.48C734.09 309.17 733.67 309 733.23 309C732.79 309 732.37 309.17 732.06 309.48C731.75 309.79 731.58 310.21 731.58 310.65C731.58 311.09 731.75 311.51 732.06 311.82C732.37 312.13 732.79 312.3 733.23 312.3z" style="fill: #d2b48c; fill-opacity: 0.7" /><path d="M745.65 292.05C746.09 292.05 746.51 291.87 746.82 291.56C747.13 291.25 747.3 290.83 747.3 290.4C747.3 289.96 747.13 289.54 746.82 289.23C746.51 288.92 746.09 288.75 745.65 288.75C745.21 288.75 744.79 288.92 744.48 289.23C744.17 289.54 744 289.96 744 290.4C744 290.83 744.17 291.25 744.48 291.56C744.79 291.87 745.21 292.05 745.65 292.05z" style="fill: #d2b48c; fill-opacity: 0.7" /><path d="M758.07 284.3C758.51 284.3 758.93 284.13 759.24 283.82C759.55 283.51 759.72 283.09 759.72 282.65C759.72 282.22 759.55 281.8 759.24 281.49C758.93 281.18 758.51 281 758.07 281C757.63 281 757.21 281.18 756.9 281.49C756.59 281.8 756.42 282.22 756.42 282.65C756.42 283.09 756.59 283.51 756.9 283.82C757.21 284.13 757.63 284.3 758.07 284.3z" style="fill: #d2b48c; fill-opacity: 0.7" /><path d="M770.49 282.24C770.93 282.24 771.35 282.06 771.66 281.76C771.97 281.45 772.14 281.03 772.14 280.59C772.14 280.15 771.97 279.73 771.66 279.42C771.35 279.11 770.93 278.94 770.49 278.94C770.05 278.94 769.63 279.11 769.32 279.42C769.01 279.73 768.84 280.15 768.84 280.59C768.84 281.03 769.01 281.45 769.32 281.76C769.63 282.06 770.05 282.24 770.49 282.24z" style="fill: #d2b48c; fill-opacity: 0.7" /><path d="M782.91 285.9C783.35 285.9 783.77 285.73 784.08 285.42C784.39 285.11 784.56 284.69 784.56 284.25C784.56 283.81 784.39 283.39 784.08 283.08C783.77 282.77 783.35 282.6 782.91 282.6C782.47 282.6 782.05 282.77 781.74 283.08C781.43 283.39 781.26 283.81 781.26 284.25C781.26 284.69 781.43 285.11 781.74 285.42C782.05 285.73 782.47 285.9 782.91 285.9z" style="fill: #d2b48c; fill-opacity: 0.7" /><path d="M795.33 291.82C795.77 291.82 796.19 291.64 796.5 291.33C796.81 291.02 796.98 290.6 796.98 290.17C796.98 289.73 796.81 289.31 796.5 289C796.19 288.69 795.77 288.52 795.33 288.52C794.89 288.52 794.47 288.69 794.16 289C793.85 289.31 793.68 289.73 793.68 290.17C793.68 290.6 793.85 291.02 794.16 291.33C794.47 291.64 794.89 291.82 795.33 291.82z" style="fill: #d2b48c; fill-opacity: 0.7" /><path d="M807.75 296.98C808.19 296.98 808.61 296.81 808.92 296.5C809.23 296.19 809.4 295.77 809.4 295.33C809.4 294.9 809.23 294.48 808.92 294.17C808.61 293.86 808.19 293.68 807.75 293.68C807.31 293.68 806.89 293.86 806.58 294.17C806.27 294.48 806.1 294.9 806.1 295.33C806.1 295.77 806.27 296.19 806.58 296.5C806.89 296.81 807.31 296.98 807.75 296.98z" style="fill: #d2b48c; fill-opacity: 0.7" /><path d="M820.17 300.88C820.61 300.88 821.03 300.7 821.34 300.39C821.65 300.08 821.82 299.66 821.82 299.23C821.82 298.79 821.65 298.37 821.34 298.06C821.03 297.75 820.61 297.58 820.17 297.58C819.73 297.58 819.31 297.75 819 298.06C818.69 298.37 818.52 298.79 818.52 299.23C818.52 299.66 818.69 300.08 819 300.39C819.31 300.7 819.73 300.88 820.17 300.88z" style="fill: #d2b48c; fill-opacity: 0.7" /><path d="M832.59 300.88C833.03 300.88 833.45 300.7 833.76 300.39C834.07 300.08 834.24 299.66 834.24 299.23C834.24 298.79 834.07 298.37 833.76 298.06C833.45 297.75 833.03 297.58 832.59 297.58C832.15 297.58 831.73 297.75 831.42 298.06C831.11 298.37 830.94 298.79 830.94 299.23C830.94 299.66 831.11 300.08 831.42 300.39C831.73 300.7 832.15 300.88 832.59 300.88z" style="fill: #d2b48c; fill-opacity: 0.7" /><path d="M845.01 298.41C845.45 298.41 845.87 298.24 846.18 297.93C846.49 297.62 846.66 297.2 846.66 296.76C846.66 296.33 846.49 295.91 846.18 295.6C845.87 295.29 845.45 295.11 845.01 295.11C844.57 295.11 844.15 295.29 843.84 295.6C843.53 295.91 843.36 296.33 843.36 296.76C843.36 297.2 843.53 297.62 843.84 297.93C844.15 298.24 844.57 298.41 845.01 298.41z" style="fill: #d2b48c; fill-opacity: 0.7" /><path d="M857.43 295.89C857.87 295.89 858.29 295.72 858.6 295.41C858.91 295.1 859.08 294.68 859.08 294.24C859.08 293.8 858.91 293.39 858.6 293.08C858.29 292.77 857.87 292.59 857.43 292.59C856.99 292.59 856.57 292.77 856.26 293.08C855.95 293.39 855.78 293.8 855.78 294.24C855.78 294.68 855.95 295.1 856.26 295.41C856.57 295.72 856.99 295.89 857.43 295.89z" style="fill: #d2b48c; fill-opacity: 0.7" /><path d="M869.85 292.28C870.29 292.28 870.71 292.1 871.02 291.8C871.33 291.49 871.5 291.07 871.5 290.63C871.5 290.19 871.33 289.77 871.02 289.46C870.71 289.15 870.29 288.98 869.85 288.98C869.41 288.98 868.99 289.15 868.68 289.46C868.37 289.77 868.2 290.19 868.2 290.63C868.2 291.07 868.37 291.49 868.68 291.8C868.99 292.1 869.41 292.28 869.85 292.28z" style="fill: #d2b48c; fill-opacity: 0.7" /><path d="M882.27 290.37C882.71 290.37 883.13 290.2 883.44 289.89C883.75 289.58 883.92 289.16 883.92 288.72C883.92 288.28 883.75 287.86 883.44 287.55C883.13 287.24 882.71 287.07 882.27 287.07C881.83 287.07 881.41 287.24 881.1 287.55C880.79 287.86 880.62 288.28 880.62 288.72C880.62 289.16 880.79 289.58 881.1 289.89C881.41 290.2 881.83 290.37 882.27 290.37z" style="fill: #d2b48c; fill-opacity: 0.7" /><path d="M894.69 287.02C895.13 287.02 895.55 286.85 895.86 286.54C896.17 286.23 896.34 285.81 896.34 285.37C896.34 284.93 896.17 284.51 895.86 284.2C895.55 283.89 895.13 283.72 894.69 283.72C894.25 283.72 893.83 283.89 893.52 284.2C893.21 284.51 893.04 284.93 893.04 285.37C893.04 285.81 893.21 286.23 893.52 286.54C893.83 286.85 894.25 287.02 894.69 287.02z" style="fill: #d2b48c; fill-opacity: 0.7" /><path d="M907.11 285.18C907.55 285.18 907.97 285.01 908.28 284.7C908.59 284.39 908.76 283.97 908.76 283.53C908.76 283.09 908.59 282.67 908.28 282.36C907.97 282.05 907.55 281.88 907.11 281.88C906.67 281.88 906.25 282.05 905.94 282.36C905.63 282.67 905.46 283.09 905.46 283.53C905.46 283.97 905.63 284.39 905.94 284.7C906.25 285.01 906.67 285.18 907.11 285.18z" style="fill: #d2b48c; fill-opacity: 0.7" /><path d="M919.53 283.13C919.97 283.13 920.39 282.95 920.7 282.64C921.01 282.33 921.18 281.92 921.18 281.48C921.18 281.04 921.01 280.62 920.7 280.31C920.39 280 919.97 279.83 919.53 279.83C919.09 279.83 918.67 280 918.36 280.31C918.05 280.62 917.88 281.04 917.88 281.48C917.88 281.92 918.05 282.33 918.36 282.64C918.67 282.95 919.09 283.13 919.53 283.13z" style="fill: #d2b48c; fill-opacity: 0.7" /><path d="M931.95 281.07C932.39 281.07 932.81 280.9 933.12 280.59C933.43 280.28 933.6 279.86 933.6 279.42C933.6 278.98 933.43 278.56 933.12 278.26C932.81 277.95 932.39 277.77 931.95 277.77C931.51 277.77 931.09 277.95 930.78 278.26C930.47 278.56 930.3 278.98 930.3 279.42C930.3 279.86 930.47 280.28 930.78 280.59C931.09 280.9 931.51 281.07 931.95 281.07z" style="fill: #d2b48c; fill-opacity: 0.7" /><path d="M944.37 279.45C944.81 279.45 945.23 279.28 945.54 278.97C945.85 278.66 946.02 278.24 946.02 277.8C946.02 277.36 945.85 276.94 945.54 276.63C945.23 276.32 944.81 276.15 944.37 276.15C943.93 276.15 943.51 276.32 943.2 276.63C942.89 276.94 942.72 277.36 942.72 277.8C942.72 278.24 942.89 278.66 943.2 278.97C943.51 279.28 943.93 279.45 944.37 279.45z" style="fill: #d2b48c; fill-opacity: 0.7" /><path d="M956.79 277.26C957.23 277.26 957.65 277.08 957.96 276.77C958.27 276.46 958.44 276.04 958.44 275.61C958.44 275.17 958.27 274.75 957.96 274.44C957.65 274.13 957.23 273.96 956.79 273.96C956.35 273.96 955.93 274.13 955.62 274.44C955.31 274.75 955.14 275.17 955.14 275.61C955.14 276.04 955.31 276.46 955.62 276.77C955.93 277.08 956.35 277.26 956.79 277.26z" style="fill: #d2b48c; fill-opacity: 0.7" /><path d="M969.21 275.97C969.65 275.97 970.07 275.8 970.38 275.49C970.69 275.18 970.86 274.76 970.86 274.32C970.86 273.88 970.69 273.46 970.38 273.16C970.07 272.85 969.65 272.67 969.21 272.67C968.77 272.67 968.35 272.85 968.04 273.16C967.73 273.46 967.56 273.88 967.56 274.32C967.56 274.76 967.73 275.18 968.04 275.49C968.35 275.8 968.77 275.97 969.21 275.97z" style="fill: #d2b48c; fill-opacity: 0.7" /><path d="M981.63 274.45C982.07 274.45 982.49 274.28 982.8 273.97C983.11 273.66 983.28 273.24 983.28 272.8C983.28 272.36 983.11 271.94 982.8 271.63C982.49 271.32 982.07 271.15 981.63 271.15C981.19 271.15 980.77 271.32 980.46 271.63C980.15 271.94 979.98 272.36 979.98 272.8C979.98 273.24 980.15 273.66 980.46 273.97C980.77 274.28 981.19 274.45 981.63 274.45z" style="fill: #d2b48c; fill-opacity: 0.7" /></g><path d="M714.6 374.69L714.6 251.5M963 374.69L963 251.5M714.6 374.69L963 374.69M714.6 251.5L963 251.5" style="fill: none; stroke: #888888; stroke-width: 0.4; stroke-linejoin: miter; stroke-linecap: square" /><path d="M890.75 332.25L953.75 332.25Q956.25 332.25 956.25 329.75L956.25 260.75Q956.25 258.25 953.75 258.25L890.75 258.25Q888.25 258.25 888.25 260.75L888.25 329.75Q888.25 332.25 890.75 332.25z" style="fill: #ffffff; opacity: 0.8; stroke: #cccccc; stroke-width: 0.4; stroke-linejoin: miter" /><path d="M893.56 270.43L905.81 270.43L918.06 270.43" style="fill: none; stroke-dasharray: 6.29,2.72; stroke-dashoffset: 0; stroke: #00bfbf; stroke-width: 1.7" /><g transform="translate(928.062 274.808)"><text><tspan x="0" y="-0.384" style="font-style: oblique; font-size: 12.5px; font-family:'DejaVu Sans',sans-serif">D</tspan><tspan x="9.625" y="3.17" style="font-style: oblique; font-size: 8.75px; font-family:'DejaVu Sans',sans-serif">ℓ</tspan><tspan x="10.538" y="-5.361" style="font-size: 8.75px; font-family:'DejaVu Sans',sans-serif">BB</tspan></text></g><path d="M893.56 294.68L905.81 294.68L918.06 294.68" style="fill: none; stroke-dasharray: 1.8,2.61; stroke-dashoffset: 0; stroke: #9400d3; stroke-width: 1.8" /><g transform="translate(928.062 299.058)"><text><tspan x="0" y="-0.114" style="font-style: oblique; font-size: 12.5px; font-family:'DejaVu Sans',sans-serif">D</tspan><tspan x="9.625" y="3.441" style="font-style: oblique; font-size: 8.75px; font-family:'DejaVu Sans',sans-serif">ℓ</tspan><tspan x="10.538" y="-5.091" style="font-size: 8.75px; font-family:'DejaVu Sans',sans-serif">B</tspan><tspan x="15.646" y="-6.627" style="font-size: 8.75px; font-family:'DejaVu Sans',sans-serif">̂</tspan><tspan x="16.541" y="-5.091" style="font-size: 8.75px; font-family:'DejaVu Sans',sans-serif">B</tspan></text></g><path d="M893.56 318.93L905.81 318.93L918.06 318.93" style="fill: none; stroke: #d2b48c; stroke-opacity: 0.7; stroke-width: 1.7; stroke-linecap: square" /><g transform="translate(928.062 323.308)"><text><tspan x="0" y="-0.114" style="font-style: oblique; font-size: 12.5px; font-family:'DejaVu Sans',sans-serif">D</tspan><tspan x="9.625" y="3.441" style="font-style: oblique; font-size: 8.75px; font-family:'DejaVu Sans',sans-serif">ℓ</tspan><tspan x="10.538" y="-5.091" style="font-size: 8.75px; font-family:'DejaVu Sans',sans-serif">B</tspan><tspan x="15.646" y="-6.627" style="font-size: 8.75px; font-family:'DejaVu Sans',sans-serif">̂</tspan><tspan x="16.541" y="-5.091" style="font-size: 8.75px; font-family:'DejaVu Sans',sans-serif">B</tspan><tspan x="21.649" y="-6.627" style="font-size: 8.75px; font-family:'DejaVu Sans',sans-serif">̂</tspan></text></g><path d="M714.6 436.39L963 436.39L963 374.69L714.6 374.69z" style="fill: #ffffff" /><path d="M714.6 436.39L714.6 432.64M714.6 374.69L714.6 378.44" style="stroke: #000000; stroke-width: 0.75" /><text style="font-size: 12.1px; font-family:'DejaVu Sans',sans-serif; text-anchor: middle" x="714.6" y="447.336" transform="rotate(-0 714.6 447.336)">0</text><path d="M776.7 436.39L776.7 432.64M776.7 374.69L776.7 378.44" style="stroke: #000000; stroke-width: 0.75" /><text style="font-size: 12.1px; font-family:'DejaVu Sans',sans-serif; text-anchor: middle" x="776.7" y="447.336" transform="rotate(-0 776.7 447.336)">100</text><path d="M838.8 436.39L838.8 432.64M838.8 374.69L838.8 378.44" style="stroke: #000000; stroke-width: 0.75" /><text style="font-size: 12.1px; font-family:'DejaVu Sans',sans-serif; text-anchor: middle" x="838.8" y="447.336" transform="rotate(-0 838.8 447.336)">200</text><path d="M900.9 436.39L900.9 432.64M900.9 374.69L900.9 378.44" style="stroke: #000000; stroke-width: 0.75" /><text style="font-size: 12.1px; font-family:'DejaVu Sans',sans-serif; text-anchor: middle" x="900.9" y="447.336" transform="rotate(-0 900.9 447.336)">300</text><path d="M963 436.39L963 432.64M963 374.69L963 378.44" style="stroke: #000000; stroke-width: 0.75" /><text style="font-size: 12.1px; font-family:'DejaVu Sans',sans-serif; text-anchor: middle" x="963" y="447.336" transform="rotate(-0 963 447.336)">400</text><path d="M727.02 436.39L727.02 434.69M727.02 374.69L727.02 376.39M739.44 436.39L739.44 434.69M739.44 374.69L739.44 376.39M751.86 436.39L751.86 434.69M751.86 374.69L751.86 376.39M764.28 436.39L764.28 434.69M764.28 374.69L764.28 376.39M789.12 436.39L789.12 434.69M789.12 374.69L789.12 376.39M801.54 436.39L801.54 434.69M801.54 374.69L801.54 376.39M813.96 436.39L813.96 434.69M813.96 374.69L813.96 376.39M826.38 436.39L826.38 434.69M826.38 374.69L826.38 376.39M851.22 436.39L851.22 434.69M851.22 374.69L851.22 376.39M863.64 436.39L863.64 434.69M863.64 374.69L863.64 376.39M876.06 436.39L876.06 434.69M876.06 374.69L876.06 376.39M888.48 436.39L888.48 434.69M888.48 374.69L888.48 376.39M913.32 436.39L913.32 434.69M913.32 374.69L913.32 376.39M925.74 436.39L925.74 434.69M925.74 374.69L925.74 376.39M938.16 436.39L938.16 434.69M938.16 374.69L938.16 376.39M950.58 436.39L950.58 434.69M950.58 374.69L950.58 376.39" style="stroke: #000000; stroke-width: 0.6" /><g transform="translate(835.776 463.244)"><text><tspan x="0" y="-0.609" style="font-style: oblique; font-size: 14.4px; font-family:'DejaVu Sans',sans-serif">ℓ</tspan></text></g><path d="M714.6 436.39L718.35 436.39M963 436.39L959.25 436.39" style="stroke: #000000; stroke-width: 0.75" /><text style="font-size: 12.1px; font-family:'DejaVu Sans',sans-serif; text-anchor: end" x="712.95" y="440.989" transform="rotate(-0 712.95 440.989)">0.0</text><path d="M714.6 418.24L718.35 418.24M963 418.24L959.25 418.24" style="stroke: #000000; stroke-width: 0.75" /><text style="font-size: 12.1px; font-family:'DejaVu Sans',sans-serif; text-anchor: end" x="712.95" y="422.840" transform="rotate(-0 712.95 422.840)">0.5</text><path d="M714.6 400.1L718.35 400.1M963 400.1L959.25 400.1" style="stroke: #000000; stroke-width: 0.75" /><text style="font-size: 12.1px; font-family:'DejaVu Sans',sans-serif; text-anchor: end" x="712.95" y="404.692" transform="rotate(-0 712.95 404.692)">1.0</text><path d="M714.6 381.95L718.35 381.95M963 381.95L959.25 381.95" style="stroke: #000000; stroke-width: 0.75" /><text style="font-size: 12.1px; font-family:'DejaVu Sans',sans-serif; text-anchor: end" x="712.95" y="386.544" transform="rotate(-0 712.95 386.544)">1.5</text><path d="M714.6 432.76L716.3 432.76M963 432.76L961.3 432.76M714.6 429.13L716.3 429.13M963 429.13L961.3 429.13M714.6 425.5L716.3 425.5M963 425.5L961.3 425.5M714.6 421.87L716.3 421.87M963 421.87L961.3 421.87M714.6 414.61L716.3 414.61M963 414.61L961.3 414.61M714.6 410.98L716.3 410.98M963 410.98L961.3 410.98M714.6 407.35L716.3 407.35M963 407.35L961.3 407.35M714.6 403.73L716.3 403.73M963 403.73L961.3 403.73M714.6 396.47L716.3 396.47M963 396.47L961.3 396.47M714.6 392.84L716.3 392.84M963 392.84L961.3 392.84M714.6 389.21L716.3 389.21M963 389.21L961.3 389.21M714.6 385.58L716.3 385.58M963 385.58L961.3 385.58M714.6 378.32L716.3 378.32M963 378.32L961.3 378.32M714.6 374.69L716.3 374.69M963 374.69L961.3 374.69" style="stroke: #000000; stroke-width: 0.6" /><g transform="translate(687.731 434.432) rotate(-90)"><text><tspan x="0" y="-0.887" style="font-style: oblique; font-size: 14.4px; font-family:'DejaVu Sans',sans-serif">D</tspan><tspan x="11.069" y="2.941" style="font-style: oblique; font-size: 10.08px; font-family:'DejaVu Sans',sans-serif">ℓ</tspan><tspan x="12.051" y="-6.246" style="font-style: oblique; font-size: 10.08px; font-family:'DejaVu Sans',sans-serif">BB</tspan><tspan x="19.186" y="-8.605" style="font-size: 10.08px; font-family:'DejaVu Sans',sans-serif">̂</tspan><tspan x="26.089" y="-8.605" style="font-size: 10.08px; font-family:'DejaVu Sans',sans-serif">̂</tspan><tspan x="26.24" y="-0.887" style="font-size: 14.4px; font-family:'DejaVu Sans',sans-serif">/</tspan><tspan x="31.083" y="-0.887" style="font-style: oblique; font-size: 14.4px; font-family:'DejaVu Sans',sans-serif">D</tspan><tspan x="42.152" y="2.941" style="font-style: oblique; font-size: 10.08px; font-family:'DejaVu Sans',sans-serif">ℓ</tspan><tspan x="43.134" y="-6.246" style="font-style: oblique; font-size: 10.08px; font-family:'DejaVu Sans',sans-serif">BB</tspan></text></g><path d="M720.81 400.1L733.23 400.28L745.65 400.46L758.07 400.46L770.49 400.82L782.91 401.91L795.33 403.73L807.75 406.27L820.17 408.63L832.59 410.98L845.01 413.53L857.43 415.78L869.85 416.68L882.27 417.77L894.69 417.12L907.11 416.9L919.53 415.78L931.95 414.61L944.37 415.19L956.79 414.98L969.21 415.7L981.63 415.7" clip-path="url(#pa7e80b2240)" style="fill: none; stroke: #9400d3; stroke-width: 1.7; stroke-linecap: square" /><path d="M720.81 399.19L733.23 398.21L745.65 397.08L758.07 397.3L770.49 398.75L782.91 400.1L795.33 400.64L807.75 394.51L820.17 381.04L832.59 352.91L845.01 327.5" clip-path="url(#pa7e80b2240)" style="fill: none; stroke: #d2b48c; stroke-width: 1.7; stroke-linecap: square" /><path d="M714.6 400.1L963 400.1" clip-path="url(#pa7e80b2240)" style="fill: none; stroke-dasharray: 2.59,1.12; stroke-dashoffset: 0; stroke: #ff0000; stroke-width: 0.7" /><path d="M720.81 409.28L720.81 389.1M733.23 409.24L733.23 387.17M745.65 403.8L745.65 390.37M758.07 404.56L758.07 390.04M770.49 405.65L770.49 391.86M782.91 408.26L782.91 391.93M795.33 410.15L795.33 391.13M807.75 405.98L807.75 383.04M820.17 396.65L820.17 365.43M832.59 378.32L832.59 327.5M845.01 363.8L845.01 291.21" clip-path="url(#pa7e80b2240)" style="fill: none; stroke: #d2b48c; stroke-width: 1.35" /><g clip-path="url(#pa7e80b2240)"><path d="M722.41 409.28L719.21 409.28" style="fill: #1f77b4; stroke: #d2b48c; stroke-width: 1.35" /><path d="M734.83 409.24L731.63 409.24" style="fill: #1f77b4; stroke: #d2b48c; stroke-width: 1.35" /><path d="M747.25 403.8L744.05 403.8" style="fill: #1f77b4; stroke: #d2b48c; stroke-width: 1.35" /><path d="M759.67 404.56L756.47 404.56" style="fill: #1f77b4; stroke: #d2b48c; stroke-width: 1.35" /><path d="M772.09 405.65L768.89 405.65" style="fill: #1f77b4; stroke: #d2b48c; stroke-width: 1.35" /><path d="M784.51 408.26L781.31 408.26" style="fill: #1f77b4; stroke: #d2b48c; stroke-width: 1.35" /><path d="M796.93 410.15L793.73 410.15" style="fill: #1f77b4; stroke: #d2b48c; stroke-width: 1.35" /><path d="M809.35 405.98L806.15 405.98" style="fill: #1f77b4; stroke: #d2b48c; stroke-width: 1.35" /><path d="M821.77 396.65L818.57 396.65" style="fill: #1f77b4; stroke: #d2b48c; stroke-width: 1.35" /><path d="M834.19 378.32L830.99 378.32" style="fill: #1f77b4; stroke: #d2b48c; stroke-width: 1.35" /><path d="M846.61 363.8L843.41 363.8" style="fill: #1f77b4; stroke: #d2b48c; stroke-width: 1.35" /></g><g clip-path="url(#pa7e80b2240)"><path d="M722.41 389.1L719.21 389.1" style="fill: #1f77b4; stroke: #d2b48c; stroke-width: 1.35" /><path d="M734.83 387.17L731.63 387.17" style="fill: #1f77b4; stroke: #d2b48c; stroke-width: 1.35" /><path d="M747.25 390.37L744.05 390.37" style="fill: #1f77b4; stroke: #d2b48c; stroke-width: 1.35" /><path d="M759.67 390.04L756.47 390.04" style="fill: #1f77b4; stroke: #d2b48c; stroke-width: 1.35" /><path d="M772.09 391.86L768.89 391.86" style="fill: #1f77b4; stroke: #d2b48c; stroke-width: 1.35" /><path d="M784.51 391.93L781.31 391.93" style="fill: #1f77b4; stroke: #d2b48c; stroke-width: 1.35" /><path d="M796.93 391.13L793.73 391.13" style="fill: #1f77b4; stroke: #d2b48c; stroke-width: 1.35" /><path d="M809.35 383.04L806.15 383.04" style="fill: #1f77b4; stroke: #d2b48c; stroke-width: 1.35" /><path d="M821.77 365.43L818.57 365.43" style="fill: #1f77b4; stroke: #d2b48c; stroke-width: 1.35" /><path d="M834.19 327.5L830.99 327.5" style="fill: #1f77b4; stroke: #d2b48c; stroke-width: 1.35" /><path d="M846.61 291.21L843.41 291.21" style="fill: #1f77b4; stroke: #d2b48c; stroke-width: 1.35" /></g><g clip-path="url(#pa7e80b2240)"><path d="M720.81 400.54C721.17 400.54 721.51 400.4 721.76 400.14C722.02 399.89 722.16 399.55 722.16 399.19C722.16 398.83 722.02 398.49 721.76 398.23C721.51 397.98 721.17 397.84 720.81 397.84C720.45 397.84 720.11 397.98 719.86 398.23C719.6 398.49 719.46 398.83 719.46 399.19C719.46 399.55 719.6 399.89 719.86 400.14C720.11 400.4 720.45 400.54 720.81 400.54z" style="fill: #d2b48c" /><path d="M733.23 399.56C733.59 399.56 733.93 399.42 734.18 399.16C734.44 398.91 734.58 398.57 734.58 398.21C734.58 397.85 734.44 397.51 734.18 397.25C733.93 397 733.59 396.86 733.23 396.86C732.87 396.86 732.53 397 732.28 397.25C732.02 397.51 731.88 397.85 731.88 398.21C731.88 398.57 732.02 398.91 732.28 399.16C732.53 399.42 732.87 399.56 733.23 399.56z" style="fill: #d2b48c" /><path d="M745.65 398.43C746.01 398.43 746.35 398.29 746.6 398.04C746.86 397.78 747 397.44 747 397.08C747 396.72 746.86 396.38 746.6 396.13C746.35 395.88 746.01 395.73 745.65 395.73C745.29 395.73 744.95 395.88 744.7 396.13C744.44 396.38 744.3 396.72 744.3 397.08C744.3 397.44 744.44 397.78 744.7 398.04C744.95 398.29 745.29 398.43 745.65 398.43z" style="fill: #d2b48c" /><path d="M758.07 398.65C758.43 398.65 758.77 398.51 759.02 398.26C759.28 398 759.42 397.66 759.42 397.3C759.42 396.94 759.28 396.6 759.02 396.35C758.77 396.09 758.43 395.95 758.07 395.95C757.71 395.95 757.37 396.09 757.12 396.35C756.86 396.6 756.72 396.94 756.72 397.3C756.72 397.66 756.86 398 757.12 398.26C757.37 398.51 757.71 398.65 758.07 398.65z" style="fill: #d2b48c" /><path d="M770.49 400.1C770.85 400.1 771.19 399.96 771.44 399.71C771.7 399.45 771.84 399.11 771.84 398.75C771.84 398.39 771.7 398.05 771.44 397.8C771.19 397.54 770.85 397.4 770.49 397.4C770.13 397.4 769.79 397.54 769.54 397.8C769.28 398.05 769.14 398.39 769.14 398.75C769.14 399.11 769.28 399.45 769.54 399.71C769.79 399.96 770.13 400.1 770.49 400.1z" style="fill: #d2b48c" /><path d="M782.91 401.45C783.27 401.45 783.61 401.3 783.86 401.05C784.12 400.8 784.26 400.45 784.26 400.1C784.26 399.74 784.12 399.39 783.86 399.14C783.61 398.89 783.27 398.75 782.91 398.75C782.55 398.75 782.21 398.89 781.96 399.14C781.7 399.39 781.56 399.74 781.56 400.1C781.56 400.45 781.7 400.8 781.96 401.05C782.21 401.3 782.55 401.45 782.91 401.45z" style="fill: #d2b48c" /><path d="M795.33 401.99C795.69 401.99 796.03 401.85 796.28 401.59C796.54 401.34 796.68 401 796.68 400.64C796.68 400.28 796.54 399.94 796.28 399.69C796.03 399.43 795.69 399.29 795.33 399.29C794.97 399.29 794.63 399.43 794.38 399.69C794.12 399.94 793.98 400.28 793.98 400.64C793.98 401 794.12 401.34 794.38 401.59C794.63 401.85 794.97 401.99 795.33 401.99z" style="fill: #d2b48c" /><path d="M807.75 395.86C808.11 395.86 808.45 395.71 808.7 395.46C808.96 395.21 809.1 394.86 809.1 394.51C809.1 394.15 808.96 393.8 808.7 393.55C808.45 393.3 808.11 393.16 807.75 393.16C807.39 393.16 807.05 393.3 806.8 393.55C806.54 393.8 806.4 394.15 806.4 394.51C806.4 394.86 806.54 395.21 806.8 395.46C807.05 395.71 807.39 395.86 807.75 395.86z" style="fill: #d2b48c" /><path d="M820.17 382.39C820.53 382.39 820.87 382.25 821.12 381.99C821.38 381.74 821.52 381.4 821.52 381.04C821.52 380.68 821.38 380.34 821.12 380.09C820.87 379.83 820.53 379.69 820.17 379.69C819.81 379.69 819.47 379.83 819.22 380.09C818.96 380.34 818.82 380.68 818.82 381.04C818.82 381.4 818.96 381.74 819.22 381.99C819.47 382.25 819.81 382.39 820.17 382.39z" style="fill: #d2b48c" /><path d="M832.59 354.26C832.95 354.26 833.29 354.12 833.54 353.86C833.8 353.61 833.94 353.27 833.94 352.91C833.94 352.55 833.8 352.21 833.54 351.96C833.29 351.7 832.95 351.56 832.59 351.56C832.23 351.56 831.89 351.7 831.64 351.96C831.38 352.21 831.24 352.55 831.24 352.91C831.24 353.27 831.38 353.61 831.64 353.86C831.89 354.12 832.23 354.26 832.59 354.26z" style="fill: #d2b48c" /><path d="M845.01 328.85C845.37 328.85 845.71 328.71 845.96 328.46C846.22 328.2 846.36 327.86 846.36 327.5C846.36 327.14 846.22 326.8 845.96 326.55C845.71 326.29 845.37 326.15 845.01 326.15C844.65 326.15 844.31 326.29 844.06 326.55C843.8 326.8 843.66 327.14 843.66 327.5C843.66 327.86 843.8 328.2 844.06 328.46C844.31 328.71 844.65 328.85 845.01 328.85z" style="fill: #d2b48c" /></g><path d="M714.6 436.39L714.6 374.69M963 436.39L963 374.69M714.6 436.39L963 436.39M714.6 374.69L963 374.69" style="fill: none; stroke: #888888; stroke-width: 0.4; stroke-linejoin: miter; stroke-linecap: square" /><path d="M1047.31 152.93L1295.71 152.93L1295.71 29.23L1047.31 29.23z" style="fill: #ffffff" /><path d="M1047.31 152.93L1047.31 149.18M1047.31 29.23L1047.31 32.98M1109.41 152.93L1109.41 149.18M1109.41 29.23L1109.41 32.98M1171.51 152.93L1171.51 149.18M1171.51 29.23L1171.51 32.98M1233.61 152.93L1233.61 149.18M1233.61 29.23L1233.61 32.98M1295.71 152.93L1295.71 149.18M1295.71 29.23L1295.71 32.98" style="stroke: #000000; stroke-width: 0.75" /><path d="M1053.52 152.93L1053.52 151.23M1053.52 29.23L1053.52 30.93M1059.73 152.93L1059.73 151.23M1059.73 29.23L1059.73 30.93M1065.94 152.93L1065.94 151.23M1065.94 29.23L1065.94 30.93M1072.15 152.93L1072.15 151.23M1072.15 29.23L1072.15 30.93M1078.36 152.93L1078.36 151.23M1078.36 29.23L1078.36 30.93M1084.57 152.93L1084.57 151.23M1084.57 29.23L1084.57 30.93M1090.78 152.93L1090.78 151.23M1090.78 29.23L1090.78 30.93M1096.99 152.93L1096.99 151.23M1096.99 29.23L1096.99 30.93M1103.2 152.93L1103.2 151.23M1103.2 29.23L1103.2 30.93M1115.62 152.93L1115.62 151.23M1115.62 29.23L1115.62 30.93M1121.83 152.93L1121.83 151.23M1121.83 29.23L1121.83 30.93M1128.04 152.93L1128.04 151.23M1128.04 29.23L1128.04 30.93M1134.25 152.93L1134.25 151.23M1134.25 29.23L1134.25 30.93M1140.46 152.93L1140.46 151.23M1140.46 29.23L1140.46 30.93M1146.67 152.93L1146.67 151.23M1146.67 29.23L1146.67 30.93M1152.88 152.93L1152.88 151.23M1152.88 29.23L1152.88 30.93M1159.09 152.93L1159.09 151.23M1159.09 29.23L1159.09 30.93M1165.3 152.93L1165.3 151.23M1165.3 29.23L1165.3 30.93M1177.72 152.93L1177.72 151.23M1177.72 29.23L1177.72 30.93M1183.93 152.93L1183.93 151.23M1183.93 29.23L1183.93 30.93M1190.14 152.93L1190.14 151.23M1190.14 29.23L1190.14 30.93M1196.35 152.93L1196.35 151.23M1196.35 29.23L1196.35 30.93M1202.56 152.93L1202.56 151.23M1202.56 29.23L1202.56 30.93M1208.77 152.93L1208.77 151.23M1208.77 29.23L1208.77 30.93M1214.98 152.93L1214.98 151.23M1214.98 29.23L1214.98 30.93M1221.19 152.93L1221.19 151.23M1221.19 29.23L1221.19 30.93M1227.4 152.93L1227.4 151.23M1227.4 29.23L1227.4 30.93M1239.82 152.93L1239.82 151.23M1239.82 29.23L1239.82 30.93M1246.03 152.93L1246.03 151.23M1246.03 29.23L1246.03 30.93M1252.24 152.93L1252.24 151.23M1252.24 29.23L1252.24 30.93M1258.45 152.93L1258.45 151.23M1258.45 29.23L1258.45 30.93M1264.66 152.93L1264.66 151.23M1264.66 29.23L1264.66 30.93M1270.87 152.93L1270.87 151.23M1270.87 29.23L1270.87 30.93M1277.08 152.93L1277.08 151.23M1277.08 29.23L1277.08 30.93M1283.29 152.93L1283.29 151.23M1283.29 29.23L1283.29 30.93M1289.5 152.93L1289.5 151.23M1289.5 29.23L1289.5 30.93" style="stroke: #000000; stroke-width: 0.6" /><path d="M1047.31 147.89L1051.06 147.89M1295.71 147.89L1291.96 147.89" style="stroke: #000000; stroke-width: 0.75" /><g transform="translate(1017.227 152.484)"><text><tspan x="0" y="-0.172" style="font-size: 12.1px; font-family:'DejaVu Sans',sans-serif">10</tspan><tspan x="15.543" y="-4.766" style="font-size: 8.47px; font-family:'DejaVu Sans',sans-serif">−2</tspan></text></g><path d="M1047.31 116.83L1051.06 116.83M1295.71 116.83L1291.96 116.83" style="stroke: #000000; stroke-width: 0.75" /><g transform="translate(1017.227 121.429)"><text><tspan x="0" y="-0.281" style="font-size: 12.1px; font-family:'DejaVu Sans',sans-serif">10</tspan><tspan x="15.543" y="-4.875" style="font-size: 8.47px; font-family:'DejaVu Sans',sans-serif">−1</tspan></text></g><path d="M1047.31 85.78L1051.06 85.78M1295.71 85.78L1291.96 85.78" style="stroke: #000000; stroke-width: 0.75" /><g transform="translate(1024.366 90.374)"><text><tspan x="0" y="-0.172" style="font-size: 12.1px; font-family:'DejaVu Sans',sans-serif">10</tspan><tspan x="15.543" y="-4.766" style="font-size: 8.47px; font-family:'DejaVu Sans',sans-serif">0</tspan></text></g><path d="M1047.31 54.72L1051.06 54.72M1295.71 54.72L1291.96 54.72" style="stroke: #000000; stroke-width: 0.75" /><g transform="translate(1024.366 59.319)"><text><tspan x="0" y="-0.281" style="font-size: 12.1px; font-family:'DejaVu Sans',sans-serif">10</tspan><tspan x="15.543" y="-4.875" style="font-size: 8.47px; font-family:'DejaVu Sans',sans-serif">1</tspan></text></g><path d="M1047.31 152.7L1049.01 152.7M1295.71 152.7L1294.01 152.7M1047.31 150.9L1049.01 150.9M1295.71 150.9L1294.01 150.9M1047.31 149.31L1049.01 149.31M1295.71 149.31L1294.01 149.31M1047.31 138.54L1049.01 138.54M1295.71 138.54L1294.01 138.54M1047.31 133.07L1049.01 133.07M1295.71 133.07L1294.01 133.07M1047.31 129.19L1049.01 129.19M1295.71 129.19L1294.01 129.19M1047.31 126.18L1049.01 126.18M1295.71 126.18L1294.01 126.18M1047.31 123.72L1049.01 123.72M1295.71 123.72L1294.01 123.72M1047.31 121.64L1049.01 121.64M1295.71 121.64L1294.01 121.64M1047.31 119.84L1049.01 119.84M1295.71 119.84L1294.01 119.84M1047.31 118.25L1049.01 118.25M1295.71 118.25L1294.01 118.25M1047.31 107.48L1049.01 107.48M1295.71 107.48L1294.01 107.48M1047.31 102.02L1049.01 102.02M1295.71 102.02L1294.01 102.02M1047.31 98.14L1049.01 98.14M1295.71 98.14L1294.01 98.14M1047.31 95.13L1049.01 95.13M1295.71 95.13L1294.01 95.13M1047.31 92.67L1049.01 92.67M1295.71 92.67L1294.01 92.67M1047.31 90.59L1049.01 90.59M1295.71 90.59L1294.01 90.59M1047.31 88.79L1049.01 88.79M1295.71 88.79L1294.01 88.79M1047.31 87.2L1049.01 87.2M1295.71 87.2L1294.01 87.2M1047.31 76.43L1049.01 76.43M1295.71 76.43L1294.01 76.43M1047.31 70.96L1049.01 70.96M1295.71 70.96L1294.01 70.96M1047.31 67.08L1049.01 67.08M1295.71 67.08L1294.01 67.08M1047.31 64.07L1049.01 64.07M1295.71 64.07L1294.01 64.07M1047.31 61.61L1049.01 61.61M1295.71 61.61L1294.01 61.61M1047.31 59.53L1049.01 59.53M1295.71 59.53L1294.01 59.53M1047.31 57.73L1049.01 57.73M1295.71 57.73L1294.01 57.73M1047.31 56.14L1049.01 56.14M1295.71 56.14L1294.01 56.14M1047.31 45.37L1049.01 45.37M1295.71 45.37L1294.01 45.37M1047.31 39.91L1049.01 39.91M1295.71 39.91L1294.01 39.91M1047.31 36.03L1049.01 36.03M1295.71 36.03L1294.01 36.03M1047.31 33.02L1049.01 33.02M1295.71 33.02L1294.01 33.02M1047.31 30.56L1049.01 30.56M1295.71 30.56L1294.01 30.56" style="stroke: #000000; stroke-width: 0.6" /><g transform="translate(1011.251 103.875) rotate(-90)"><text><tspan x="0" y="-0.498" style="font-style: oblique; font-size: 14.4px; font-family:'DejaVu Sans',sans-serif">D</tspan><tspan x="11.069" y="3.33" style="font-style: oblique; font-size: 10.08px; font-family:'DejaVu Sans',sans-serif">ℓ</tspan><tspan x="12.051" y="-5.858" style="font-style: oblique; font-size: 10.08px; font-family:'DejaVu Sans',sans-serif">EE</tspan></text></g><path d="M1048.55 147.27L1050.29 135.62L1051.41 129.33L1052.03 125.16L1053.65 111.35L1054.52 106.28L1055.38 102.56L1057.99 93.1L1058.74 91.07L1059.98 88.56L1060.97 87.05L1061.72 86.29L1063.21 85.18L1064.08 84.81L1064.7 84.76L1065.32 84.93L1066.19 85.42L1068.3 86.95L1071.78 89.93L1072.15 89.9L1072.65 89.62L1073.27 89.05L1073.64 88.4L1074.39 86.46L1075.51 83.09L1077.12 77.18L1078.73 71.09L1080.22 66.68L1082.34 61.23L1084.08 57.26L1085.44 54.7L1087.06 52.09L1088.67 49.89L1090.66 47.51L1091.78 46.51L1093.27 45.59L1094.63 44.97L1095.63 44.72L1096.5 44.78L1097.74 45.07L1098.98 45.62L1100.22 46.41L1101.59 47.56L1103.08 49.13L1104.69 51.19L1106.93 54.44L1109.16 57.63L1110.28 58.88L1111.15 59.55L1111.9 59.86L1112.52 59.92L1113.01 59.77L1113.63 59.31L1114.38 58.4L1115.25 56.98L1116.62 54.26L1120.22 46.9L1121.83 44.14L1123.32 41.99L1124.81 40.22L1126.18 38.92L1127.55 37.92L1128.91 37.21L1130.15 36.8L1131.4 36.62L1132.64 36.66L1133.88 36.92L1135.12 37.39L1136.49 38.15L1137.85 39.17L1139.34 40.57L1140.96 42.41L1142.82 44.88L1147.17 50.81L1148.16 51.74L1149.03 52.27L1149.78 52.48L1150.52 52.44L1151.27 52.15L1152.14 51.54L1153.13 50.54L1154.5 48.79L1160.83 40.11L1162.45 38.46L1164.06 37.12L1165.55 36.17L1167.04 35.49L1168.41 35.11L1169.77 34.96L1171.14 35.04L1172.51 35.35L1173.87 35.91L1175.24 36.7L1176.73 37.85L1178.22 39.28L1179.83 41.13L1181.7 43.63L1186.79 50.7L1187.78 51.57L1188.65 52.03L1189.4 52.15L1190.27 52.03L1191.14 51.66L1192.13 50.99L1193.37 49.85L1195.23 47.78L1198.84 43.73L1200.57 42.12L1202.19 40.92L1203.68 40.08L1205.05 39.56L1206.41 39.27L1207.78 39.21L1209.27 39.38L1210.76 39.76L1212.25 40.37L1213.86 41.27L1215.48 42.43L1217.22 43.95L1219.2 46L1221.94 49.18L1224.67 52.27L1226.04 53.49L1227.15 54.19L1228.02 54.5L1228.89 54.59L1229.89 54.43L1230.88 54.04L1232 53.36L1233.49 52.16L1236.22 49.59L1238.7 47.38L1240.44 46.1L1242.06 45.18L1243.55 44.58L1244.91 44.26L1246.28 44.15L1247.65 44.26L1249.01 44.59L1250.38 45.14L1251.87 45.99L1253.36 47.09L1254.97 48.57L1256.84 50.61L1259.2 53.56L1262.18 57.26L1262.18 57.26" clip-path="url(#p06f78b19bc)" style="fill: none; stroke-dasharray: 6.29,2.72; stroke-dashoffset: 0; stroke: #00bfbf; stroke-width: 1.7" /><path d="M1048.55 147.27L1050.29 135.61L1051.41 129.32L1052.03 125.16L1053.65 111.37L1054.52 106.3L1055.38 102.58L1057.99 93.12L1058.74 91.09L1059.98 88.58L1060.97 87.07L1061.72 86.32L1063.21 85.2L1064.08 84.83L1064.7 84.78L1065.32 84.95L1066.19 85.44L1068.3 86.97L1071.78 89.94L1072.15 89.91L1072.65 89.64L1073.27 89.07L1073.64 88.41L1074.39 86.48L1075.51 83.1L1077.12 77.19L1078.73 71.1L1080.22 66.7L1082.34 61.25L1084.08 57.27L1085.44 54.71L1087.06 52.11L1088.67 49.91L1090.66 47.52L1091.78 46.52L1093.27 45.61L1094.63 44.98L1095.63 44.74L1096.5 44.79L1097.74 45.09L1098.98 45.63L1100.22 46.42L1101.59 47.57L1103.08 49.15L1104.69 51.21L1106.93 54.47L1109.29 57.81L1110.41 59.02L1111.28 59.65L1112.02 59.92L1112.64 59.93L1113.14 59.73L1113.76 59.21L1114.5 58.25L1115.5 56.55L1117.11 53.23L1119.97 47.39L1121.71 44.37L1123.2 42.18L1124.69 40.38L1126.05 39.06L1127.42 38.03L1128.79 37.29L1130.03 36.86L1131.27 36.66L1132.51 36.68L1133.76 36.91L1135 37.36L1136.36 38.1L1137.73 39.1L1139.22 40.48L1140.83 42.3L1142.7 44.75L1147.17 50.86L1148.16 51.79L1149.03 52.33L1149.78 52.53L1150.52 52.49L1151.27 52.21L1152.14 51.6L1153.13 50.6L1154.5 48.84L1157.85 43.97L1159.96 41.18L1161.7 39.23L1163.31 37.75L1164.81 36.66L1166.3 35.84L1167.66 35.34L1169.03 35.06L1170.39 35.01L1171.76 35.19L1173.13 35.62L1174.49 36.29L1175.86 37.21L1177.35 38.48L1178.96 40.18L1180.7 42.35L1182.94 45.55L1185.92 49.81L1187.16 51.18L1188.03 51.85L1188.78 52.18L1189.52 52.27L1190.39 52.11L1191.26 51.71L1192.25 51.01L1193.5 49.84L1195.48 47.61L1198.71 43.97L1200.57 42.23L1202.19 41.02L1203.68 40.18L1205.05 39.66L1206.41 39.36L1207.78 39.31L1209.27 39.48L1210.76 39.87L1212.25 40.48L1213.86 41.4L1215.48 42.57L1217.22 44.1L1219.2 46.17L1221.94 49.37L1224.55 52.35L1225.91 53.61L1227.03 54.35L1227.9 54.69L1228.77 54.81L1229.76 54.69L1230.76 54.33L1231.87 53.68L1233.24 52.61L1235.47 50.54L1238.46 47.82L1240.32 46.42L1241.93 45.48L1243.42 44.86L1244.79 44.52L1246.16 44.39L1247.52 44.49L1248.89 44.81L1250.25 45.35L1251.75 46.19L1253.24 47.3L1254.85 48.79L1256.59 50.7L1258.82 53.52L1262.18 57.79L1262.18 57.79" clip-path="url(#p06f78b19bc)" style="fill: none; stroke-dasharray: 1.8,2.61; stroke-dashoffset: 0; stroke: #9400d3; stroke-width: 1.8" /><path d="M1048.55 147.27L1050.29 135.6L1051.41 129.31L1052.03 125.16L1053.65 111.39L1054.52 106.32L1055.38 102.6L1057.99 93.14L1058.74 91.11L1059.98 88.6L1060.97 87.09L1061.72 86.34L1063.21 85.22L1064.08 84.85L1064.7 84.8L1065.32 84.97L1066.19 85.45L1068.3 86.98L1071.78 89.96L1072.15 89.93L1072.65 89.65L1073.27 89.08L1073.64 88.43L1074.39 86.49L1075.51 83.12L1077.12 77.21L1078.73 71.11L1080.22 66.71L1082.34 61.26L1084.08 57.28L1085.44 54.72L1087.06 52.12L1088.67 49.92L1090.66 47.53L1091.78 46.53L1093.27 45.62L1094.63 44.99L1095.63 44.75L1096.5 44.8L1097.74 45.1L1098.98 45.65L1100.22 46.44L1101.59 47.59L1103.08 49.17L1104.69 51.23L1107.05 54.68L1109.29 57.84L1110.41 59.05L1111.28 59.68L1112.02 59.95L1112.64 59.96L1113.14 59.76L1113.76 59.24L1114.5 58.28L1115.5 56.58L1117.11 53.26L1119.97 47.42L1121.71 44.39L1123.2 42.21L1124.69 40.41L1126.05 39.08L1127.42 38.06L1128.79 37.32L1130.03 36.89L1131.27 36.68L1132.51 36.7L1133.76 36.94L1135 37.39L1136.36 38.13L1137.73 39.14L1139.22 40.52L1140.83 42.35L1142.7 44.8L1147.17 50.91L1148.16 51.85L1149.03 52.38L1149.78 52.59L1150.52 52.55L1151.27 52.27L1152.14 51.66L1153.13 50.66L1154.5 48.9L1157.6 44.38L1159.71 41.54L1161.45 39.54L1163.07 38L1164.56 36.87L1166.05 36.01L1167.41 35.46L1168.78 35.13L1170.15 35.04L1171.39 35.16L1172.75 35.53L1174.12 36.14L1175.49 37L1176.98 38.21L1178.47 39.7L1180.08 41.63L1182.07 44.37L1186.42 50.53L1187.53 51.62L1188.4 52.17L1189.15 52.38L1189.89 52.35L1190.76 52.09L1191.76 51.51L1192.87 50.58L1194.36 49.01L1199.83 42.99L1201.44 41.65L1202.93 40.67L1204.42 39.97L1205.79 39.57L1207.16 39.4L1208.52 39.46L1210.01 39.74L1211.5 40.26L1213.12 41.06L1214.73 42.12L1216.35 43.44L1218.21 45.25L1220.45 47.76L1225.04 53.05L1226.28 54.1L1227.28 54.69L1228.15 54.97L1229.02 55.03L1230.01 54.85L1231 54.44L1232.12 53.74L1233.61 52.52L1240.19 46.74L1241.81 45.78L1243.3 45.14L1244.79 44.76L1246.16 44.63L1247.52 44.74L1248.89 45.07L1250.25 45.63L1251.75 46.48L1253.11 47.51L1254.73 49.01L1256.46 50.94L1258.58 53.62L1262.18 58.33L1262.18 58.33" clip-path="url(#p06f78b19bc)" style="fill: none; stroke: #d2b48c; stroke-opacity: 0.7; stroke-width: 1.7; stroke-linecap: square" /><path d="M1047.31 152.93L1047.31 29.23M1295.71 152.93L1295.71 29.23M1047.31 152.93L1295.71 152.93M1047.31 29.23L1295.71 29.23" style="fill: none; stroke: #888888; stroke-width: 0.4; stroke-linejoin: miter; stroke-linecap: square" /><path d="M1224.34 146.18L1286.46 146.18Q1288.96 146.18 1288.96 143.68L1288.96 74.68Q1288.96 72.18 1286.46 72.18L1224.34 72.18Q1221.84 72.18 1221.84 74.68L1221.84 143.68Q1221.84 146.18 1224.34 146.18z" style="fill: #ffffff; opacity: 0.8; stroke: #cccccc; stroke-width: 0.4; stroke-linejoin: miter" /><path d="M1227.15 84.37L1239.4 84.37L1251.65 84.37" style="fill: none; stroke-dasharray: 6.29,2.72; stroke-dashoffset: 0; stroke: #00bfbf; stroke-width: 1.7" /><g transform="translate(1261.649 88.740)"><text><tspan x="0" y="-0.384" style="font-style: oblique; font-size: 12.5px; font-family:'DejaVu Sans',sans-serif">D</tspan><tspan x="9.625" y="3.17" style="font-style: oblique; font-size: 8.75px; font-family:'DejaVu Sans',sans-serif">ℓ</tspan><tspan x="10.538" y="-5.361" style="font-size: 8.75px; font-family:'DejaVu Sans',sans-serif">EE</tspan></text></g><path d="M1227.15 108.62L1239.4 108.62L1251.65 108.62" style="fill: none; stroke-dasharray: 1.8,2.61; stroke-dashoffset: 0; stroke: #9400d3; stroke-width: 1.8" /><g transform="translate(1261.649 112.990)"><text><tspan x="0" y="-0.114" style="font-style: oblique; font-size: 12.5px; font-family:'DejaVu Sans',sans-serif">D</tspan><tspan x="9.625" y="3.441" style="font-style: oblique; font-size: 8.75px; font-family:'DejaVu Sans',sans-serif">ℓ</tspan><tspan x="10.538" y="-5.091" style="font-size: 8.75px; font-family:'DejaVu Sans',sans-serif">E</tspan><tspan x="15.527" y="-6.627" style="font-size: 8.75px; font-family:'DejaVu Sans',sans-serif">̂</tspan><tspan x="16.067" y="-5.091" style="font-size: 8.75px; font-family:'DejaVu Sans',sans-serif">E</tspan></text></g><path d="M1227.15 132.87L1239.4 132.87L1251.65 132.87" style="fill: none; stroke: #d2b48c; stroke-opacity: 0.7; stroke-width: 1.7; stroke-linecap: square" /><g transform="translate(1261.649 137.240)"><text><tspan x="0" y="-0.114" style="font-style: oblique; font-size: 12.5px; font-family:'DejaVu Sans',sans-serif">D</tspan><tspan x="9.625" y="3.441" style="font-style: oblique; font-size: 8.75px; font-family:'DejaVu Sans',sans-serif">ℓ</tspan><tspan x="10.538" y="-5.091" style="font-size: 8.75px; font-family:'DejaVu Sans',sans-serif">E</tspan><tspan x="15.527" y="-6.627" style="font-size: 8.75px; font-family:'DejaVu Sans',sans-serif">̂</tspan><tspan x="16.067" y="-5.091" style="font-size: 8.75px; font-family:'DejaVu Sans',sans-serif">E</tspan><tspan x="21.056" y="-6.627" style="font-size: 8.75px; font-family:'DejaVu Sans',sans-serif">̂</tspan></text></g><path d="M1047.31 214.13L1295.71 214.13L1295.71 152.93L1047.31 152.93z" style="fill: #ffffff" /><path d="M1047.31 214.13L1047.31 210.38M1047.31 152.93L1047.31 156.68" style="stroke: #000000; stroke-width: 0.75" /><text style="font-size: 12.1px; font-family:'DejaVu Sans',sans-serif; text-anchor: middle" x="1047.312" y="225.072" transform="rotate(-0 1047.312 225.072)">0</text><path d="M1109.41 214.13L1109.41 210.38M1109.41 152.93L1109.41 156.68" style="stroke: #000000; stroke-width: 0.75" /><text style="font-size: 12.1px; font-family:'DejaVu Sans',sans-serif; text-anchor: middle" x="1109.412" y="225.072" transform="rotate(-0 1109.412 225.072)">500</text><path d="M1171.51 214.13L1171.51 210.38M1171.51 152.93L1171.51 156.68" style="stroke: #000000; stroke-width: 0.75" /><text style="font-size: 12.1px; font-family:'DejaVu Sans',sans-serif; text-anchor: middle" x="1171.512" y="225.072" transform="rotate(-0 1171.512 225.072)">1000</text><path d="M1233.61 214.13L1233.61 210.38M1233.61 152.93L1233.61 156.68" style="stroke: #000000; stroke-width: 0.75" /><text style="font-size: 12.1px; font-family:'DejaVu Sans',sans-serif; text-anchor: middle" x="1233.612" y="225.072" transform="rotate(-0 1233.612 225.072)">1500</text><path d="M1295.71 214.13L1295.71 210.38M1295.71 152.93L1295.71 156.68" style="stroke: #000000; stroke-width: 0.75" /><text style="font-size: 12.1px; font-family:'DejaVu Sans',sans-serif; text-anchor: middle" x="1295.712" y="225.072" transform="rotate(-0 1295.712 225.072)">2000</text><path d="M1053.52 214.13L1053.52 212.43M1053.52 152.93L1053.52 154.63M1059.73 214.13L1059.73 212.43M1059.73 152.93L1059.73 154.63M1065.94 214.13L1065.94 212.43M1065.94 152.93L1065.94 154.63M1072.15 214.13L1072.15 212.43M1072.15 152.93L1072.15 154.63M1078.36 214.13L1078.36 212.43M1078.36 152.93L1078.36 154.63M1084.57 214.13L1084.57 212.43M1084.57 152.93L1084.57 154.63M1090.78 214.13L1090.78 212.43M1090.78 152.93L1090.78 154.63M1096.99 214.13L1096.99 212.43M1096.99 152.93L1096.99 154.63M1103.2 214.13L1103.2 212.43M1103.2 152.93L1103.2 154.63M1115.62 214.13L1115.62 212.43M1115.62 152.93L1115.62 154.63M1121.83 214.13L1121.83 212.43M1121.83 152.93L1121.83 154.63M1128.04 214.13L1128.04 212.43M1128.04 152.93L1128.04 154.63M1134.25 214.13L1134.25 212.43M1134.25 152.93L1134.25 154.63M1140.46 214.13L1140.46 212.43M1140.46 152.93L1140.46 154.63M1146.67 214.13L1146.67 212.43M1146.67 152.93L1146.67 154.63M1152.88 214.13L1152.88 212.43M1152.88 152.93L1152.88 154.63M1159.09 214.13L1159.09 212.43M1159.09 152.93L1159.09 154.63M1165.3 214.13L1165.3 212.43M1165.3 152.93L1165.3 154.63M1177.72 214.13L1177.72 212.43M1177.72 152.93L1177.72 154.63M1183.93 214.13L1183.93 212.43M1183.93 152.93L1183.93 154.63M1190.14 214.13L1190.14 212.43M1190.14 152.93L1190.14 154.63M1196.35 214.13L1196.35 212.43M1196.35 152.93L1196.35 154.63M1202.56 214.13L1202.56 212.43M1202.56 152.93L1202.56 154.63M1208.77 214.13L1208.77 212.43M1208.77 152.93L1208.77 154.63M1214.98 214.13L1214.98 212.43M1214.98 152.93L1214.98 154.63M1221.19 214.13L1221.19 212.43M1221.19 152.93L1221.19 154.63M1227.4 214.13L1227.4 212.43M1227.4 152.93L1227.4 154.63M1239.82 214.13L1239.82 212.43M1239.82 152.93L1239.82 154.63M1246.03 214.13L1246.03 212.43M1246.03 152.93L1246.03 154.63M1252.24 214.13L1252.24 212.43M1252.24 152.93L1252.24 154.63M1258.45 214.13L1258.45 212.43M1258.45 152.93L1258.45 154.63M1264.66 214.13L1264.66 212.43M1264.66 152.93L1264.66 154.63M1270.87 214.13L1270.87 212.43M1270.87 152.93L1270.87 154.63M1277.08 214.13L1277.08 212.43M1277.08 152.93L1277.08 154.63M1283.29 214.13L1283.29 212.43M1283.29 152.93L1283.29 154.63M1289.5 214.13L1289.5 212.43M1289.5 152.93L1289.5 154.63" style="stroke: #000000; stroke-width: 0.6" /><g transform="translate(1168.488 240.980)"><text><tspan x="0" y="-0.609" style="font-style: oblique; font-size: 14.4px; font-family:'DejaVu Sans',sans-serif">ℓ</tspan></text></g><path d="M1047.31 214.13L1051.06 214.13M1295.71 214.13L1291.96 214.13" style="stroke: #000000; stroke-width: 0.75" /><text style="font-size: 12.1px; font-family:'DejaVu Sans',sans-serif; text-anchor: end" x="1045.662" y="218.725" transform="rotate(-0 1045.662 218.725)">0.9</text><path d="M1047.31 173.19L1051.06 173.19M1295.71 173.19L1291.96 173.19" style="stroke: #000000; stroke-width: 0.75" /><text style="font-size: 12.1px; font-family:'DejaVu Sans',sans-serif; text-anchor: end" x="1045.662" y="177.788" transform="rotate(-0 1045.662 177.788)">1.0</text><path d="M1047.31 205.94L1049.01 205.94M1295.71 205.94L1294.01 205.94M1047.31 197.75L1049.01 197.75M1295.71 197.75L1294.01 197.75M1047.31 189.57L1049.01 189.57M1295.71 189.57L1294.01 189.57M1047.31 181.38L1049.01 181.38M1295.71 181.38L1294.01 181.38M1047.31 165L1049.01 165M1295.71 165L1294.01 165M1047.31 156.82L1049.01 156.82M1295.71 156.82L1294.01 156.82" style="stroke: #000000; stroke-width: 0.6" /><g transform="translate(1020.443 211.339) rotate(-90)"><text><tspan x="0" y="-0.887" style="font-style: oblique; font-size: 14.4px; font-family:'DejaVu Sans',sans-serif">D</tspan><tspan x="11.069" y="2.941" style="font-style: oblique; font-size: 10.08px; font-family:'DejaVu Sans',sans-serif">ℓ</tspan><tspan x="12.051" y="-6.246" style="font-style: oblique; font-size: 10.08px; font-family:'DejaVu Sans',sans-serif">EE</tspan><tspan x="19.05" y="-8.605" style="font-size: 10.08px; font-family:'DejaVu Sans',sans-serif">̂</tspan><tspan x="25.149" y="-0.887" style="font-size: 14.4px; font-family:'DejaVu Sans',sans-serif">/</tspan><tspan x="25.408" y="-8.605" style="font-size: 10.08px; font-family:'DejaVu Sans',sans-serif">̂</tspan><tspan x="29.993" y="-0.887" style="font-style: oblique; font-size: 14.4px; font-family:'DejaVu Sans',sans-serif">D</tspan><tspan x="41.062" y="2.941" style="font-style: oblique; font-size: 10.08px; font-family:'DejaVu Sans',sans-serif">ℓ</tspan><tspan x="42.043" y="-6.246" style="font-style: oblique; font-size: 10.08px; font-family:'DejaVu Sans',sans-serif">EE</tspan></text></g><path d="M1048.55 173.19L1051.04 172.37L1053.52 174.3L1056.01 174.38L1058.49 174.42L1060.97 174.51L1063.46 174.3L1065.94 174.23L1068.43 174.04L1070.91 174.18L1073.39 174.09L1075.88 174.14L1078.36 173.95L1080.85 174.04L1083.33 173.92L1085.81 173.98L1088.3 174L1090.78 173.79L1093.27 173.95L1095.75 174.01L1098.23 174.19L1100.72 174.12L1103.2 174.31L1105.69 174.67L1108.17 174.73L1110.65 174.85L1113.14 175.11L1115.62 174.96L1118.11 174.77L1120.59 175.07L1123.07 174.84L1125.56 174.68L1128.04 174.93L1130.53 174.9L1133.01 174.81L1135.49 174.92L1137.98 175.23L1140.46 175.71L1142.95 175.93L1145.43 176.13L1147.91 176.47L1150.4 176.61L1152.88 176.83L1155.37 176.67L1157.85 176.28L1160.33 176.31L1162.82 176.24L1165.3 175.98L1167.79 175.87L1170.27 175.64L1172.75 176.01L1175.24 176.91L1177.72 177.73L1180.21 178.73L1182.69 179.52L1185.17 180L1187.66 180.33L1190.14 180.38L1192.63 180.29L1195.11 180.26L1197.59 180.04L1200.08 179.71L1202.56 179.53L1205.05 179.25L1207.53 178.96L1210.01 179.24L1212.5 180.17L1214.98 181.01L1217.47 182.25L1219.95 183.44L1222.43 184.81L1224.92 185.58L1227.4 186.34L1229.89 186.64L1232.37 187.2L1234.85 187.29L1237.34 187.46L1239.82 187.38L1242.31 187.42L1244.79 187.38L1247.27 187.85L1249.76 189.28L1252.24 190.46L1254.73 193.42L1257.21 196.53L1259.69 200.19L1262.18 204.53" clip-path="url(#p29f8575d44)" style="fill: none; stroke: #d2b48c; stroke-width: 1.7; stroke-linecap: square" /><path d="M1047.31 173.19L1295.71 173.19" clip-path="url(#p29f8575d44)" style="fill: none; stroke-dasharray: 2.59,1.12; stroke-dashoffset: 0; stroke: #ff0000; stroke-width: 0.7" /><path d="M1048.55 209.22L1048.55 137.17M1051.04 201.03L1051.04 143.72M1053.52 185.15L1053.52 163.45M1056.01 182.73L1056.01 166.03M1058.49 181.26L1058.49 167.58M1060.97 181.34L1060.97 167.67M1063.46 181.14L1063.46 167.47M1065.94 181.07L1065.94 167.39M1068.43 182.64L1068.43 165.45M1070.91 183.12L1070.91 165.23M1073.39 183.38L1073.39 164.8M1075.88 183.15L1075.88 165.13M1078.36 179.52L1078.36 168.39M1080.85 178.74L1080.85 169.33M1083.33 178.35L1083.33 169.48M1085.81 178.06L1085.81 169.9M1088.3 177.63L1088.3 170.36M1090.78 176.98L1090.78 170.6M1093.27 177.14L1093.27 170.76M1095.75 177.21L1095.75 170.82M1098.23 177.38L1098.23 171M1100.72 177.32L1100.72 170.93M1103.2 177.5L1103.2 171.11M1105.69 178.93L1105.69 170.41M1108.17 180.05L1108.17 169.41M1110.65 180.48L1110.65 169.22M1113.14 181.05L1113.14 169.18M1115.62 180.38L1115.62 169.54M1118.11 179.69L1118.11 169.86M1120.59 179.33L1120.59 170.81M1123.07 178.44L1123.07 171.24M1125.56 177.96L1125.56 171.41M1128.04 178.2L1128.04 171.65M1130.53 178.17L1130.53 171.62M1133.01 178.09L1133.01 171.54M1135.49 178.2L1135.49 171.65M1137.98 178.5L1137.98 171.95M1140.46 178.99L1140.46 172.44M1142.95 179.21L1142.95 172.66M1145.43 180.33L1145.43 171.94M1147.91 181.59L1147.91 171.35M1150.4 182.14L1150.4 171.09M1152.88 182.35L1152.88 171.3M1155.37 181.79L1155.37 171.55M1157.85 180.86L1157.85 171.69M1160.33 180.24L1160.33 172.38M1162.82 179.51L1162.82 172.96M1165.3 179.19L1165.3 172.76M1167.79 179.03L1167.79 172.71M1170.27 178.74L1170.27 172.54M1172.75 179.16L1172.75 172.86M1175.24 180.23L1175.24 173.59M1177.72 181.21L1177.72 174.25M1180.21 182.95L1180.21 174.51M1182.69 184.47L1182.69 174.57M1185.17 185.59L1185.17 174.41M1187.66 186.46L1187.66 174.2M1190.14 187.05L1190.14 173.71M1192.63 186.42L1192.63 174.15M1195.11 185.85L1195.11 174.67M1197.59 185.1L1197.59 174.98M1200.08 184.24L1200.08 175.17M1202.56 183.54L1202.56 175.52M1205.05 183.29L1205.05 175.2M1207.53 183.04L1207.53 174.88M1210.01 183.41L1210.01 175.06M1212.5 184.51L1212.5 175.83M1214.98 185.51L1214.98 176.5M1217.47 187.29L1217.47 177.2M1219.95 189.03L1219.95 177.86M1222.43 191L1222.43 178.63M1224.92 192.42L1224.92 178.75M1227.4 193.83L1227.4 178.84M1229.89 193.92L1229.89 179.37M1232.37 194.26L1232.37 180.13M1234.85 194.03L1234.85 180.55M1237.34 193.76L1237.34 181.17M1239.82 193.23L1239.82 181.53M1242.31 193.23L1242.31 181.62M1244.79 193.14L1244.79 181.63M1247.27 193.76L1247.27 181.93M1249.76 195.57L1249.76 182.98M1252.24 197.14L1252.24 183.79M1254.73 200.7L1254.73 186.14M1257.21 204.41L1257.21 188.64M1259.69 209.47L1259.69 190.91M1262.18 215.99L1262.18 193.06" clip-path="url(#p29f8575d44)" style="fill: none; stroke: #d2b48c; stroke-width: 1.35" /><path d="M1047.31 214.13L1047.31 152.93M1295.71 214.13L1295.71 152.93M1047.31 214.13L1295.71 214.13M1047.31 152.93L1295.71 152.93" style="fill: none; stroke: #888888; stroke-width: 0.4; stroke-linejoin: miter; stroke-linecap: square" /><path d="M1047.31 374.69L1295.71 374.69L1295.71 251.5L1047.31 251.5z" style="fill: #ffffff" /><path d="M1047.31 374.69L1047.31 370.94M1047.31 251.5L1047.31 255.25M1109.41 374.69L1109.41 370.94M1109.41 251.5L1109.41 255.25M1171.51 374.69L1171.51 370.94M1171.51 251.5L1171.51 255.25M1233.61 374.69L1233.61 370.94M1233.61 251.5L1233.61 255.25M1295.71 374.69L1295.71 370.94M1295.71 251.5L1295.71 255.25" style="stroke: #000000; stroke-width: 0.75" /><path d="M1059.73 374.69L1059.73 372.99M1059.73 251.5L1059.73 253.2M1072.15 374.69L1072.15 372.99M1072.15 251.5L1072.15 253.2M1084.57 374.69L1084.57 372.99M1084.57 251.5L1084.57 253.2M1096.99 374.69L1096.99 372.99M1096.99 251.5L1096.99 253.2M1121.83 374.69L1121.83 372.99M1121.83 251.5L1121.83 253.2M1134.25 374.69L1134.25 372.99M1134.25 251.5L1134.25 253.2M1146.67 374.69L1146.67 372.99M1146.67 251.5L1146.67 253.2M1159.09 374.69L1159.09 372.99M1159.09 251.5L1159.09 253.2M1183.93 374.69L1183.93 372.99M1183.93 251.5L1183.93 253.2M1196.35 374.69L1196.35 372.99M1196.35 251.5L1196.35 253.2M1208.77 374.69L1208.77 372.99M1208.77 251.5L1208.77 253.2M1221.19 374.69L1221.19 372.99M1221.19 251.5L1221.19 253.2M1246.03 374.69L1246.03 372.99M1246.03 251.5L1246.03 253.2M1258.45 374.69L1258.45 372.99M1258.45 251.5L1258.45 253.2M1270.87 374.69L1270.87 372.99M1270.87 251.5L1270.87 253.2M1283.29 374.69L1283.29 372.99M1283.29 251.5L1283.29 253.2" style="stroke: #000000; stroke-width: 0.6" /><path d="M1047.31 372.67L1051.06 372.67M1295.71 372.67L1291.96 372.67" style="stroke: #000000; stroke-width: 0.75" /><g transform="translate(1017.227 377.267)"><text><tspan x="0" y="-0.281" style="font-size: 12.1px; font-family:'DejaVu Sans',sans-serif">10</tspan><tspan x="15.543" y="-4.875" style="font-size: 8.47px; font-family:'DejaVu Sans',sans-serif">−4</tspan></text></g><path d="M1047.31 312.08L1051.06 312.08M1295.71 312.08L1291.96 312.08" style="stroke: #000000; stroke-width: 0.75" /><g transform="translate(1017.227 316.680)"><text><tspan x="0" y="-0.172" style="font-size: 12.1px; font-family:'DejaVu Sans',sans-serif">10</tspan><tspan x="15.543" y="-4.766" style="font-size: 8.47px; font-family:'DejaVu Sans',sans-serif">−3</tspan></text></g><path d="M1047.31 251.5L1051.06 251.5M1295.71 251.5L1291.96 251.5" style="stroke: #000000; stroke-width: 0.75" /><g transform="translate(1017.227 256.093)"><text><tspan x="0" y="-0.172" style="font-size: 12.1px; font-family:'DejaVu Sans',sans-serif">10</tspan><tspan x="15.543" y="-4.766" style="font-size: 8.47px; font-family:'DejaVu Sans',sans-serif">−2</tspan></text></g><path d="M1047.31 354.43L1049.01 354.43M1295.71 354.43L1294.01 354.43M1047.31 343.76L1049.01 343.76M1295.71 343.76L1294.01 343.76M1047.31 336.19L1049.01 336.19M1295.71 336.19L1294.01 336.19M1047.31 330.32L1049.01 330.32M1295.71 330.32L1294.01 330.32M1047.31 325.52L1049.01 325.52M1295.71 325.52L1294.01 325.52M1047.31 321.47L1049.01 321.47M1295.71 321.47L1294.01 321.47M1047.31 317.95L1049.01 317.95M1295.71 317.95L1294.01 317.95M1047.31 314.86L1049.01 314.86M1295.71 314.86L1294.01 314.86M1047.31 293.84L1049.01 293.84M1295.71 293.84L1294.01 293.84M1047.31 283.18L1049.01 283.18M1295.71 283.18L1294.01 283.18M1047.31 275.61L1049.01 275.61M1295.71 275.61L1294.01 275.61M1047.31 269.73L1049.01 269.73M1295.71 269.73L1294.01 269.73M1047.31 264.94L1049.01 264.94M1295.71 264.94L1294.01 264.94M1047.31 260.88L1049.01 260.88M1295.71 260.88L1294.01 260.88M1047.31 257.37L1049.01 257.37M1295.71 257.37L1294.01 257.37M1047.31 254.27L1049.01 254.27M1295.71 254.27L1294.01 254.27" style="stroke: #000000; stroke-width: 0.6" /><g transform="translate(1011.251 326.391) rotate(-90)"><text><tspan x="0" y="-0.498" style="font-style: oblique; font-size: 14.4px; font-family:'DejaVu Sans',sans-serif">D</tspan><tspan x="11.069" y="3.33" style="font-style: oblique; font-size: 10.08px; font-family:'DejaVu Sans',sans-serif">ℓ</tspan><tspan x="12.051" y="-5.858" style="font-style: oblique; font-size: 10.08px; font-family:'DejaVu Sans',sans-serif">BB</tspan></text></g><path d="M1053.52 346.54L1065.94 312.48L1078.36 292.44L1090.78 284.34L1103.2 281.73L1115.62 284.25L1128.04 289.83L1140.46 298.91L1152.88 310.55L1165.3 320.91L1177.72 325.52L1190.14 324.45L1202.56 321.21L1214.98 321.58L1227.4 322.86L1239.82 324.66L1252.24 325.97L1264.66 327.13L1277.08 326.96L1289.5 326.03L1301.92 325.04L1311.4 324.43" clip-path="url(#pcb508e6025)" style="fill: none; stroke-dasharray: 6.29,2.72; stroke-dashoffset: 0; stroke: #00bfbf; stroke-width: 1.7" /><path d="M1053.52 346.54L1065.94 312.61L1078.36 292.7L1090.78 284.61L1103.2 282.26L1115.62 285.6L1128.04 292.6L1140.46 303.81L1152.88 317.6L1165.3 330.3L1177.72 337.68L1190.14 339.33L1202.56 337.27L1214.98 339.14L1227.4 339.51L1239.82 341.02L1252.24 340.85L1264.66 340.57L1277.08 341.11L1289.5 339.91L1301.92 339.83L1311.4 339.22" clip-path="url(#pcb508e6025)" style="fill: none; stroke-dasharray: 1.8,2.61; stroke-dashoffset: 0; stroke: #9400d3; stroke-width: 1.8" /><path d="M1053.52 344.66L1065.94 310.35L1078.36 290.63L1090.78 283.35L1103.2 281.48L1115.62 285.37L1128.04 290.86L1140.46 295.75L1152.88 299.88L1165.3 298.75L1177.72 297.36L1190.14 295.06L1202.56 290.63L1214.98 289.27L1227.4 285.95L1239.82 283.89L1252.24 281.81L1264.66 279.57L1277.08 277.37L1289.5 274.45L1301.92 273.1L1311.4 271.99" clip-path="url(#pcb508e6025)" style="fill: none; stroke: #d2b48c; stroke-opacity: 0.7; stroke-width: 1.7; stroke-linecap: square" /><g clip-path="url(#pcb508e6025)"><path d="M1053.52 346.31C1053.96 346.31 1054.38 346.13 1054.69 345.82C1055 345.51 1055.17 345.09 1055.17 344.66C1055.17 344.22 1055 343.8 1054.69 343.49C1054.38 343.18 1053.96 343.01 1053.52 343.01C1053.08 343.01 1052.66 343.18 1052.36 343.49C1052.05 343.8 1051.87 344.22 1051.87 344.66C1051.87 345.09 1052.05 345.51 1052.36 345.82C1052.66 346.13 1053.08 346.31 1053.52 346.31z" style="fill: #d2b48c; fill-opacity: 0.7" /><path d="M1065.94 312C1066.38 312 1066.8 311.83 1067.11 311.52C1067.42 311.21 1067.59 310.79 1067.59 310.35C1067.59 309.91 1067.42 309.49 1067.11 309.19C1066.8 308.88 1066.38 308.7 1065.94 308.7C1065.5 308.7 1065.08 308.88 1064.78 309.19C1064.47 309.49 1064.29 309.91 1064.29 310.35C1064.29 310.79 1064.47 311.21 1064.78 311.52C1065.08 311.83 1065.5 312 1065.94 312z" style="fill: #d2b48c; fill-opacity: 0.7" /><path d="M1078.36 292.28C1078.8 292.28 1079.22 292.1 1079.53 291.8C1079.84 291.49 1080.01 291.07 1080.01 290.63C1080.01 290.19 1079.84 289.77 1079.53 289.46C1079.22 289.15 1078.8 288.98 1078.36 288.98C1077.92 288.98 1077.5 289.15 1077.2 289.46C1076.89 289.77 1076.71 290.19 1076.71 290.63C1076.71 291.07 1076.89 291.49 1077.2 291.8C1077.5 292.1 1077.92 292.28 1078.36 292.28z" style="fill: #d2b48c; fill-opacity: 0.7" /><path d="M1090.78 285C1091.22 285 1091.64 284.83 1091.95 284.52C1092.26 284.21 1092.43 283.79 1092.43 283.35C1092.43 282.91 1092.26 282.49 1091.95 282.19C1091.64 281.88 1091.22 281.7 1090.78 281.7C1090.34 281.7 1089.92 281.88 1089.62 282.19C1089.31 282.49 1089.13 282.91 1089.13 283.35C1089.13 283.79 1089.31 284.21 1089.62 284.52C1089.92 284.83 1090.34 285 1090.78 285z" style="fill: #d2b48c; fill-opacity: 0.7" /><path d="M1103.2 283.13C1103.64 283.13 1104.06 282.95 1104.37 282.64C1104.68 282.33 1104.85 281.92 1104.85 281.48C1104.85 281.04 1104.68 280.62 1104.37 280.31C1104.06 280 1103.64 279.83 1103.2 279.83C1102.76 279.83 1102.34 280 1102.04 280.31C1101.73 280.62 1101.55 281.04 1101.55 281.48C1101.55 281.92 1101.73 282.33 1102.04 282.64C1102.34 282.95 1102.76 283.13 1103.2 283.13z" style="fill: #d2b48c; fill-opacity: 0.7" /><path d="M1115.62 287.02C1116.06 287.02 1116.48 286.85 1116.79 286.54C1117.1 286.23 1117.27 285.81 1117.27 285.37C1117.27 284.93 1117.1 284.51 1116.79 284.2C1116.48 283.89 1116.06 283.72 1115.62 283.72C1115.18 283.72 1114.76 283.89 1114.46 284.2C1114.15 284.51 1113.97 284.93 1113.97 285.37C1113.97 285.81 1114.15 286.23 1114.46 286.54C1114.76 286.85 1115.18 287.02 1115.62 287.02z" style="fill: #d2b48c; fill-opacity: 0.7" /><path d="M1128.04 292.51C1128.48 292.51 1128.9 292.34 1129.21 292.03C1129.52 291.72 1129.69 291.3 1129.69 290.86C1129.69 290.43 1129.52 290.01 1129.21 289.7C1128.9 289.39 1128.48 289.21 1128.04 289.21C1127.6 289.21 1127.18 289.39 1126.88 289.7C1126.57 290.01 1126.39 290.43 1126.39 290.86C1126.39 291.3 1126.57 291.72 1126.88 292.03C1127.18 292.34 1127.6 292.51 1128.04 292.51z" style="fill: #d2b48c; fill-opacity: 0.7" /><path d="M1140.46 297.4C1140.9 297.4 1141.32 297.23 1141.63 296.92C1141.94 296.61 1142.11 296.19 1142.11 295.75C1142.11 295.32 1141.94 294.9 1141.63 294.59C1141.32 294.28 1140.9 294.1 1140.46 294.1C1140.02 294.1 1139.6 294.28 1139.3 294.59C1138.99 294.9 1138.81 295.32 1138.81 295.75C1138.81 296.19 1138.99 296.61 1139.3 296.92C1139.6 297.23 1140.02 297.4 1140.46 297.4z" style="fill: #d2b48c; fill-opacity: 0.7" /><path d="M1152.88 301.53C1153.32 301.53 1153.74 301.36 1154.05 301.05C1154.36 300.74 1154.53 300.32 1154.53 299.88C1154.53 299.44 1154.36 299.02 1154.05 298.71C1153.74 298.4 1153.32 298.23 1152.88 298.23C1152.44 298.23 1152.02 298.4 1151.72 298.71C1151.41 299.02 1151.23 299.44 1151.23 299.88C1151.23 300.32 1151.41 300.74 1151.72 301.05C1152.02 301.36 1152.44 301.53 1152.88 301.53z" style="fill: #d2b48c; fill-opacity: 0.7" /><path d="M1165.3 300.4C1165.74 300.4 1166.16 300.22 1166.47 299.91C1166.78 299.6 1166.95 299.19 1166.95 298.75C1166.95 298.31 1166.78 297.89 1166.47 297.58C1166.16 297.27 1165.74 297.1 1165.3 297.1C1164.86 297.1 1164.44 297.27 1164.14 297.58C1163.83 297.89 1163.65 298.31 1163.65 298.75C1163.65 299.19 1163.83 299.6 1164.14 299.91C1164.44 300.22 1164.86 300.4 1165.3 300.4z" style="fill: #d2b48c; fill-opacity: 0.7" /><path d="M1177.72 299.01C1178.16 299.01 1178.58 298.83 1178.89 298.52C1179.2 298.22 1179.37 297.8 1179.37 297.36C1179.37 296.92 1179.2 296.5 1178.89 296.19C1178.58 295.88 1178.16 295.71 1177.72 295.71C1177.28 295.71 1176.86 295.88 1176.56 296.19C1176.25 296.5 1176.07 296.92 1176.07 297.36C1176.07 297.8 1176.25 298.22 1176.56 298.52C1176.86 298.83 1177.28 299.01 1177.72 299.01z" style="fill: #d2b48c; fill-opacity: 0.7" /><path d="M1190.14 296.71C1190.58 296.71 1191 296.53 1191.31 296.22C1191.62 295.91 1191.79 295.49 1191.79 295.06C1191.79 294.62 1191.62 294.2 1191.31 293.89C1191 293.58 1190.58 293.41 1190.14 293.41C1189.7 293.41 1189.28 293.58 1188.98 293.89C1188.67 294.2 1188.49 294.62 1188.49 295.06C1188.49 295.49 1188.67 295.91 1188.98 296.22C1189.28 296.53 1189.7 296.71 1190.14 296.71z" style="fill: #d2b48c; fill-opacity: 0.7" /><path d="M1202.56 292.28C1203 292.28 1203.42 292.1 1203.73 291.8C1204.04 291.49 1204.21 291.07 1204.21 290.63C1204.21 290.19 1204.04 289.77 1203.73 289.46C1203.42 289.15 1203 288.98 1202.56 288.98C1202.12 288.98 1201.7 289.15 1201.4 289.46C1201.09 289.77 1200.91 290.19 1200.91 290.63C1200.91 291.07 1201.09 291.49 1201.4 291.8C1201.7 292.1 1202.12 292.28 1202.56 292.28z" style="fill: #d2b48c; fill-opacity: 0.7" /><path d="M1214.98 290.92C1215.42 290.92 1215.84 290.74 1216.15 290.43C1216.46 290.12 1216.63 289.71 1216.63 289.27C1216.63 288.83 1216.46 288.41 1216.15 288.1C1215.84 287.79 1215.42 287.62 1214.98 287.62C1214.54 287.62 1214.12 287.79 1213.82 288.1C1213.51 288.41 1213.33 288.83 1213.33 289.27C1213.33 289.71 1213.51 290.12 1213.82 290.43C1214.12 290.74 1214.54 290.92 1214.98 290.92z" style="fill: #d2b48c; fill-opacity: 0.7" /><path d="M1227.4 287.6C1227.84 287.6 1228.26 287.42 1228.57 287.11C1228.88 286.81 1229.05 286.39 1229.05 285.95C1229.05 285.51 1228.88 285.09 1228.57 284.78C1228.26 284.47 1227.84 284.3 1227.4 284.3C1226.96 284.3 1226.54 284.47 1226.24 284.78C1225.93 285.09 1225.75 285.51 1225.75 285.95C1225.75 286.39 1225.93 286.81 1226.24 287.11C1226.54 287.42 1226.96 287.6 1227.4 287.6z" style="fill: #d2b48c; fill-opacity: 0.7" /><path d="M1239.82 285.54C1240.26 285.54 1240.68 285.36 1240.99 285.05C1241.3 284.74 1241.47 284.32 1241.47 283.89C1241.47 283.45 1241.3 283.03 1240.99 282.72C1240.68 282.41 1240.26 282.24 1239.82 282.24C1239.38 282.24 1238.96 282.41 1238.66 282.72C1238.35 283.03 1238.17 283.45 1238.17 283.89C1238.17 284.32 1238.35 284.74 1238.66 285.05C1238.96 285.36 1239.38 285.54 1239.82 285.54z" style="fill: #d2b48c; fill-opacity: 0.7" /><path d="M1252.24 283.46C1252.68 283.46 1253.1 283.28 1253.41 282.98C1253.72 282.67 1253.89 282.25 1253.89 281.81C1253.89 281.37 1253.72 280.95 1253.41 280.64C1253.1 280.33 1252.68 280.16 1252.24 280.16C1251.8 280.16 1251.38 280.33 1251.08 280.64C1250.77 280.95 1250.59 281.37 1250.59 281.81C1250.59 282.25 1250.77 282.67 1251.08 282.98C1251.38 283.28 1251.8 283.46 1252.24 283.46z" style="fill: #d2b48c; fill-opacity: 0.7" /><path d="M1264.66 281.22C1265.1 281.22 1265.52 281.05 1265.83 280.74C1266.14 280.43 1266.31 280.01 1266.31 279.57C1266.31 279.14 1266.14 278.72 1265.83 278.41C1265.52 278.1 1265.1 277.92 1264.66 277.92C1264.22 277.92 1263.8 278.1 1263.5 278.41C1263.19 278.72 1263.01 279.14 1263.01 279.57C1263.01 280.01 1263.19 280.43 1263.5 280.74C1263.8 281.05 1264.22 281.22 1264.66 281.22z" style="fill: #d2b48c; fill-opacity: 0.7" /><path d="M1277.08 279.02C1277.52 279.02 1277.94 278.85 1278.25 278.54C1278.56 278.23 1278.73 277.81 1278.73 277.37C1278.73 276.94 1278.56 276.52 1278.25 276.21C1277.94 275.9 1277.52 275.72 1277.08 275.72C1276.64 275.72 1276.22 275.9 1275.92 276.21C1275.61 276.52 1275.43 276.94 1275.43 277.37C1275.43 277.81 1275.61 278.23 1275.92 278.54C1276.22 278.85 1276.64 279.02 1277.08 279.02z" style="fill: #d2b48c; fill-opacity: 0.7" /><path d="M1289.5 276.1C1289.94 276.1 1290.36 275.92 1290.67 275.61C1290.98 275.31 1291.15 274.89 1291.15 274.45C1291.15 274.01 1290.98 273.59 1290.67 273.28C1290.36 272.97 1289.94 272.8 1289.5 272.8C1289.06 272.8 1288.64 272.97 1288.34 273.28C1288.03 273.59 1287.85 274.01 1287.85 274.45C1287.85 274.89 1288.03 275.31 1288.34 275.61C1288.64 275.92 1289.06 276.1 1289.5 276.1z" style="fill: #d2b48c; fill-opacity: 0.7" /><path d="M1301.92 274.75C1302.36 274.75 1302.78 274.57 1303.09 274.26C1303.4 273.96 1303.57 273.54 1303.57 273.1C1303.57 272.66 1303.4 272.24 1303.09 271.93C1302.78 271.62 1302.36 271.45 1301.92 271.45C1301.48 271.45 1301.06 271.62 1300.76 271.93C1300.45 272.24 1300.27 272.66 1300.27 273.1C1300.27 273.54 1300.45 273.96 1300.76 274.26C1301.06 274.57 1301.48 274.75 1301.92 274.75z" style="fill: #d2b48c; fill-opacity: 0.7" /><path d="M1314.34 273.29C1314.78 273.29 1315.2 273.12 1315.51 272.81C1315.82 272.5 1315.99 272.08 1315.99 271.64C1315.99 271.21 1315.82 270.79 1315.51 270.48C1315.2 270.17 1314.78 269.99 1314.34 269.99C1313.9 269.99 1313.48 270.17 1313.18 270.48C1312.87 270.79 1312.69 271.21 1312.69 271.64C1312.69 272.08 1312.87 272.5 1313.18 272.81C1313.48 273.12 1313.9 273.29 1314.34 273.29z" style="fill: #d2b48c; fill-opacity: 0.7" /></g><path d="M1047.31 374.69L1047.31 251.5M1295.71 374.69L1295.71 251.5M1047.31 374.69L1295.71 374.69M1047.31 251.5L1295.71 251.5" style="fill: none; stroke: #888888; stroke-width: 0.4; stroke-linejoin: miter; stroke-linecap: square" /><path d="M1223.46 332.25L1286.46 332.25Q1288.96 332.25 1288.96 329.75L1288.96 260.75Q1288.96 258.25 1286.46 258.25L1223.46 258.25Q1220.96 258.25 1220.96 260.75L1220.96 329.75Q1220.96 332.25 1223.46 332.25z" style="fill: #ffffff; opacity: 0.8; stroke: #cccccc; stroke-width: 0.4; stroke-linejoin: miter" /><path d="M1226.27 270.43L1238.52 270.43L1250.77 270.43" style="fill: none; stroke-dasharray: 6.29,2.72; stroke-dashoffset: 0; stroke: #00bfbf; stroke-width: 1.7" /><g transform="translate(1260.774 274.808)"><text><tspan x="0" y="-0.384" style="font-style: oblique; font-size: 12.5px; font-family:'DejaVu Sans',sans-serif">D</tspan><tspan x="9.625" y="3.17" style="font-style: oblique; font-size: 8.75px; font-family:'DejaVu Sans',sans-serif">ℓ</tspan><tspan x="10.538" y="-5.361" style="font-size: 8.75px; font-family:'DejaVu Sans',sans-serif">BB</tspan></text></g><path d="M1226.27 294.68L1238.52 294.68L1250.77 294.68" style="fill: none; stroke-dasharray: 1.8,2.61; stroke-dashoffset: 0; stroke: #9400d3; stroke-width: 1.8" /><g transform="translate(1260.774 299.058)"><text><tspan x="0" y="-0.114" style="font-style: oblique; font-size: 12.5px; font-family:'DejaVu Sans',sans-serif">D</tspan><tspan x="9.625" y="3.441" style="font-style: oblique; font-size: 8.75px; font-family:'DejaVu Sans',sans-serif">ℓ</tspan><tspan x="10.538" y="-5.091" style="font-size: 8.75px; font-family:'DejaVu Sans',sans-serif">B</tspan><tspan x="15.646" y="-6.627" style="font-size: 8.75px; font-family:'DejaVu Sans',sans-serif">̂</tspan><tspan x="16.541" y="-5.091" style="font-size: 8.75px; font-family:'DejaVu Sans',sans-serif">B</tspan></text></g><path d="M1226.27 318.93L1238.52 318.93L1250.77 318.93" style="fill: none; stroke: #d2b48c; stroke-opacity: 0.7; stroke-width: 1.7; stroke-linecap: square" /><g transform="translate(1260.774 323.308)"><text><tspan x="0" y="-0.114" style="font-style: oblique; font-size: 12.5px; font-family:'DejaVu Sans',sans-serif">D</tspan><tspan x="9.625" y="3.441" style="font-style: oblique; font-size: 8.75px; font-family:'DejaVu Sans',sans-serif">ℓ</tspan><tspan x="10.538" y="-5.091" style="font-size: 8.75px; font-family:'DejaVu Sans',sans-serif">B</tspan><tspan x="15.646" y="-6.627" style="font-size: 8.75px; font-family:'DejaVu Sans',sans-serif">̂</tspan><tspan x="16.541" y="-5.091" style="font-size: 8.75px; font-family:'DejaVu Sans',sans-serif">B</tspan><tspan x="21.649" y="-6.627" style="font-size: 8.75px; font-family:'DejaVu Sans',sans-serif">̂</tspan></text></g><path d="M1047.31 436.39L1295.71 436.39L1295.71 374.69L1047.31 374.69z" style="fill: #ffffff" /><path d="M1047.31 436.39L1047.31 432.64M1047.31 374.69L1047.31 378.44" style="stroke: #000000; stroke-width: 0.75" /><text style="font-size: 12.1px; font-family:'DejaVu Sans',sans-serif; text-anchor: middle" x="1047.312" y="447.336" transform="rotate(-0 1047.312 447.336)">0</text><path d="M1109.41 436.39L1109.41 432.64M1109.41 374.69L1109.41 378.44" style="stroke: #000000; stroke-width: 0.75" /><text style="font-size: 12.1px; font-family:'DejaVu Sans',sans-serif; text-anchor: middle" x="1109.412" y="447.336" transform="rotate(-0 1109.412 447.336)">100</text><path d="M1171.51 436.39L1171.51 432.64M1171.51 374.69L1171.51 378.44" style="stroke: #000000; stroke-width: 0.75" /><text style="font-size: 12.1px; font-family:'DejaVu Sans',sans-serif; text-anchor: middle" x="1171.512" y="447.336" transform="rotate(-0 1171.512 447.336)">200</text><path d="M1233.61 436.39L1233.61 432.64M1233.61 374.69L1233.61 378.44" style="stroke: #000000; stroke-width: 0.75" /><text style="font-size: 12.1px; font-family:'DejaVu Sans',sans-serif; text-anchor: middle" x="1233.612" y="447.336" transform="rotate(-0 1233.612 447.336)">300</text><path d="M1295.71 436.39L1295.71 432.64M1295.71 374.69L1295.71 378.44" style="stroke: #000000; stroke-width: 0.75" /><text style="font-size: 12.1px; font-family:'DejaVu Sans',sans-serif; text-anchor: middle" x="1295.712" y="447.336" transform="rotate(-0 1295.712 447.336)">400</text><path d="M1059.73 436.39L1059.73 434.69M1059.73 374.69L1059.73 376.39M1072.15 436.39L1072.15 434.69M1072.15 374.69L1072.15 376.39M1084.57 436.39L1084.57 434.69M1084.57 374.69L1084.57 376.39M1096.99 436.39L1096.99 434.69M1096.99 374.69L1096.99 376.39M1121.83 436.39L1121.83 434.69M1121.83 374.69L1121.83 376.39M1134.25 436.39L1134.25 434.69M1134.25 374.69L1134.25 376.39M1146.67 436.39L1146.67 434.69M1146.67 374.69L1146.67 376.39M1159.09 436.39L1159.09 434.69M1159.09 374.69L1159.09 376.39M1183.93 436.39L1183.93 434.69M1183.93 374.69L1183.93 376.39M1196.35 436.39L1196.35 434.69M1196.35 374.69L1196.35 376.39M1208.77 436.39L1208.77 434.69M1208.77 374.69L1208.77 376.39M1221.19 436.39L1221.19 434.69M1221.19 374.69L1221.19 376.39M1246.03 436.39L1246.03 434.69M1246.03 374.69L1246.03 376.39M1258.45 436.39L1258.45 434.69M1258.45 374.69L1258.45 376.39M1270.87 436.39L1270.87 434.69M1270.87 374.69L1270.87 376.39M1283.29 436.39L1283.29 434.69M1283.29 374.69L1283.29 376.39" style="stroke: #000000; stroke-width: 0.6" /><g transform="translate(1168.488 463.244)"><text><tspan x="0" y="-0.609" style="font-style: oblique; font-size: 14.4px; font-family:'DejaVu Sans',sans-serif">ℓ</tspan></text></g><path d="M1047.31 436.39L1051.06 436.39M1295.71 436.39L1291.96 436.39" style="stroke: #000000; stroke-width: 0.75" /><text style="font-size: 12.1px; font-family:'DejaVu Sans',sans-serif; text-anchor: end" x="1045.662" y="440.989" transform="rotate(-0 1045.662 440.989)">0.0</text><path d="M1047.31 418.24L1051.06 418.24M1295.71 418.24L1291.96 418.24" style="stroke: #000000; stroke-width: 0.75" /><text style="font-size: 12.1px; font-family:'DejaVu Sans',sans-serif; text-anchor: end" x="1045.662" y="422.840" transform="rotate(-0 1045.662 422.840)">0.5</text><path d="M1047.31 400.1L1051.06 400.1M1295.71 400.1L1291.96 400.1" style="stroke: #000000; stroke-width: 0.75" /><text style="font-size: 12.1px; font-family:'DejaVu Sans',sans-serif; text-anchor: end" x="1045.662" y="404.692" transform="rotate(-0 1045.662 404.692)">1.0</text><path d="M1047.31 381.95L1051.06 381.95M1295.71 381.95L1291.96 381.95" style="stroke: #000000; stroke-width: 0.75" /><text style="font-size: 12.1px; font-family:'DejaVu Sans',sans-serif; text-anchor: end" x="1045.662" y="386.544" transform="rotate(-0 1045.662 386.544)">1.5</text><path d="M1047.31 432.76L1049.01 432.76M1295.71 432.76L1294.01 432.76M1047.31 429.13L1049.01 429.13M1295.71 429.13L1294.01 429.13M1047.31 425.5L1049.01 425.5M1295.71 425.5L1294.01 425.5M1047.31 421.87L1049.01 421.87M1295.71 421.87L1294.01 421.87M1047.31 414.61L1049.01 414.61M1295.71 414.61L1294.01 414.61M1047.31 410.98L1049.01 410.98M1295.71 410.98L1294.01 410.98M1047.31 407.35L1049.01 407.35M1295.71 407.35L1294.01 407.35M1047.31 403.73L1049.01 403.73M1295.71 403.73L1294.01 403.73M1047.31 396.47L1049.01 396.47M1295.71 396.47L1294.01 396.47M1047.31 392.84L1049.01 392.84M1295.71 392.84L1294.01 392.84M1047.31 389.21L1049.01 389.21M1295.71 389.21L1294.01 389.21M1047.31 385.58L1049.01 385.58M1295.71 385.58L1294.01 385.58M1047.31 378.32L1049.01 378.32M1295.71 378.32L1294.01 378.32M1047.31 374.69L1049.01 374.69M1295.71 374.69L1294.01 374.69" style="stroke: #000000; stroke-width: 0.6" /><g transform="translate(1020.443 434.432) rotate(-90)"><text><tspan x="0" y="-0.887" style="font-style: oblique; font-size: 14.4px; font-family:'DejaVu Sans',sans-serif">D</tspan><tspan x="11.069" y="2.941" style="font-style: oblique; font-size: 10.08px; font-family:'DejaVu Sans',sans-serif">ℓ</tspan><tspan x="12.051" y="-6.246" style="font-style: oblique; font-size: 10.08px; font-family:'DejaVu Sans',sans-serif">BB</tspan><tspan x="19.186" y="-8.605" style="font-size: 10.08px; font-family:'DejaVu Sans',sans-serif">̂</tspan><tspan x="26.089" y="-8.605" style="font-size: 10.08px; font-family:'DejaVu Sans',sans-serif">̂</tspan><tspan x="26.24" y="-0.887" style="font-size: 14.4px; font-family:'DejaVu Sans',sans-serif">/</tspan><tspan x="31.083" y="-0.887" style="font-style: oblique; font-size: 14.4px; font-family:'DejaVu Sans',sans-serif">D</tspan><tspan x="42.152" y="2.941" style="font-style: oblique; font-size: 10.08px; font-family:'DejaVu Sans',sans-serif">ℓ</tspan><tspan x="43.134" y="-6.246" style="font-style: oblique; font-size: 10.08px; font-family:'DejaVu Sans',sans-serif">BB</tspan></text></g><path d="M1053.52 400.1L1065.94 400.28L1078.36 400.46L1090.78 400.46L1103.2 400.82L1115.62 401.91L1128.04 403.73L1140.46 406.27L1152.88 408.63L1165.3 410.98L1177.72 413.53L1190.14 415.78L1202.56 416.68L1214.98 417.77L1227.4 417.12L1239.82 416.9L1252.24 415.78L1264.66 414.61L1277.08 415.19L1289.5 414.98L1301.92 415.7L1311.4 415.7" clip-path="url(#p0b7f21fb4b)" style="fill: none; stroke: #9400d3; stroke-width: 1.7; stroke-linecap: square" /><path d="M1053.52 397.08L1065.94 397.55L1078.36 397.55L1090.78 399.01L1103.2 400.46L1115.62 401.55L1128.04 401.98L1140.46 395.05L1152.88 381.58L1165.3 352.91L1177.72 327.5" clip-path="url(#p0b7f21fb4b)" style="fill: none; stroke: #d2b48c; stroke-width: 1.7; stroke-linecap: square" /><path d="M1047.31 400.1L1295.71 400.1" clip-path="url(#p0b7f21fb4b)" style="fill: none; stroke-dasharray: 2.59,1.12; stroke-dashoffset: 0; stroke: #ff0000; stroke-width: 0.7" /><path d="M1053.52 419.22L1053.52 374.94M1065.94 412.73L1065.94 382.38M1078.36 405.29L1078.36 389.82M1090.78 407.35L1090.78 390.66M1103.2 409.02L1103.2 391.89M1115.62 411.24L1115.62 391.86M1128.04 413.45L1128.04 390.51M1140.46 409.39L1140.46 380.71M1152.88 403L1152.88 360.17M1165.3 383.62L1165.3 322.2M1177.72 363.8L1177.72 291.21" clip-path="url(#p0b7f21fb4b)" style="fill: none; stroke: #d2b48c; stroke-width: 1.35" /><g clip-path="url(#p0b7f21fb4b)"><path d="M1055.12 419.22L1051.92 419.22" style="fill: #1f77b4; stroke: #d2b48c; stroke-width: 1.35" /><path d="M1067.54 412.73L1064.34 412.73" style="fill: #1f77b4; stroke: #d2b48c; stroke-width: 1.35" /><path d="M1079.96 405.29L1076.76 405.29" style="fill: #1f77b4; stroke: #d2b48c; stroke-width: 1.35" /><path d="M1092.38 407.35L1089.18 407.35" style="fill: #1f77b4; stroke: #d2b48c; stroke-width: 1.35" /><path d="M1104.8 409.02L1101.6 409.02" style="fill: #1f77b4; stroke: #d2b48c; stroke-width: 1.35" /><path d="M1117.22 411.24L1114.02 411.24" style="fill: #1f77b4; stroke: #d2b48c; stroke-width: 1.35" /><path d="M1129.64 413.45L1126.44 413.45" style="fill: #1f77b4; stroke: #d2b48c; stroke-width: 1.35" /><path d="M1142.06 409.39L1138.86 409.39" style="fill: #1f77b4; stroke: #d2b48c; stroke-width: 1.35" /><path d="M1154.48 403L1151.28 403" style="fill: #1f77b4; stroke: #d2b48c; stroke-width: 1.35" /><path d="M1166.9 383.62L1163.7 383.62" style="fill: #1f77b4; stroke: #d2b48c; stroke-width: 1.35" /><path d="M1179.32 363.8L1176.12 363.8" style="fill: #1f77b4; stroke: #d2b48c; stroke-width: 1.35" /></g><g clip-path="url(#p0b7f21fb4b)"><path d="M1055.12 374.94L1051.92 374.94" style="fill: #1f77b4; stroke: #d2b48c; stroke-width: 1.35" /><path d="M1067.54 382.38L1064.34 382.38" style="fill: #1f77b4; stroke: #d2b48c; stroke-width: 1.35" /><path d="M1079.96 389.82L1076.76 389.82" style="fill: #1f77b4; stroke: #d2b48c; stroke-width: 1.35" /><path d="M1092.38 390.66L1089.18 390.66" style="fill: #1f77b4; stroke: #d2b48c; stroke-width: 1.35" /><path d="M1104.8 391.89L1101.6 391.89" style="fill: #1f77b4; stroke: #d2b48c; stroke-width: 1.35" /><path d="M1117.22 391.86L1114.02 391.86" style="fill: #1f77b4; stroke: #d2b48c; stroke-width: 1.35" /><path d="M1129.64 390.51L1126.44 390.51" style="fill: #1f77b4; stroke: #d2b48c; stroke-width: 1.35" /><path d="M1142.06 380.71L1138.86 380.71" style="fill: #1f77b4; stroke: #d2b48c; stroke-width: 1.35" /><path d="M1154.48 360.17L1151.28 360.17" style="fill: #1f77b4; stroke: #d2b48c; stroke-width: 1.35" /><path d="M1166.9 322.2L1163.7 322.2" style="fill: #1f77b4; stroke: #d2b48c; stroke-width: 1.35" /><path d="M1179.32 291.21L1176.12 291.21" style="fill: #1f77b4; stroke: #d2b48c; stroke-width: 1.35" /></g><g clip-path="url(#p0b7f21fb4b)"><path d="M1053.52 398.43C1053.88 398.43 1054.22 398.29 1054.48 398.04C1054.73 397.78 1054.87 397.44 1054.87 397.08C1054.87 396.72 1054.73 396.38 1054.48 396.13C1054.22 395.88 1053.88 395.73 1053.52 395.73C1053.16 395.73 1052.82 395.88 1052.57 396.13C1052.31 396.38 1052.17 396.72 1052.17 397.08C1052.17 397.44 1052.31 397.78 1052.57 398.04C1052.82 398.29 1053.16 398.43 1053.52 398.43z" style="fill: #d2b48c" /><path d="M1065.94 398.9C1066.3 398.9 1066.64 398.76 1066.9 398.51C1067.15 398.26 1067.29 397.91 1067.29 397.55C1067.29 397.2 1067.15 396.85 1066.9 396.6C1066.64 396.35 1066.3 396.2 1065.94 396.2C1065.58 396.2 1065.24 396.35 1064.99 396.6C1064.73 396.85 1064.59 397.2 1064.59 397.55C1064.59 397.91 1064.73 398.26 1064.99 398.51C1065.24 398.76 1065.58 398.9 1065.94 398.9z" style="fill: #d2b48c" /><path d="M1078.36 398.9C1078.72 398.9 1079.06 398.76 1079.32 398.51C1079.57 398.26 1079.71 397.91 1079.71 397.55C1079.71 397.2 1079.57 396.85 1079.32 396.6C1079.06 396.35 1078.72 396.2 1078.36 396.2C1078 396.2 1077.66 396.35 1077.41 396.6C1077.15 396.85 1077.01 397.2 1077.01 397.55C1077.01 397.91 1077.15 398.26 1077.41 398.51C1077.66 398.76 1078 398.9 1078.36 398.9z" style="fill: #d2b48c" /><path d="M1090.78 400.36C1091.14 400.36 1091.48 400.21 1091.74 399.96C1091.99 399.71 1092.13 399.36 1092.13 399.01C1092.13 398.65 1091.99 398.31 1091.74 398.05C1091.48 397.8 1091.14 397.66 1090.78 397.66C1090.42 397.66 1090.08 397.8 1089.83 398.05C1089.57 398.31 1089.43 398.65 1089.43 399.01C1089.43 399.36 1089.57 399.71 1089.83 399.96C1090.08 400.21 1090.42 400.36 1090.78 400.36z" style="fill: #d2b48c" /><path d="M1103.2 401.81C1103.56 401.81 1103.9 401.67 1104.16 401.41C1104.41 401.16 1104.55 400.82 1104.55 400.46C1104.55 400.1 1104.41 399.76 1104.16 399.5C1103.9 399.25 1103.56 399.11 1103.2 399.11C1102.84 399.11 1102.5 399.25 1102.25 399.5C1101.99 399.76 1101.85 400.1 1101.85 400.46C1101.85 400.82 1101.99 401.16 1102.25 401.41C1102.5 401.67 1102.84 401.81 1103.2 401.81z" style="fill: #d2b48c" /><path d="M1115.62 402.9C1115.98 402.9 1116.32 402.76 1116.58 402.5C1116.83 402.25 1116.97 401.91 1116.97 401.55C1116.97 401.19 1116.83 400.85 1116.58 400.59C1116.32 400.34 1115.98 400.2 1115.62 400.2C1115.26 400.2 1114.92 400.34 1114.67 400.59C1114.41 400.85 1114.27 401.19 1114.27 401.55C1114.27 401.91 1114.41 402.25 1114.67 402.5C1114.92 402.76 1115.26 402.9 1115.62 402.9z" style="fill: #d2b48c" /><path d="M1128.04 403.33C1128.4 403.33 1128.74 403.19 1129 402.94C1129.25 402.68 1129.39 402.34 1129.39 401.98C1129.39 401.62 1129.25 401.28 1129 401.03C1128.74 400.78 1128.4 400.63 1128.04 400.63C1127.68 400.63 1127.34 400.78 1127.09 401.03C1126.83 401.28 1126.69 401.62 1126.69 401.98C1126.69 402.34 1126.83 402.68 1127.09 402.94C1127.34 403.19 1127.68 403.33 1128.04 403.33z" style="fill: #d2b48c" /><path d="M1140.46 396.4C1140.82 396.4 1141.16 396.26 1141.42 396C1141.67 395.75 1141.81 395.41 1141.81 395.05C1141.81 394.69 1141.67 394.35 1141.42 394.1C1141.16 393.84 1140.82 393.7 1140.46 393.7C1140.1 393.7 1139.76 393.84 1139.51 394.1C1139.25 394.35 1139.11 394.69 1139.11 395.05C1139.11 395.41 1139.25 395.75 1139.51 396C1139.76 396.26 1140.1 396.4 1140.46 396.4z" style="fill: #d2b48c" /><path d="M1152.88 382.93C1153.24 382.93 1153.58 382.79 1153.84 382.54C1154.09 382.29 1154.23 381.94 1154.23 381.58C1154.23 381.23 1154.09 380.88 1153.84 380.63C1153.58 380.38 1153.24 380.23 1152.88 380.23C1152.52 380.23 1152.18 380.38 1151.93 380.63C1151.67 380.88 1151.53 381.23 1151.53 381.58C1151.53 381.94 1151.67 382.29 1151.93 382.54C1152.18 382.79 1152.52 382.93 1152.88 382.93z" style="fill: #d2b48c" /><path d="M1165.3 354.26C1165.66 354.26 1166 354.12 1166.26 353.86C1166.51 353.61 1166.65 353.27 1166.65 352.91C1166.65 352.55 1166.51 352.21 1166.26 351.96C1166 351.7 1165.66 351.56 1165.3 351.56C1164.94 351.56 1164.6 351.7 1164.35 351.96C1164.09 352.21 1163.95 352.55 1163.95 352.91C1163.95 353.27 1164.09 353.61 1164.35 353.86C1164.6 354.12 1164.94 354.26 1165.3 354.26z" style="fill: #d2b48c" /><path d="M1177.72 328.85C1178.08 328.85 1178.42 328.71 1178.68 328.46C1178.93 328.2 1179.07 327.86 1179.07 327.5C1179.07 327.14 1178.93 326.8 1178.68 326.55C1178.42 326.29 1178.08 326.15 1177.72 326.15C1177.36 326.15 1177.02 326.29 1176.77 326.55C1176.51 326.8 1176.37 327.14 1176.37 327.5C1176.37 327.86 1176.51 328.2 1176.77 328.46C1177.02 328.71 1177.36 328.85 1177.72 328.85z" style="fill: #d2b48c" /></g><path d="M1047.31 436.39L1047.31 374.69M1295.71 436.39L1295.71 374.69M1047.31 436.39L1295.71 436.39M1047.31 374.69L1295.71 374.69" style="fill: none; stroke: #888888; stroke-width: 0.4; stroke-linejoin: miter; stroke-linecap: square" /><g transform="translate(91.544 19.8)"><text><tspan x="0" y="-0.562" style="font-size: 19.3px; font-family:'DejaVu Sans',sans-serif">0 </tspan><tspan x="18.366" y="-0.562" style="font-style: oblique; font-size: 19.3px; font-family:'DejaVu Sans',sans-serif">μ</tspan><tspan x="30.614" y="-0.562" style="font-size: 19.3px; font-family:'DejaVu Sans',sans-serif">K-arcmin</tspan></text></g><g transform="translate(426.872 19.8)"><text><tspan x="0" y="-0.562" style="font-size: 19.3px; font-family:'DejaVu Sans',sans-serif">0.5 </tspan><tspan x="36.733" y="-0.562" style="font-style: oblique; font-size: 19.3px; font-family:'DejaVu Sans',sans-serif">μ</tspan><tspan x="48.98" y="-0.562" style="font-size: 19.3px; font-family:'DejaVu Sans',sans-serif">K-arcmin</tspan></text></g><g transform="translate(749.696 19.8)"><text><tspan x="0" y="-0.562" style="font-size: 19.3px; font-family:'DejaVu Sans',sans-serif">1 </tspan><tspan x="18.366" y="-0.562" style="font-style: oblique; font-size: 19.3px; font-family:'DejaVu Sans',sans-serif">μ</tspan><tspan x="30.614" y="-0.562" style="font-size: 19.3px; font-family:'DejaVu Sans',sans-serif">K-arcmin</tspan></text></g><g transform="translate(1078.736 19.8)"><text><tspan x="0" y="-0.562" style="font-size: 19.3px; font-family:'DejaVu Sans',sans-serif">2 </tspan><tspan x="18.366" y="-0.562" style="font-style: oblique; font-size: 19.3px; font-family:'DejaVu Sans',sans-serif">μ</tspan><tspan x="30.614" y="-0.562" style="font-size: 19.3px; font-family:'DejaVu Sans',sans-serif">K-arcmin</tspan></text></g><defs><clipPath id="p1ac5917ccf"><rect x="49.32" y="29.232" width="248.4" height="123.696" /></clipPath><clipPath id="p35e9d8f86e"><rect x="49.32" y="152.928" width="248.4" height="61.2" /></clipPath><clipPath id="p9d2b2149be"><rect x="49.32" y="251.496" width="248.4" height="123.192" /></clipPath><clipPath id="p37dc53b4db"><rect x="49.32" y="374.688" width="248.4" height="61.704" /></clipPath><clipPath id="pab0f6bf279"><rect x="381.96" y="29.232" width="248.4" height="123.696" /></clipPath><clipPath id="p6c5f8d5e27"><rect x="381.96" y="152.928" width="248.4" height="61.2" /></clipPath><clipPath id="p1e0292fb23"><rect x="381.96" y="251.496" width="248.4" height="123.192" /></clipPath><clipPath id="p38100a9426"><rect x="381.96" y="374.688" width="248.4" height="61.704" /></clipPath><clipPath id="pe963dcbb41"><rect x="714.6" y="29.232" width="248.4" height="123.696" /></clipPath><clipPath id="p3696af2811"><rect x="714.6" y="152.928" width="248.4" height="61.2" /></clipPath><clipPath id="p1cc8ac85f8"><rect x="714.6" y="251.496" width="248.4" height="123.192" /></clipPath><clipPath id="pa7e80b2240"><rect x="714.6" y="374.688" width="248.4" height="61.704" /></clipPath><clipPath id="p06f78b19bc"><rect x="1047.312" y="29.232" width="248.4" height="123.696" /></clipPath><clipPath id="p29f8575d44"><rect x="1047.312" y="152.928" width="248.4" height="61.2" /></clipPath><clipPath id="pcb508e6025"><rect x="1047.312" y="251.496" width="248.4" height="123.192" /></clipPath><clipPath id="p0b7f21fb4b"><rect x="1047.312" y="374.688" width="248.4" height="61.704" /></clipPath></defs></svg></body></html>
